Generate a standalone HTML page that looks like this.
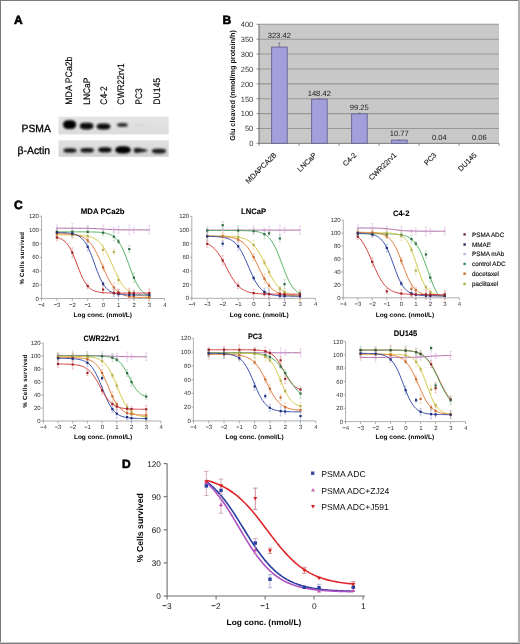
<!DOCTYPE html><html><head><meta charset="utf-8"><style>html,body{margin:0;padding:0;background:#fff;overflow:hidden}svg{display:block}text{font-family:"Liberation Sans",sans-serif;text-rendering:geometricPrecision}</style></head><body>
<svg width="520" height="644" viewBox="0 0 520 644" style="will-change:transform">
<rect width="520" height="644" fill="#fff"/>
<text x="14.00" y="23.90" font-size="12" stroke="#000" stroke-width="0.6" font-weight="bold">A</text>
<text transform="translate(72.10,104.70) rotate(-90)" font-size="9.5" stroke="#000" stroke-width="0.15" textLength="48.2" lengthAdjust="spacingAndGlyphs">MDA PCa2b</text>
<text transform="translate(90.00,104.70) rotate(-90)" font-size="9.5" stroke="#000" stroke-width="0.15" textLength="27.1" lengthAdjust="spacingAndGlyphs">LNCaP</text>
<text transform="translate(106.70,104.70) rotate(-90)" font-size="9.5" stroke="#000" stroke-width="0.15" textLength="18.3" lengthAdjust="spacingAndGlyphs">C4-2</text>
<text transform="translate(123.60,104.70) rotate(-90)" font-size="9.5" stroke="#000" stroke-width="0.15" textLength="41.5" lengthAdjust="spacingAndGlyphs">CWR22rv1</text>
<text transform="translate(142.30,104.70) rotate(-90)" font-size="9.5" stroke="#000" stroke-width="0.15" textLength="16.5" lengthAdjust="spacingAndGlyphs">PC3</text>
<text transform="translate(160.00,104.70) rotate(-90)" font-size="9.5" stroke="#000" stroke-width="0.15" textLength="26.6" lengthAdjust="spacingAndGlyphs">DU145</text>
<text x="21.50" y="132.30" font-size="10.5" stroke="#000" stroke-width="0.3" textLength="29.3" lengthAdjust="spacingAndGlyphs">PSMA</text>
<text x="17.60" y="153.80" font-size="10.5" stroke="#000" stroke-width="0.3" textLength="32.5" lengthAdjust="spacingAndGlyphs">β-Actin</text>
<defs><linearGradient id="gb1" x1="0" y1="0" x2="0" y2="1"><stop offset="0" stop-color="#e4e4e4"/><stop offset="1" stop-color="#dcdcdc"/></linearGradient><linearGradient id="gb2" x1="0" y1="0" x2="0" y2="1"><stop offset="0" stop-color="#e2e2e2"/><stop offset="1" stop-color="#d2d2d2"/></linearGradient><filter id="bl" x="-20%" y="-60%" width="140%" height="220%"><feGaussianBlur stdDeviation="0.85"/></filter></defs>
<rect x="58.50" y="116.60" width="110.20" height="17.80" fill="url(#gb1)"/>
<rect x="58.50" y="140.30" width="110.20" height="16.50" fill="url(#gb2)"/>
<g filter="url(#bl)">
<rect x="63.0" y="120.2" width="13.2" height="8.8" rx="4.8" ry="4.2" fill="#050505"/>
<rect x="79.8" y="122.8" width="13.6" height="6.6" rx="4.8" ry="3.3" fill="#080808"/>
<rect x="96.6" y="123.6" width="13.8" height="5.8" rx="5.0" ry="2.9" fill="#0a0a0a"/>
<rect x="117.0" y="123.0" width="10.8" height="3.8" rx="4.5" ry="1.9" fill="#2a2a2a"/>
<ellipse cx="140" cy="125" rx="5" ry="1.2" fill="#d8d8d8"/>
<rect x="63.5" y="148.3" width="13.0" height="4.4" rx="4.8" ry="2.2" fill="#1a1a1a"/>
<rect x="80.4" y="148.0" width="13.4" height="4.6" rx="4.8" ry="2.3" fill="#161616"/>
<rect x="98.2" y="147.2" width="13.4" height="5.2" rx="5.0" ry="2.6" fill="#101010"/>
<rect x="115.2" y="146.2" width="15.6" height="7.4" rx="6.0" ry="3.7" fill="#050505"/>
<rect x="151.8" y="148.8" width="14.2" height="4.6" rx="5.0" ry="2.3" fill="#1c1c1c"/>
<path d="M135.5,148.1 C139,147.8 141,148.5 143,149.1 C145.5,149.3 147.4,149.8 147.4,150.6 C147.4,151.6 145,151.9 143,152.1 C141,152.6 138,153.0 135.5,152.9 C133.3,152.6 133.3,148.3 135.5,148.1 Z" fill="#1e1e1e"/>
</g>
<text x="222.50" y="24.00" font-size="12" stroke="#000" stroke-width="0.6" font-weight="bold">B</text>
<text transform="translate(235.20,140.70) rotate(-90)" font-size="7.2" font-weight="bold" fill="#111" textLength="110.5" lengthAdjust="spacingAndGlyphs">Glu cleaved (nmol/mg protein/h)</text>
<rect x="259.00" y="24.30" width="240.00" height="119.05" fill="#c8c8c8"/>
<line x1="259.00" y1="128.47" x2="499.00" y2="128.47" stroke="#979797" stroke-width="1.1"/>
<line x1="259.00" y1="113.59" x2="499.00" y2="113.59" stroke="#979797" stroke-width="1.1"/>
<line x1="259.00" y1="98.71" x2="499.00" y2="98.71" stroke="#979797" stroke-width="1.1"/>
<line x1="259.00" y1="83.83" x2="499.00" y2="83.83" stroke="#979797" stroke-width="1.1"/>
<line x1="259.00" y1="68.94" x2="499.00" y2="68.94" stroke="#979797" stroke-width="1.1"/>
<line x1="259.00" y1="54.06" x2="499.00" y2="54.06" stroke="#979797" stroke-width="1.1"/>
<line x1="259.00" y1="39.18" x2="499.00" y2="39.18" stroke="#979797" stroke-width="1.1"/>
<line x1="259.00" y1="24.30" x2="499.00" y2="24.30" stroke="#979797" stroke-width="1.1"/>
<line x1="256.60" y1="143.35" x2="259.00" y2="143.35" stroke="#808080" stroke-width="0.9"/>
<text x="253.30" y="146.15" font-size="7.5" text-anchor="end" fill="#333">0</text>
<line x1="256.60" y1="128.47" x2="259.00" y2="128.47" stroke="#808080" stroke-width="0.9"/>
<text x="253.30" y="131.27" font-size="7.5" text-anchor="end" fill="#333">50</text>
<line x1="256.60" y1="113.59" x2="259.00" y2="113.59" stroke="#808080" stroke-width="0.9"/>
<text x="253.30" y="116.39" font-size="7.5" text-anchor="end" fill="#333">100</text>
<line x1="256.60" y1="98.71" x2="259.00" y2="98.71" stroke="#808080" stroke-width="0.9"/>
<text x="253.30" y="101.51" font-size="7.5" text-anchor="end" fill="#333">150</text>
<line x1="256.60" y1="83.83" x2="259.00" y2="83.83" stroke="#808080" stroke-width="0.9"/>
<text x="253.30" y="86.62" font-size="7.5" text-anchor="end" fill="#333">200</text>
<line x1="256.60" y1="68.94" x2="259.00" y2="68.94" stroke="#808080" stroke-width="0.9"/>
<text x="253.30" y="71.74" font-size="7.5" text-anchor="end" fill="#333">250</text>
<line x1="256.60" y1="54.06" x2="259.00" y2="54.06" stroke="#808080" stroke-width="0.9"/>
<text x="253.30" y="56.86" font-size="7.5" text-anchor="end" fill="#333">300</text>
<line x1="256.60" y1="39.18" x2="259.00" y2="39.18" stroke="#808080" stroke-width="0.9"/>
<text x="253.30" y="41.98" font-size="7.5" text-anchor="end" fill="#333">350</text>
<line x1="256.60" y1="24.30" x2="259.00" y2="24.30" stroke="#808080" stroke-width="0.9"/>
<text x="253.30" y="27.10" font-size="7.5" text-anchor="end" fill="#333">400</text>
<line x1="259.00" y1="24.30" x2="259.00" y2="143.85" stroke="#686868" stroke-width="1"/>
<line x1="259.00" y1="143.35" x2="499.00" y2="143.35" stroke="#7a7a7a" stroke-width="1"/>
<line x1="259.00" y1="143.35" x2="259.00" y2="145.95" stroke="#808080" stroke-width="0.9"/>
<line x1="299.00" y1="143.35" x2="299.00" y2="145.95" stroke="#808080" stroke-width="0.9"/>
<line x1="339.00" y1="143.35" x2="339.00" y2="145.95" stroke="#808080" stroke-width="0.9"/>
<line x1="379.00" y1="143.35" x2="379.00" y2="145.95" stroke="#808080" stroke-width="0.9"/>
<line x1="419.00" y1="143.35" x2="419.00" y2="145.95" stroke="#808080" stroke-width="0.9"/>
<line x1="459.00" y1="143.35" x2="459.00" y2="145.95" stroke="#808080" stroke-width="0.9"/>
<line x1="499.00" y1="143.35" x2="499.00" y2="145.95" stroke="#808080" stroke-width="0.9"/>
<rect x="271.60" y="47.09" width="15.6" height="96.26" fill="#a2a0da" stroke="#6a6a96" stroke-width="1.0"/>
<line x1="279.30" y1="47.09" x2="279.30" y2="42.93" stroke="#6a6a8a" stroke-width="0.7"/>
<line x1="278.10" y1="42.93" x2="280.50" y2="42.93" stroke="#6a6a8a" stroke-width="0.7"/>
<text x="279.30" y="37.90" font-size="7.6" text-anchor="middle" fill="#222">323.42</text>
<rect x="311.60" y="99.18" width="15.6" height="44.17" fill="#a2a0da" stroke="#6a6a96" stroke-width="1.0"/>
<line x1="319.30" y1="99.18" x2="319.30" y2="98.43" stroke="#6a6a8a" stroke-width="0.7"/>
<line x1="318.10" y1="98.43" x2="320.50" y2="98.43" stroke="#6a6a8a" stroke-width="0.7"/>
<text x="319.30" y="95.80" font-size="7.6" text-anchor="middle" fill="#222">148.42</text>
<rect x="351.60" y="113.81" width="15.6" height="29.54" fill="#a2a0da" stroke="#6a6a96" stroke-width="1.0"/>
<line x1="359.30" y1="113.81" x2="359.30" y2="113.07" stroke="#6a6a8a" stroke-width="0.7"/>
<line x1="358.10" y1="113.07" x2="360.50" y2="113.07" stroke="#6a6a8a" stroke-width="0.7"/>
<text x="359.30" y="109.80" font-size="7.6" text-anchor="middle" fill="#222">99.25</text>
<rect x="391.60" y="140.14" width="15.6" height="3.21" fill="#a2a0da" stroke="#6a6a96" stroke-width="1.0"/>
<line x1="399.30" y1="140.14" x2="399.30" y2="140.00" stroke="#6a6a8a" stroke-width="0.7"/>
<line x1="398.10" y1="140.00" x2="400.50" y2="140.00" stroke="#6a6a8a" stroke-width="0.7"/>
<text x="399.30" y="135.50" font-size="7.6" text-anchor="middle" fill="#222">10.77</text>
<text x="439.30" y="139.50" font-size="7.6" text-anchor="middle" fill="#222">0.04</text>
<text x="479.30" y="139.50" font-size="7.6" text-anchor="middle" fill="#222">0.06</text>
<text transform="translate(277.00,155.60) rotate(-45)" font-size="7.3" stroke="#222" stroke-width="0.15" text-anchor="end" fill="#222">MDAPCA2B</text>
<text transform="translate(317.00,155.60) rotate(-45)" font-size="7.3" stroke="#222" stroke-width="0.15" text-anchor="end" fill="#222">LNCaP</text>
<text transform="translate(357.00,155.60) rotate(-45)" font-size="7.3" stroke="#222" stroke-width="0.15" text-anchor="end" fill="#222">C4-2</text>
<text transform="translate(397.00,155.60) rotate(-45)" font-size="7.3" stroke="#222" stroke-width="0.15" text-anchor="end" fill="#222">CWR22rv1</text>
<text transform="translate(437.00,155.60) rotate(-45)" font-size="7.3" stroke="#222" stroke-width="0.15" text-anchor="end" fill="#222">PC3</text>
<text transform="translate(477.00,155.60) rotate(-45)" font-size="7.3" stroke="#222" stroke-width="0.15" text-anchor="end" fill="#222">DU145</text>
<line x1="41.50" y1="216.20" x2="41.50" y2="298.90" stroke="#9a9a9a" stroke-width="0.8"/>
<line x1="41.10" y1="298.50" x2="164.70" y2="298.50" stroke="#9a9a9a" stroke-width="0.8"/>
<line x1="39.60" y1="298.50" x2="41.50" y2="298.50" stroke="#9a9a9a" stroke-width="0.8"/>
<text x="38.90" y="300.60" font-size="6" text-anchor="end" fill="#333">0</text>
<line x1="39.60" y1="284.78" x2="41.50" y2="284.78" stroke="#9a9a9a" stroke-width="0.8"/>
<text x="38.90" y="286.88" font-size="6" text-anchor="end" fill="#333">20</text>
<line x1="39.60" y1="271.07" x2="41.50" y2="271.07" stroke="#9a9a9a" stroke-width="0.8"/>
<text x="38.90" y="273.17" font-size="6" text-anchor="end" fill="#333">40</text>
<line x1="39.60" y1="257.35" x2="41.50" y2="257.35" stroke="#9a9a9a" stroke-width="0.8"/>
<text x="38.90" y="259.45" font-size="6" text-anchor="end" fill="#333">60</text>
<line x1="39.60" y1="243.63" x2="41.50" y2="243.63" stroke="#9a9a9a" stroke-width="0.8"/>
<text x="38.90" y="245.73" font-size="6" text-anchor="end" fill="#333">80</text>
<line x1="39.60" y1="229.92" x2="41.50" y2="229.92" stroke="#9a9a9a" stroke-width="0.8"/>
<text x="38.90" y="232.02" font-size="6" text-anchor="end" fill="#333">100</text>
<line x1="39.60" y1="216.20" x2="41.50" y2="216.20" stroke="#9a9a9a" stroke-width="0.8"/>
<text x="38.90" y="218.30" font-size="6" text-anchor="end" fill="#333">120</text>
<line x1="41.50" y1="298.50" x2="41.50" y2="300.90" stroke="#9a9a9a" stroke-width="0.8"/>
<rect x="38.60" y="304.25" width="2.80" height="0.75" fill="#444"/>
<text x="41.60" y="306.60" font-size="6" fill="#333">4</text>
<line x1="56.90" y1="298.50" x2="56.90" y2="300.90" stroke="#9a9a9a" stroke-width="0.8"/>
<rect x="54.00" y="304.25" width="2.80" height="0.75" fill="#444"/>
<text x="57.00" y="306.60" font-size="6" fill="#333">3</text>
<line x1="72.30" y1="298.50" x2="72.30" y2="300.90" stroke="#9a9a9a" stroke-width="0.8"/>
<rect x="69.40" y="304.25" width="2.80" height="0.75" fill="#444"/>
<text x="72.40" y="306.60" font-size="6" fill="#333">2</text>
<line x1="87.70" y1="298.50" x2="87.70" y2="300.90" stroke="#9a9a9a" stroke-width="0.8"/>
<rect x="84.80" y="304.25" width="2.80" height="0.75" fill="#444"/>
<text x="87.80" y="306.60" font-size="6" fill="#333">1</text>
<line x1="103.10" y1="298.50" x2="103.10" y2="300.90" stroke="#9a9a9a" stroke-width="0.8"/>
<text x="103.30" y="306.60" font-size="6" text-anchor="middle" fill="#333">0</text>
<line x1="118.50" y1="298.50" x2="118.50" y2="300.90" stroke="#9a9a9a" stroke-width="0.8"/>
<text x="118.70" y="306.60" font-size="6" text-anchor="middle" fill="#333">1</text>
<line x1="133.90" y1="298.50" x2="133.90" y2="300.90" stroke="#9a9a9a" stroke-width="0.8"/>
<text x="134.10" y="306.60" font-size="6" text-anchor="middle" fill="#333">2</text>
<line x1="149.30" y1="298.50" x2="149.30" y2="300.90" stroke="#9a9a9a" stroke-width="0.8"/>
<text x="149.50" y="306.60" font-size="6" text-anchor="middle" fill="#333">3</text>
<line x1="164.70" y1="298.50" x2="164.70" y2="300.90" stroke="#9a9a9a" stroke-width="0.8"/>
<text x="164.90" y="306.60" font-size="6" text-anchor="middle" fill="#333">4</text>
<text x="80.80" y="214.00" font-size="7.9" stroke="#000" stroke-width="0.1" font-weight="bold" textLength="43.8" lengthAdjust="spacingAndGlyphs">MDA PCa2b</text>
<text x="73.50" y="317.30" font-size="6.4" font-weight="bold" textLength="58.5" lengthAdjust="spacingAndGlyphs">Log conc. (nmol/L)</text>
<text transform="translate(23.70,284.60) rotate(-90)" font-size="6.1" font-weight="bold" textLength="52.70000000000002" lengthAdjust="spacing">% Cells survived</text>
<path d="M56.90,224.77V231.63M55.80,224.77h2.2M55.80,231.63h2.2" stroke="#e0b8e4" stroke-width="0.6" fill="none"/>
<path d="M72.30,223.42V233.02M71.20,223.42h2.2M71.20,233.02h2.2" stroke="#e0b8e4" stroke-width="0.6" fill="none"/>
<path d="M87.70,225.61V231.10M86.60,225.61h2.2M86.60,231.10h2.2" stroke="#e0b8e4" stroke-width="0.6" fill="none"/>
<path d="M103.10,224.94V233.17M102.00,224.94h2.2M102.00,233.17h2.2" stroke="#e0b8e4" stroke-width="0.6" fill="none"/>
<path d="M113.88,227.57V231.69M112.78,227.57h2.2M112.78,231.69h2.2" stroke="#e0b8e4" stroke-width="0.6" fill="none"/>
<path d="M118.50,226.33V233.19M117.40,226.33h2.2M117.40,233.19h2.2" stroke="#e0b8e4" stroke-width="0.6" fill="none"/>
<path d="M129.28,225.08V234.68M128.18,225.08h2.2M128.18,234.68h2.2" stroke="#e0b8e4" stroke-width="0.6" fill="none"/>
<path d="M133.90,227.16V232.64M132.80,227.16h2.2M132.80,232.64h2.2" stroke="#e0b8e4" stroke-width="0.6" fill="none"/>
<path d="M149.30,225.80V234.03M148.20,225.80h2.2M148.20,234.03h2.2" stroke="#e0b8e4" stroke-width="0.6" fill="none"/>
<path d="M56.90,229.78V233.89M55.80,229.78h2.2M55.80,233.89h2.2" stroke="#a8d0b0" stroke-width="0.6" fill="none"/>
<path d="M72.30,228.41V235.27M71.20,228.41h2.2M71.20,235.27h2.2" stroke="#a8d0b0" stroke-width="0.6" fill="none"/>
<path d="M87.70,227.10V236.70M86.60,227.10h2.2M86.60,236.70h2.2" stroke="#a8d0b0" stroke-width="0.6" fill="none"/>
<path d="M103.10,229.95V235.44M102.00,229.95h2.2M102.00,235.44h2.2" stroke="#a8d0b0" stroke-width="0.6" fill="none"/>
<path d="M113.88,232.60V240.83M112.78,232.60h2.2M112.78,240.83h2.2" stroke="#a8d0b0" stroke-width="0.6" fill="none"/>
<path d="M118.50,239.52V243.63M117.40,239.52h2.2M117.40,243.63h2.2" stroke="#a8d0b0" stroke-width="0.6" fill="none"/>
<path d="M129.28,245.69V252.55M128.18,245.69h2.2M128.18,252.55h2.2" stroke="#a8d0b0" stroke-width="0.6" fill="none"/>
<path d="M133.90,272.91V282.51M132.80,272.91h2.2M132.80,282.51h2.2" stroke="#a8d0b0" stroke-width="0.6" fill="none"/>
<path d="M149.30,292.95V298.44M148.20,292.95h2.2M148.20,298.44h2.2" stroke="#a8d0b0" stroke-width="0.6" fill="none"/>
<path d="M56.90,230.69V238.92M55.80,230.69h2.2M55.80,238.92h2.2" stroke="#e4dca0" stroke-width="0.6" fill="none"/>
<path d="M72.30,232.88V236.99M71.20,232.88h2.2M71.20,236.99h2.2" stroke="#e4dca0" stroke-width="0.6" fill="none"/>
<path d="M87.70,232.80V239.66M86.60,232.80h2.2M86.60,239.66h2.2" stroke="#e4dca0" stroke-width="0.6" fill="none"/>
<path d="M103.10,245.00V254.61M102.00,245.00h2.2M102.00,254.61h2.2" stroke="#e4dca0" stroke-width="0.6" fill="none"/>
<path d="M113.88,249.12V254.61M112.78,249.12h2.2M112.78,254.61h2.2" stroke="#e4dca0" stroke-width="0.6" fill="none"/>
<path d="M118.50,275.87V284.10M117.40,275.87h2.2M117.40,284.10h2.2" stroke="#e4dca0" stroke-width="0.6" fill="none"/>
<path d="M129.28,289.65V293.77M128.18,289.65h2.2M128.18,293.77h2.2" stroke="#e4dca0" stroke-width="0.6" fill="none"/>
<path d="M133.90,290.55V297.40M132.80,290.55h2.2M132.80,297.40h2.2" stroke="#e4dca0" stroke-width="0.6" fill="none"/>
<path d="M149.30,291.39V300.99M148.20,291.39h2.2M148.20,300.99h2.2" stroke="#e4dca0" stroke-width="0.6" fill="none"/>
<path d="M56.90,230.83V236.32M55.80,230.83h2.2M55.80,236.32h2.2" stroke="#ecc0a0" stroke-width="0.6" fill="none"/>
<path d="M72.30,230.20V238.43M71.20,230.20h2.2M71.20,238.43h2.2" stroke="#ecc0a0" stroke-width="0.6" fill="none"/>
<path d="M87.70,238.38V242.50M86.60,238.38h2.2M86.60,242.50h2.2" stroke="#ecc0a0" stroke-width="0.6" fill="none"/>
<path d="M103.10,263.97V270.82M102.00,263.97h2.2M102.00,270.82h2.2" stroke="#ecc0a0" stroke-width="0.6" fill="none"/>
<path d="M113.88,282.72V292.32M112.78,282.72h2.2M112.78,292.32h2.2" stroke="#ecc0a0" stroke-width="0.6" fill="none"/>
<path d="M118.50,289.31V294.79M117.40,289.31h2.2M117.40,294.79h2.2" stroke="#ecc0a0" stroke-width="0.6" fill="none"/>
<path d="M129.28,292.34V300.57M128.18,292.34h2.2M128.18,300.57h2.2" stroke="#ecc0a0" stroke-width="0.6" fill="none"/>
<path d="M133.90,295.02V299.13M132.80,295.02h2.2M132.80,299.13h2.2" stroke="#ecc0a0" stroke-width="0.6" fill="none"/>
<path d="M149.30,294.24V301.10M148.20,294.24h2.2M148.20,301.10h2.2" stroke="#ecc0a0" stroke-width="0.6" fill="none"/>
<path d="M56.90,227.73V237.33M55.80,227.73h2.2M55.80,237.33h2.2" stroke="#a0a8d8" stroke-width="0.6" fill="none"/>
<path d="M72.30,230.89V236.37M71.20,230.89h2.2M71.20,236.37h2.2" stroke="#a0a8d8" stroke-width="0.6" fill="none"/>
<path d="M87.70,242.66V250.89M86.60,242.66h2.2M86.60,250.89h2.2" stroke="#a0a8d8" stroke-width="0.6" fill="none"/>
<path d="M103.10,281.78V285.89M102.00,281.78h2.2M102.00,285.89h2.2" stroke="#a0a8d8" stroke-width="0.6" fill="none"/>
<path d="M113.88,289.64V296.50M112.78,289.64h2.2M112.78,296.50h2.2" stroke="#a0a8d8" stroke-width="0.6" fill="none"/>
<path d="M118.50,289.34V298.94M117.40,289.34h2.2M117.40,298.94h2.2" stroke="#a0a8d8" stroke-width="0.6" fill="none"/>
<path d="M129.28,292.13V297.62M128.18,292.13h2.2M128.18,297.62h2.2" stroke="#a0a8d8" stroke-width="0.6" fill="none"/>
<path d="M133.90,290.83V299.06M132.80,290.83h2.2M132.80,299.06h2.2" stroke="#a0a8d8" stroke-width="0.6" fill="none"/>
<path d="M149.30,292.94V297.06M148.20,292.94h2.2M148.20,297.06h2.2" stroke="#a0a8d8" stroke-width="0.6" fill="none"/>
<path d="M56.90,234.08V240.94M55.80,234.08h2.2M55.80,240.94h2.2" stroke="#e4a0a0" stroke-width="0.6" fill="none"/>
<path d="M72.30,247.83V257.43M71.20,247.83h2.2M71.20,257.43h2.2" stroke="#e4a0a0" stroke-width="0.6" fill="none"/>
<path d="M87.70,283.33V288.82M86.60,283.33h2.2M86.60,288.82h2.2" stroke="#e4a0a0" stroke-width="0.6" fill="none"/>
<path d="M103.10,285.47V293.70M102.00,285.47h2.2M102.00,293.70h2.2" stroke="#e4a0a0" stroke-width="0.6" fill="none"/>
<path d="M113.88,290.96V295.08M112.78,290.96h2.2M112.78,295.08h2.2" stroke="#e4a0a0" stroke-width="0.6" fill="none"/>
<path d="M118.50,289.63V296.49M117.40,289.63h2.2M117.40,296.49h2.2" stroke="#e4a0a0" stroke-width="0.6" fill="none"/>
<path d="M129.28,288.28V297.88M128.18,288.28h2.2M128.18,297.88h2.2" stroke="#e4a0a0" stroke-width="0.6" fill="none"/>
<path d="M133.90,290.34V295.82M132.80,290.34h2.2M132.80,295.82h2.2" stroke="#e4a0a0" stroke-width="0.6" fill="none"/>
<path d="M149.30,288.97V297.20M148.20,288.97h2.2M148.20,297.20h2.2" stroke="#e4a0a0" stroke-width="0.6" fill="none"/>
<polyline points="56.90,228.20 58.05,228.20 59.21,228.20 60.36,228.20 61.52,228.21 62.67,228.21 63.83,228.21 64.98,228.21 66.14,228.21 67.29,228.21 68.45,228.21 69.61,228.21 70.76,228.22 71.91,228.22 73.07,228.22 74.22,228.22 75.38,228.23 76.53,228.23 77.69,228.24 78.84,228.25 80.00,228.25 81.16,228.26 82.31,228.28 83.47,228.29 84.62,228.30 85.78,228.32 86.93,228.34 88.08,228.37 89.24,228.39 90.39,228.43 91.55,228.46 92.70,228.50 93.86,228.55 95.01,228.60 96.17,228.65 97.32,228.71 98.48,228.77 99.63,228.84 100.79,228.91 101.94,228.99 103.10,229.06 104.25,229.13 105.41,229.21 106.56,229.28 107.72,229.34 108.88,229.41 110.03,229.47 111.19,229.52 112.34,229.57 113.49,229.62 114.65,229.66 115.80,229.69 116.96,229.72 118.11,229.75 119.27,229.78 120.42,229.80 121.58,229.81 122.73,229.83 123.89,229.84 125.04,229.85 126.20,229.86 127.35,229.87 128.51,229.88 129.66,229.88 130.82,229.89 131.97,229.89 133.13,229.90 134.28,229.90 135.44,229.90 136.59,229.91 137.75,229.91 138.90,229.91 140.06,229.91 141.21,229.91 142.37,229.91 143.52,229.91 144.68,229.91 145.83,229.91 146.99,229.91 148.14,229.91 149.30,229.91" fill="none" stroke="#a8609f" stroke-width="0.95"/>
<polyline points="56.90,231.84 58.05,231.84 59.21,231.84 60.36,231.84 61.52,231.84 62.67,231.84 63.83,231.84 64.98,231.84 66.14,231.84 67.29,231.84 68.45,231.84 69.61,231.84 70.76,231.84 71.91,231.84 73.07,231.84 74.22,231.84 75.38,231.85 76.53,231.85 77.69,231.85 78.84,231.85 80.00,231.86 81.16,231.86 82.31,231.86 83.47,231.87 84.62,231.88 85.78,231.88 86.93,231.89 88.08,231.91 89.24,231.92 90.39,231.94 91.55,231.96 92.70,231.99 93.86,232.02 95.01,232.06 96.17,232.11 97.32,232.16 98.48,232.23 99.63,232.32 100.79,232.42 101.94,232.54 103.10,232.69 104.25,232.87 105.41,233.09 106.56,233.35 107.72,233.66 108.88,234.04 110.03,234.49 111.19,235.03 112.34,235.67 113.49,236.43 114.65,237.33 115.80,238.39 116.96,239.62 118.11,241.05 119.27,242.69 120.42,244.56 121.58,246.67 122.73,249.01 123.89,251.58 125.04,254.35 126.20,257.30 127.35,260.39 128.51,263.55 129.66,266.74 130.82,269.89 131.97,272.95 133.13,275.87 134.28,278.60 135.44,281.13 136.59,283.42 137.75,285.48 138.90,287.30 140.06,288.90 141.21,290.29 142.37,291.49 143.52,292.51 144.68,293.38 145.83,294.12 146.99,294.74 148.14,295.26 149.30,295.69" fill="none" stroke="#4cac58" stroke-width="0.95"/>
<polyline points="56.90,234.80 58.05,234.80 59.21,234.81 60.36,234.81 61.52,234.82 62.67,234.82 63.83,234.83 64.98,234.84 66.14,234.84 67.29,234.86 68.45,234.87 69.61,234.88 70.76,234.90 71.91,234.93 73.07,234.95 74.22,234.98 75.38,235.02 76.53,235.06 77.69,235.12 78.84,235.18 80.00,235.25 81.16,235.34 82.31,235.44 83.47,235.56 84.62,235.71 85.78,235.88 86.93,236.08 88.08,236.31 89.24,236.59 90.39,236.92 91.55,237.31 92.70,237.76 93.86,238.29 95.01,238.91 96.17,239.62 97.32,240.45 98.48,241.40 99.63,242.49 100.79,243.74 101.94,245.14 103.10,246.71 104.25,248.46 105.41,250.39 106.56,252.49 107.72,254.74 108.88,257.14 110.03,259.66 111.19,262.26 112.34,264.90 113.49,267.56 114.65,270.19 115.80,272.76 116.96,275.22 118.11,277.56 119.27,279.74 120.42,281.76 121.58,283.60 122.73,285.27 123.89,286.76 125.04,288.09 126.20,289.26 127.35,290.29 128.51,291.18 129.66,291.95 130.82,292.62 131.97,293.20 133.13,293.69 134.28,294.11 135.44,294.47 136.59,294.77 137.75,295.03 138.90,295.25 140.06,295.44 141.21,295.59 142.37,295.73 143.52,295.84 144.68,295.93 145.83,296.01 146.99,296.08 148.14,296.14 149.30,296.19" fill="none" stroke="#d2c640" stroke-width="0.95"/>
<polyline points="56.90,233.57 58.05,233.59 59.21,233.61 60.36,233.63 61.52,233.66 62.67,233.69 63.83,233.73 64.98,233.78 66.14,233.83 67.29,233.89 68.45,233.97 69.61,234.05 70.76,234.15 71.91,234.27 73.07,234.42 74.22,234.58 75.38,234.78 76.53,235.01 77.69,235.27 78.84,235.59 80.00,235.96 81.16,236.38 82.31,236.88 83.47,237.46 84.62,238.13 85.78,238.90 86.93,239.78 88.08,240.79 89.24,241.94 90.39,243.24 91.55,244.70 92.70,246.33 93.86,248.12 95.01,250.09 96.17,252.22 97.32,254.50 98.48,256.92 99.63,259.45 100.79,262.06 101.94,264.72 103.10,267.40 104.25,270.04 105.41,272.63 106.56,275.13 107.72,277.50 108.88,279.74 110.03,281.81 111.19,283.72 112.34,285.46 113.49,287.03 114.65,288.44 115.80,289.69 116.96,290.79 118.11,291.76 119.27,292.60 120.42,293.34 121.58,293.97 122.73,294.52 123.89,295.00 125.04,295.40 126.20,295.75 127.35,296.05 128.51,296.30 129.66,296.52 130.82,296.70 131.97,296.86 133.13,297.00 134.28,297.11 135.44,297.21 136.59,297.29 137.75,297.36 138.90,297.42 140.06,297.47 141.21,297.51 142.37,297.55 143.52,297.58 144.68,297.60 145.83,297.62 146.99,297.64 148.14,297.66 149.30,297.67" fill="none" stroke="#de7632" stroke-width="0.95"/>
<polyline points="56.90,232.53 58.05,232.55 59.21,232.57 60.36,232.60 61.52,232.63 62.67,232.67 63.83,232.72 64.98,232.78 66.14,232.85 67.29,232.94 68.45,233.05 69.61,233.19 70.76,233.35 71.91,233.55 73.07,233.80 74.22,234.10 75.38,234.46 76.53,234.90 77.69,235.44 78.84,236.08 80.00,236.84 81.16,237.76 82.31,238.85 83.47,240.13 84.62,241.62 85.78,243.35 86.93,245.32 88.08,247.55 89.24,250.03 90.39,252.73 91.55,255.65 92.70,258.72 93.86,261.89 95.01,265.10 96.17,268.28 97.32,271.37 98.48,274.31 99.63,277.05 100.79,279.56 101.94,281.82 103.10,283.83 104.25,285.60 105.41,287.12 106.56,288.43 107.72,289.55 108.88,290.49 110.03,291.28 111.19,291.93 112.34,292.48 113.49,292.93 114.65,293.31 115.80,293.62 116.96,293.87 118.11,294.08 119.27,294.25 120.42,294.39 121.58,294.50 122.73,294.59 123.89,294.67 125.04,294.73 126.20,294.78 127.35,294.82 128.51,294.85 129.66,294.88 130.82,294.90 131.97,294.92 133.13,294.94 134.28,294.95 135.44,294.96 136.59,294.97 137.75,294.97 138.90,294.98 140.06,294.98 141.21,294.99 142.37,294.99 143.52,294.99 144.68,294.99 145.83,295.00 146.99,295.00 148.14,295.00 149.30,295.00" fill="none" stroke="#3048a6" stroke-width="0.95"/>
<polyline points="56.90,237.51 58.05,237.81 59.21,238.18 60.36,238.63 61.52,239.17 62.67,239.83 63.83,240.63 64.98,241.58 66.14,242.72 67.29,244.06 68.45,245.63 69.61,247.44 70.76,249.50 71.91,251.81 73.07,254.35 74.22,257.10 75.38,260.01 76.53,263.03 77.69,266.08 78.84,269.10 80.00,272.01 81.16,274.78 82.31,277.34 83.47,279.66 84.62,281.74 85.78,283.56 86.93,285.15 88.08,286.50 89.24,287.65 90.39,288.62 91.55,289.43 92.70,290.10 93.86,290.65 95.01,291.10 96.17,291.48 97.32,291.78 98.48,292.03 99.63,292.23 100.79,292.39 101.94,292.52 103.10,292.63 104.25,292.72 105.41,292.79 106.56,292.84 107.72,292.89 108.88,292.93 110.03,292.96 111.19,292.98 112.34,293.00 113.49,293.02 114.65,293.03 115.80,293.04 116.96,293.05 118.11,293.05 119.27,293.06 120.42,293.06 121.58,293.07 122.73,293.07 123.89,293.07 125.04,293.07 126.20,293.08 127.35,293.08 128.51,293.08 129.66,293.08 130.82,293.08 131.97,293.08 133.13,293.08 134.28,293.08 135.44,293.08 136.59,293.08 137.75,293.08 138.90,293.08 140.06,293.08 141.21,293.08 142.37,293.08 143.52,293.08 144.68,293.08 145.83,293.08 146.99,293.08 148.14,293.08 149.30,293.08" fill="none" stroke="#d23636" stroke-width="0.95"/>
<rect x="55.90" y="227.20" width="2.0" height="2.0" fill="#d4a8d8" fill-opacity="0.6"/>
<rect x="71.30" y="227.22" width="2.0" height="2.0" fill="#d4a8d8" fill-opacity="0.6"/>
<rect x="86.70" y="227.36" width="2.0" height="2.0" fill="#d4a8d8" fill-opacity="0.6"/>
<rect x="102.10" y="228.06" width="2.0" height="2.0" fill="#d4a8d8" fill-opacity="0.6"/>
<rect x="112.88" y="228.63" width="2.0" height="2.0" fill="#d4a8d8" fill-opacity="0.6"/>
<rect x="117.50" y="228.76" width="2.0" height="2.0" fill="#d4a8d8" fill-opacity="0.6"/>
<rect x="128.28" y="228.88" width="2.0" height="2.0" fill="#d4a8d8" fill-opacity="0.6"/>
<rect x="132.90" y="228.90" width="2.0" height="2.0" fill="#d4a8d8" fill-opacity="0.6"/>
<rect x="148.30" y="228.91" width="2.0" height="2.0" fill="#d4a8d8" fill-opacity="0.6"/>
<rect x="55.80" y="230.74" width="2.2" height="2.2" fill="#2e6a44"/>
<rect x="71.20" y="230.74" width="2.2" height="2.2" fill="#2e6a44"/>
<rect x="86.60" y="230.80" width="2.2" height="2.2" fill="#2e6a44"/>
<rect x="102.00" y="231.59" width="2.2" height="2.2" fill="#2e6a44"/>
<rect x="112.78" y="235.62" width="2.2" height="2.2" fill="#2e6a44"/>
<rect x="117.40" y="240.47" width="2.2" height="2.2" fill="#2e6a44"/>
<rect x="128.18" y="248.02" width="2.2" height="2.2" fill="#2e6a44"/>
<rect x="132.80" y="276.61" width="2.2" height="2.2" fill="#2e6a44"/>
<rect x="148.20" y="294.59" width="2.2" height="2.2" fill="#2e6a44"/>
<rect x="55.80" y="233.70" width="2.2" height="2.2" fill="#b8b050"/>
<rect x="71.20" y="233.83" width="2.2" height="2.2" fill="#b8b050"/>
<rect x="86.60" y="235.13" width="2.2" height="2.2" fill="#b8b050"/>
<rect x="102.00" y="248.71" width="2.2" height="2.2" fill="#b8b050"/>
<rect x="112.78" y="250.76" width="2.2" height="2.2" fill="#b8b050"/>
<rect x="117.40" y="278.88" width="2.2" height="2.2" fill="#b8b050"/>
<rect x="128.18" y="290.61" width="2.2" height="2.2" fill="#b8b050"/>
<rect x="132.80" y="292.88" width="2.2" height="2.2" fill="#b8b050"/>
<rect x="148.20" y="295.09" width="2.2" height="2.2" fill="#b8b050"/>
<rect x="55.80" y="232.47" width="2.2" height="2.2" fill="#c86a30"/>
<rect x="71.20" y="233.22" width="2.2" height="2.2" fill="#c86a30"/>
<rect x="86.60" y="239.34" width="2.2" height="2.2" fill="#c86a30"/>
<rect x="102.00" y="266.30" width="2.2" height="2.2" fill="#c86a30"/>
<rect x="112.78" y="286.42" width="2.2" height="2.2" fill="#c86a30"/>
<rect x="117.40" y="290.95" width="2.2" height="2.2" fill="#c86a30"/>
<rect x="128.18" y="295.35" width="2.2" height="2.2" fill="#c86a30"/>
<rect x="132.80" y="295.97" width="2.2" height="2.2" fill="#c86a30"/>
<rect x="148.20" y="296.57" width="2.2" height="2.2" fill="#c86a30"/>
<rect x="55.80" y="231.43" width="2.2" height="2.2" fill="#1e2c7a"/>
<rect x="71.20" y="232.53" width="2.2" height="2.2" fill="#1e2c7a"/>
<rect x="86.60" y="245.68" width="2.2" height="2.2" fill="#1e2c7a"/>
<rect x="102.00" y="282.73" width="2.2" height="2.2" fill="#1e2c7a"/>
<rect x="112.78" y="291.97" width="2.2" height="2.2" fill="#1e2c7a"/>
<rect x="117.40" y="293.04" width="2.2" height="2.2" fill="#1e2c7a"/>
<rect x="128.18" y="293.77" width="2.2" height="2.2" fill="#1e2c7a"/>
<rect x="132.80" y="293.85" width="2.2" height="2.2" fill="#1e2c7a"/>
<rect x="148.20" y="293.90" width="2.2" height="2.2" fill="#1e2c7a"/>
<rect x="55.80" y="236.41" width="2.2" height="2.2" fill="#9a2428"/>
<rect x="71.20" y="251.53" width="2.2" height="2.2" fill="#9a2428"/>
<rect x="86.60" y="284.98" width="2.2" height="2.2" fill="#9a2428"/>
<rect x="102.00" y="288.48" width="2.2" height="2.2" fill="#9a2428"/>
<rect x="112.78" y="291.92" width="2.2" height="2.2" fill="#9a2428"/>
<rect x="117.40" y="291.96" width="2.2" height="2.2" fill="#9a2428"/>
<rect x="128.18" y="291.98" width="2.2" height="2.2" fill="#9a2428"/>
<rect x="132.80" y="291.98" width="2.2" height="2.2" fill="#9a2428"/>
<rect x="148.20" y="291.98" width="2.2" height="2.2" fill="#9a2428"/>
<line x1="191.80" y1="216.30" x2="191.80" y2="298.70" stroke="#9a9a9a" stroke-width="0.8"/>
<line x1="191.40" y1="298.30" x2="315.40" y2="298.30" stroke="#9a9a9a" stroke-width="0.8"/>
<line x1="189.90" y1="298.30" x2="191.80" y2="298.30" stroke="#9a9a9a" stroke-width="0.8"/>
<text x="189.20" y="300.40" font-size="6" text-anchor="end" fill="#333">0</text>
<line x1="189.90" y1="284.63" x2="191.80" y2="284.63" stroke="#9a9a9a" stroke-width="0.8"/>
<text x="189.20" y="286.73" font-size="6" text-anchor="end" fill="#333">20</text>
<line x1="189.90" y1="270.97" x2="191.80" y2="270.97" stroke="#9a9a9a" stroke-width="0.8"/>
<text x="189.20" y="273.07" font-size="6" text-anchor="end" fill="#333">40</text>
<line x1="189.90" y1="257.30" x2="191.80" y2="257.30" stroke="#9a9a9a" stroke-width="0.8"/>
<text x="189.20" y="259.40" font-size="6" text-anchor="end" fill="#333">60</text>
<line x1="189.90" y1="243.63" x2="191.80" y2="243.63" stroke="#9a9a9a" stroke-width="0.8"/>
<text x="189.20" y="245.73" font-size="6" text-anchor="end" fill="#333">80</text>
<line x1="189.90" y1="229.97" x2="191.80" y2="229.97" stroke="#9a9a9a" stroke-width="0.8"/>
<text x="189.20" y="232.07" font-size="6" text-anchor="end" fill="#333">100</text>
<line x1="189.90" y1="216.30" x2="191.80" y2="216.30" stroke="#9a9a9a" stroke-width="0.8"/>
<text x="189.20" y="218.40" font-size="6" text-anchor="end" fill="#333">120</text>
<line x1="191.80" y1="298.30" x2="191.80" y2="300.70" stroke="#9a9a9a" stroke-width="0.8"/>
<rect x="188.90" y="304.05" width="2.80" height="0.75" fill="#444"/>
<text x="191.90" y="306.40" font-size="6" fill="#333">4</text>
<line x1="207.25" y1="298.30" x2="207.25" y2="300.70" stroke="#9a9a9a" stroke-width="0.8"/>
<rect x="204.35" y="304.05" width="2.80" height="0.75" fill="#444"/>
<text x="207.35" y="306.40" font-size="6" fill="#333">3</text>
<line x1="222.70" y1="298.30" x2="222.70" y2="300.70" stroke="#9a9a9a" stroke-width="0.8"/>
<rect x="219.80" y="304.05" width="2.80" height="0.75" fill="#444"/>
<text x="222.80" y="306.40" font-size="6" fill="#333">2</text>
<line x1="238.15" y1="298.30" x2="238.15" y2="300.70" stroke="#9a9a9a" stroke-width="0.8"/>
<rect x="235.25" y="304.05" width="2.80" height="0.75" fill="#444"/>
<text x="238.25" y="306.40" font-size="6" fill="#333">1</text>
<line x1="253.60" y1="298.30" x2="253.60" y2="300.70" stroke="#9a9a9a" stroke-width="0.8"/>
<text x="253.80" y="306.40" font-size="6" text-anchor="middle" fill="#333">0</text>
<line x1="269.05" y1="298.30" x2="269.05" y2="300.70" stroke="#9a9a9a" stroke-width="0.8"/>
<text x="269.25" y="306.40" font-size="6" text-anchor="middle" fill="#333">1</text>
<line x1="284.50" y1="298.30" x2="284.50" y2="300.70" stroke="#9a9a9a" stroke-width="0.8"/>
<text x="284.70" y="306.40" font-size="6" text-anchor="middle" fill="#333">2</text>
<line x1="299.95" y1="298.30" x2="299.95" y2="300.70" stroke="#9a9a9a" stroke-width="0.8"/>
<text x="300.15" y="306.40" font-size="6" text-anchor="middle" fill="#333">3</text>
<line x1="315.40" y1="298.30" x2="315.40" y2="300.70" stroke="#9a9a9a" stroke-width="0.8"/>
<text x="315.60" y="306.40" font-size="6" text-anchor="middle" fill="#333">4</text>
<text x="241.00" y="214.00" font-size="7.9" stroke="#000" stroke-width="0.1" font-weight="bold" textLength="25.0" lengthAdjust="spacingAndGlyphs">LNCaP</text>
<text x="229.80" y="317.20" font-size="6.4" font-weight="bold" textLength="59.0" lengthAdjust="spacingAndGlyphs">Log conc. (nmol/L)</text>
<path d="M207.25,226.69V233.52M206.15,226.69h2.2M206.15,233.52h2.2" stroke="#e0b8e4" stroke-width="0.6" fill="none"/>
<path d="M222.70,225.32V234.89M221.60,225.32h2.2M221.60,234.89h2.2" stroke="#e0b8e4" stroke-width="0.6" fill="none"/>
<path d="M238.15,227.37V232.84M237.05,227.37h2.2M237.05,232.84h2.2" stroke="#e0b8e4" stroke-width="0.6" fill="none"/>
<path d="M253.60,226.00V234.20M252.50,226.00h2.2M252.50,234.20h2.2" stroke="#e0b8e4" stroke-width="0.6" fill="none"/>
<path d="M264.41,228.05V232.15M263.31,228.05h2.2M263.31,232.15h2.2" stroke="#e0b8e4" stroke-width="0.6" fill="none"/>
<path d="M269.05,226.69V233.52M267.95,226.69h2.2M267.95,233.52h2.2" stroke="#e0b8e4" stroke-width="0.6" fill="none"/>
<path d="M279.87,225.32V234.89M278.76,225.32h2.2M278.76,234.89h2.2" stroke="#e0b8e4" stroke-width="0.6" fill="none"/>
<path d="M284.50,227.37V232.84M283.40,227.37h2.2M283.40,232.84h2.2" stroke="#e0b8e4" stroke-width="0.6" fill="none"/>
<path d="M299.95,226.00V234.20M298.85,226.00h2.2M298.85,234.20h2.2" stroke="#e0b8e4" stroke-width="0.6" fill="none"/>
<path d="M207.25,228.46V232.56M206.15,228.46h2.2M206.15,232.56h2.2" stroke="#a8d0b0" stroke-width="0.6" fill="none"/>
<path d="M222.70,221.77V228.60M221.60,221.77h2.2M221.60,228.60h2.2" stroke="#a8d0b0" stroke-width="0.6" fill="none"/>
<path d="M238.15,225.78V235.35M237.05,225.78h2.2M237.05,235.35h2.2" stroke="#a8d0b0" stroke-width="0.6" fill="none"/>
<path d="M253.60,228.45V233.91M252.50,228.45h2.2M252.50,233.91h2.2" stroke="#a8d0b0" stroke-width="0.6" fill="none"/>
<path d="M264.41,230.09V238.29M263.31,230.09h2.2M263.31,238.29h2.2" stroke="#a8d0b0" stroke-width="0.6" fill="none"/>
<path d="M269.05,231.33V235.43M267.95,231.33h2.2M267.95,235.43h2.2" stroke="#a8d0b0" stroke-width="0.6" fill="none"/>
<path d="M279.87,235.02V241.86M278.76,235.02h2.2M278.76,241.86h2.2" stroke="#a8d0b0" stroke-width="0.6" fill="none"/>
<path d="M284.50,279.37V288.94M283.40,279.37h2.2M283.40,288.94h2.2" stroke="#a8d0b0" stroke-width="0.6" fill="none"/>
<path d="M299.95,290.85V296.32M298.85,290.85h2.2M298.85,296.32h2.2" stroke="#a8d0b0" stroke-width="0.6" fill="none"/>
<path d="M207.25,231.83V240.03M206.15,231.83h2.2M206.15,240.03h2.2" stroke="#e4dca0" stroke-width="0.6" fill="none"/>
<path d="M222.70,234.01V238.11M221.60,234.01h2.2M221.60,238.11h2.2" stroke="#e4dca0" stroke-width="0.6" fill="none"/>
<path d="M238.15,233.72V240.55M237.05,233.72h2.2M237.05,240.55h2.2" stroke="#e4dca0" stroke-width="0.6" fill="none"/>
<path d="M253.60,240.18V249.75M252.50,240.18h2.2M252.50,249.75h2.2" stroke="#e4dca0" stroke-width="0.6" fill="none"/>
<path d="M264.41,259.81V265.28M263.31,259.81h2.2M263.31,265.28h2.2" stroke="#e4dca0" stroke-width="0.6" fill="none"/>
<path d="M269.05,268.03V276.23M267.95,268.03h2.2M267.95,276.23h2.2" stroke="#e4dca0" stroke-width="0.6" fill="none"/>
<path d="M279.87,286.39V290.49M278.76,286.39h2.2M278.76,290.49h2.2" stroke="#e4dca0" stroke-width="0.6" fill="none"/>
<path d="M284.50,288.46V295.29M283.40,288.46h2.2M283.40,295.29h2.2" stroke="#e4dca0" stroke-width="0.6" fill="none"/>
<path d="M299.95,290.92V300.48M298.85,290.92h2.2M298.85,300.48h2.2" stroke="#e4dca0" stroke-width="0.6" fill="none"/>
<path d="M207.25,233.43V238.90M206.15,233.43h2.2M206.15,238.90h2.2" stroke="#ecc0a0" stroke-width="0.6" fill="none"/>
<path d="M222.70,232.44V240.64M221.60,232.44h2.2M221.60,240.64h2.2" stroke="#ecc0a0" stroke-width="0.6" fill="none"/>
<path d="M238.15,237.54V241.64M237.05,237.54h2.2M237.05,241.64h2.2" stroke="#ecc0a0" stroke-width="0.6" fill="none"/>
<path d="M253.60,253.63V260.46M252.50,253.63h2.2M252.50,260.46h2.2" stroke="#ecc0a0" stroke-width="0.6" fill="none"/>
<path d="M264.41,273.93V283.50M263.31,273.93h2.2M263.31,283.50h2.2" stroke="#ecc0a0" stroke-width="0.6" fill="none"/>
<path d="M269.05,282.87V288.34M267.95,282.87h2.2M267.95,288.34h2.2" stroke="#ecc0a0" stroke-width="0.6" fill="none"/>
<path d="M279.87,289.44V297.64M278.76,289.44h2.2M278.76,297.64h2.2" stroke="#ecc0a0" stroke-width="0.6" fill="none"/>
<path d="M284.50,292.75V296.85M283.40,292.75h2.2M283.40,296.85h2.2" stroke="#ecc0a0" stroke-width="0.6" fill="none"/>
<path d="M299.95,292.66V299.50M298.85,292.66h2.2M298.85,299.50h2.2" stroke="#ecc0a0" stroke-width="0.6" fill="none"/>
<path d="M207.25,231.56V241.13M206.15,231.56h2.2M206.15,241.13h2.2" stroke="#a0a8d8" stroke-width="0.6" fill="none"/>
<path d="M222.70,240.90V246.37M221.60,240.90h2.2M221.60,246.37h2.2" stroke="#a0a8d8" stroke-width="0.6" fill="none"/>
<path d="M238.15,242.20V250.40M237.05,242.20h2.2M237.05,250.40h2.2" stroke="#a0a8d8" stroke-width="0.6" fill="none"/>
<path d="M253.60,275.93V280.03M252.50,275.93h2.2M252.50,280.03h2.2" stroke="#a0a8d8" stroke-width="0.6" fill="none"/>
<path d="M264.41,288.39V295.23M263.31,288.39h2.2M263.31,295.23h2.2" stroke="#a0a8d8" stroke-width="0.6" fill="none"/>
<path d="M269.05,289.24V298.80M267.95,289.24h2.2M267.95,298.80h2.2" stroke="#a0a8d8" stroke-width="0.6" fill="none"/>
<path d="M279.87,293.10V298.56M278.76,293.10h2.2M278.76,298.56h2.2" stroke="#a0a8d8" stroke-width="0.6" fill="none"/>
<path d="M284.50,291.95V300.15M283.40,291.95h2.2M283.40,300.15h2.2" stroke="#a0a8d8" stroke-width="0.6" fill="none"/>
<path d="M299.95,294.18V298.28M298.85,294.18h2.2M298.85,298.28h2.2" stroke="#a0a8d8" stroke-width="0.6" fill="none"/>
<path d="M207.25,240.39V247.23M206.15,240.39h2.2M206.15,247.23h2.2" stroke="#e4a0a0" stroke-width="0.6" fill="none"/>
<path d="M222.70,255.64V265.21M221.60,255.64h2.2M221.60,265.21h2.2" stroke="#e4a0a0" stroke-width="0.6" fill="none"/>
<path d="M238.15,283.04V288.51M237.05,283.04h2.2M237.05,288.51h2.2" stroke="#e4a0a0" stroke-width="0.6" fill="none"/>
<path d="M253.60,289.03V297.23M252.50,289.03h2.2M252.50,297.23h2.2" stroke="#e4a0a0" stroke-width="0.6" fill="none"/>
<path d="M264.41,291.92V296.02M263.31,291.92h2.2M263.31,296.02h2.2" stroke="#e4a0a0" stroke-width="0.6" fill="none"/>
<path d="M269.05,290.66V297.50M267.95,290.66h2.2M267.95,297.50h2.2" stroke="#e4a0a0" stroke-width="0.6" fill="none"/>
<path d="M279.87,289.39V298.96M278.76,289.39h2.2M278.76,298.96h2.2" stroke="#e4a0a0" stroke-width="0.6" fill="none"/>
<path d="M284.50,291.45V296.92M283.40,291.45h2.2M283.40,296.92h2.2" stroke="#e4a0a0" stroke-width="0.6" fill="none"/>
<path d="M299.95,290.10V298.30M298.85,290.10h2.2M298.85,298.30h2.2" stroke="#e4a0a0" stroke-width="0.6" fill="none"/>
<polyline points="207.25,230.10 208.41,230.10 209.57,230.10 210.73,230.10 211.88,230.10 213.04,230.10 214.20,230.10 215.36,230.10 216.52,230.10 217.68,230.10 218.84,230.10 220.00,230.10 221.16,230.10 222.31,230.10 223.47,230.10 224.63,230.10 225.79,230.10 226.95,230.10 228.11,230.10 229.27,230.10 230.43,230.10 231.58,230.10 232.74,230.10 233.90,230.10 235.06,230.10 236.22,230.10 237.38,230.10 238.54,230.10 239.69,230.10 240.85,230.10 242.01,230.10 243.17,230.10 244.33,230.10 245.49,230.10 246.65,230.10 247.81,230.10 248.97,230.10 250.12,230.10 251.28,230.10 252.44,230.10 253.60,230.10 254.76,230.10 255.92,230.10 257.08,230.10 258.24,230.10 259.39,230.10 260.55,230.10 261.71,230.10 262.87,230.10 264.03,230.10 265.19,230.10 266.35,230.10 267.50,230.10 268.66,230.10 269.82,230.10 270.98,230.10 272.14,230.10 273.30,230.10 274.46,230.10 275.62,230.10 276.77,230.10 277.93,230.10 279.09,230.10 280.25,230.10 281.41,230.10 282.57,230.10 283.73,230.10 284.89,230.10 286.04,230.10 287.20,230.10 288.36,230.10 289.52,230.10 290.68,230.10 291.84,230.10 293.00,230.10 294.16,230.10 295.31,230.10 296.47,230.10 297.63,230.10 298.79,230.10 299.95,230.10" fill="none" stroke="#a8609f" stroke-width="0.95"/>
<polyline points="207.25,230.51 208.41,230.51 209.57,230.51 210.73,230.51 211.88,230.51 213.04,230.51 214.20,230.51 215.36,230.51 216.52,230.51 217.68,230.52 218.84,230.52 220.00,230.52 221.16,230.52 222.31,230.52 223.47,230.52 224.63,230.52 225.79,230.52 226.95,230.52 228.11,230.52 229.27,230.53 230.43,230.53 231.58,230.53 232.74,230.54 233.90,230.54 235.06,230.55 236.22,230.55 237.38,230.56 238.54,230.57 239.69,230.58 240.85,230.60 242.01,230.62 243.17,230.64 244.33,230.66 245.49,230.69 246.65,230.73 247.81,230.77 248.97,230.83 250.12,230.89 251.28,230.97 252.44,231.07 253.60,231.18 254.76,231.32 255.92,231.48 257.08,231.68 258.24,231.91 259.39,232.19 260.55,232.53 261.71,232.93 262.87,233.41 264.03,233.98 265.19,234.65 266.35,235.45 267.50,236.38 268.66,237.47 269.82,238.73 270.98,240.19 272.14,241.85 273.30,243.73 274.46,245.83 275.62,248.16 276.77,250.71 277.93,253.44 279.09,256.35 280.25,259.37 281.41,262.47 282.57,265.60 283.73,268.69 284.89,271.69 286.04,274.56 287.20,277.27 288.36,279.77 289.52,282.05 290.68,284.11 291.84,285.95 293.00,287.57 294.16,288.98 295.31,290.21 296.47,291.26 297.63,292.17 298.79,292.94 299.95,293.59" fill="none" stroke="#4cac58" stroke-width="0.95"/>
<polyline points="207.25,235.93 208.41,235.93 209.57,235.94 210.73,235.94 211.88,235.94 213.04,235.95 214.20,235.96 215.36,235.96 216.52,235.97 217.68,235.98 218.84,236.00 220.00,236.01 221.16,236.03 222.31,236.05 223.47,236.07 224.63,236.10 225.79,236.14 226.95,236.18 228.11,236.22 229.27,236.27 230.43,236.34 231.58,236.41 232.74,236.50 233.90,236.60 235.06,236.72 236.22,236.85 237.38,237.02 238.54,237.20 239.69,237.42 240.85,237.68 242.01,237.98 243.17,238.32 244.33,238.72 245.49,239.18 246.65,239.72 247.81,240.33 248.97,241.04 250.12,241.84 251.28,242.76 252.44,243.80 253.60,244.96 254.76,246.27 255.92,247.72 257.08,249.32 258.24,251.07 259.39,252.96 260.55,255.00 261.71,257.15 262.87,259.41 264.03,261.75 265.19,264.15 266.35,266.57 267.50,268.98 268.66,271.36 269.82,273.67 270.98,275.89 272.14,277.99 273.30,279.97 274.46,281.81 275.62,283.50 276.77,285.04 277.93,286.43 279.09,287.68 280.25,288.80 281.41,289.78 282.57,290.65 283.73,291.42 284.89,292.09 286.04,292.67 287.20,293.17 288.36,293.61 289.52,293.99 290.68,294.31 291.84,294.59 293.00,294.83 294.16,295.04 295.31,295.21 296.47,295.37 297.63,295.50 298.79,295.61 299.95,295.70" fill="none" stroke="#d2c640" stroke-width="0.95"/>
<polyline points="207.25,236.17 208.41,236.17 209.57,236.18 210.73,236.20 211.88,236.21 213.04,236.23 214.20,236.25 215.36,236.27 216.52,236.29 217.68,236.33 218.84,236.36 220.00,236.41 221.16,236.46 222.31,236.51 223.47,236.58 224.63,236.67 225.79,236.76 226.95,236.87 228.11,237.01 229.27,237.16 230.43,237.34 231.58,237.55 232.74,237.80 233.90,238.08 235.06,238.42 236.22,238.80 237.38,239.25 238.54,239.77 239.69,240.37 240.85,241.06 242.01,241.85 243.17,242.74 244.33,243.76 245.49,244.91 246.65,246.20 247.81,247.64 248.97,249.23 250.12,250.97 251.28,252.86 252.44,254.89 253.60,257.05 254.76,259.31 255.92,261.66 257.08,264.07 258.24,266.51 259.39,268.94 260.55,271.34 261.71,273.67 262.87,275.91 264.03,278.03 265.19,280.03 266.35,281.88 267.50,283.58 268.66,285.12 269.82,286.52 270.98,287.77 272.14,288.89 273.30,289.87 274.46,290.74 275.62,291.50 276.77,292.17 277.93,292.74 279.09,293.24 280.25,293.67 281.41,294.04 282.57,294.36 283.73,294.64 284.89,294.88 286.04,295.08 287.20,295.25 288.36,295.40 289.52,295.52 290.68,295.63 291.84,295.72 293.00,295.80 294.16,295.87 295.31,295.93 296.47,295.97 297.63,296.02 298.79,296.05 299.95,296.08" fill="none" stroke="#de7632" stroke-width="0.95"/>
<polyline points="207.25,236.35 208.41,236.37 209.57,236.39 210.73,236.41 211.88,236.45 213.04,236.49 214.20,236.53 215.36,236.59 216.52,236.65 217.68,236.73 218.84,236.83 220.00,236.94 221.16,237.08 222.31,237.24 223.47,237.43 224.63,237.66 225.79,237.93 226.95,238.26 228.11,238.64 229.27,239.10 230.43,239.64 231.58,240.27 232.74,241.00 233.90,241.86 235.06,242.86 236.22,244.01 237.38,245.33 238.54,246.82 239.69,248.50 240.85,250.38 242.01,252.44 243.17,254.68 244.33,257.08 245.49,259.62 246.65,262.27 247.81,264.98 248.97,267.71 250.12,270.41 251.28,273.05 252.44,275.59 253.60,277.98 254.76,280.21 255.92,282.26 257.08,284.12 258.24,285.79 259.39,287.27 260.55,288.57 261.71,289.71 262.87,290.70 264.03,291.55 265.19,292.28 266.35,292.91 267.50,293.44 268.66,293.89 269.82,294.27 270.98,294.59 272.14,294.86 273.30,295.09 274.46,295.28 275.62,295.44 276.77,295.57 277.93,295.68 279.09,295.78 280.25,295.85 281.41,295.92 282.57,295.98 283.73,296.02 284.89,296.06 286.04,296.09 287.20,296.12 288.36,296.14 289.52,296.16 290.68,296.17 291.84,296.19 293.00,296.20 294.16,296.21 295.31,296.21 296.47,296.22 297.63,296.22 298.79,296.23 299.95,296.23" fill="none" stroke="#3048a6" stroke-width="0.95"/>
<polyline points="207.25,243.81 208.41,244.35 209.57,244.98 210.73,245.70 211.88,246.53 213.04,247.46 214.20,248.53 215.36,249.72 216.52,251.04 217.68,252.51 218.84,254.13 220.00,255.87 221.16,257.75 222.31,259.74 223.47,261.83 224.63,263.99 225.79,266.19 226.95,268.42 228.11,270.62 229.27,272.79 230.43,274.88 231.58,276.88 232.74,278.76 233.90,280.52 235.06,282.14 236.22,283.62 237.38,284.96 238.54,286.16 239.69,287.23 240.85,288.17 242.01,289.00 243.17,289.73 244.33,290.37 245.49,290.92 246.65,291.39 247.81,291.80 248.97,292.15 250.12,292.46 251.28,292.72 252.44,292.94 253.60,293.13 254.76,293.29 255.92,293.42 257.08,293.54 258.24,293.64 259.39,293.73 260.55,293.80 261.71,293.86 262.87,293.91 264.03,293.95 265.19,293.99 266.35,294.02 267.50,294.05 268.66,294.07 269.82,294.09 270.98,294.11 272.14,294.12 273.30,294.13 274.46,294.14 275.62,294.15 276.77,294.16 277.93,294.17 279.09,294.17 280.25,294.18 281.41,294.18 282.57,294.18 283.73,294.19 284.89,294.19 286.04,294.19 287.20,294.19 288.36,294.19 289.52,294.19 290.68,294.19 291.84,294.20 293.00,294.20 294.16,294.20 295.31,294.20 296.47,294.20 297.63,294.20 298.79,294.20 299.95,294.20" fill="none" stroke="#d23636" stroke-width="0.95"/>
<rect x="206.25" y="229.10" width="2.0" height="2.0" fill="#d4a8d8" fill-opacity="0.6"/>
<rect x="221.70" y="229.10" width="2.0" height="2.0" fill="#d4a8d8" fill-opacity="0.6"/>
<rect x="237.15" y="229.10" width="2.0" height="2.0" fill="#d4a8d8" fill-opacity="0.6"/>
<rect x="252.60" y="229.10" width="2.0" height="2.0" fill="#d4a8d8" fill-opacity="0.6"/>
<rect x="263.41" y="229.10" width="2.0" height="2.0" fill="#d4a8d8" fill-opacity="0.6"/>
<rect x="268.05" y="229.10" width="2.0" height="2.0" fill="#d4a8d8" fill-opacity="0.6"/>
<rect x="278.87" y="229.10" width="2.0" height="2.0" fill="#d4a8d8" fill-opacity="0.6"/>
<rect x="283.50" y="229.10" width="2.0" height="2.0" fill="#d4a8d8" fill-opacity="0.6"/>
<rect x="298.95" y="229.10" width="2.0" height="2.0" fill="#d4a8d8" fill-opacity="0.6"/>
<rect x="206.15" y="229.41" width="2.2" height="2.2" fill="#2e6a44"/>
<rect x="221.60" y="224.08" width="2.2" height="2.2" fill="#2e6a44"/>
<rect x="237.05" y="229.47" width="2.2" height="2.2" fill="#2e6a44"/>
<rect x="252.50" y="230.08" width="2.2" height="2.2" fill="#2e6a44"/>
<rect x="263.31" y="233.09" width="2.2" height="2.2" fill="#2e6a44"/>
<rect x="267.95" y="232.28" width="2.2" height="2.2" fill="#2e6a44"/>
<rect x="278.76" y="237.34" width="2.2" height="2.2" fill="#2e6a44"/>
<rect x="283.40" y="283.06" width="2.2" height="2.2" fill="#2e6a44"/>
<rect x="298.85" y="292.49" width="2.2" height="2.2" fill="#2e6a44"/>
<rect x="206.15" y="234.83" width="2.2" height="2.2" fill="#b8b050"/>
<rect x="221.60" y="234.96" width="2.2" height="2.2" fill="#b8b050"/>
<rect x="237.05" y="236.04" width="2.2" height="2.2" fill="#b8b050"/>
<rect x="252.50" y="243.86" width="2.2" height="2.2" fill="#b8b050"/>
<rect x="263.31" y="261.44" width="2.2" height="2.2" fill="#b8b050"/>
<rect x="267.95" y="271.03" width="2.2" height="2.2" fill="#b8b050"/>
<rect x="278.76" y="287.34" width="2.2" height="2.2" fill="#b8b050"/>
<rect x="283.40" y="290.77" width="2.2" height="2.2" fill="#b8b050"/>
<rect x="298.85" y="294.60" width="2.2" height="2.2" fill="#b8b050"/>
<rect x="206.15" y="235.07" width="2.2" height="2.2" fill="#c86a30"/>
<rect x="221.60" y="235.44" width="2.2" height="2.2" fill="#c86a30"/>
<rect x="237.05" y="238.49" width="2.2" height="2.2" fill="#c86a30"/>
<rect x="252.50" y="255.95" width="2.2" height="2.2" fill="#c86a30"/>
<rect x="263.31" y="277.61" width="2.2" height="2.2" fill="#c86a30"/>
<rect x="267.95" y="284.51" width="2.2" height="2.2" fill="#c86a30"/>
<rect x="278.76" y="292.44" width="2.2" height="2.2" fill="#c86a30"/>
<rect x="283.40" y="293.70" width="2.2" height="2.2" fill="#c86a30"/>
<rect x="298.85" y="294.98" width="2.2" height="2.2" fill="#c86a30"/>
<rect x="206.15" y="235.25" width="2.2" height="2.2" fill="#1e2c7a"/>
<rect x="221.60" y="242.53" width="2.2" height="2.2" fill="#1e2c7a"/>
<rect x="237.05" y="245.20" width="2.2" height="2.2" fill="#1e2c7a"/>
<rect x="252.50" y="276.88" width="2.2" height="2.2" fill="#1e2c7a"/>
<rect x="263.31" y="290.71" width="2.2" height="2.2" fill="#1e2c7a"/>
<rect x="267.95" y="292.92" width="2.2" height="2.2" fill="#1e2c7a"/>
<rect x="278.76" y="294.73" width="2.2" height="2.2" fill="#1e2c7a"/>
<rect x="283.40" y="294.95" width="2.2" height="2.2" fill="#1e2c7a"/>
<rect x="298.85" y="295.13" width="2.2" height="2.2" fill="#1e2c7a"/>
<rect x="206.15" y="242.71" width="2.2" height="2.2" fill="#9a2428"/>
<rect x="221.60" y="259.33" width="2.2" height="2.2" fill="#9a2428"/>
<rect x="237.05" y="284.67" width="2.2" height="2.2" fill="#9a2428"/>
<rect x="252.50" y="292.03" width="2.2" height="2.2" fill="#9a2428"/>
<rect x="263.31" y="292.87" width="2.2" height="2.2" fill="#9a2428"/>
<rect x="267.95" y="292.98" width="2.2" height="2.2" fill="#9a2428"/>
<rect x="278.76" y="293.07" width="2.2" height="2.2" fill="#9a2428"/>
<rect x="283.40" y="293.09" width="2.2" height="2.2" fill="#9a2428"/>
<rect x="298.85" y="293.10" width="2.2" height="2.2" fill="#9a2428"/>
<line x1="343.30" y1="220.20" x2="343.30" y2="298.20" stroke="#9a9a9a" stroke-width="0.8"/>
<line x1="342.90" y1="297.80" x2="459.30" y2="297.80" stroke="#9a9a9a" stroke-width="0.8"/>
<line x1="341.40" y1="297.80" x2="343.30" y2="297.80" stroke="#9a9a9a" stroke-width="0.8"/>
<text x="340.70" y="299.90" font-size="6" text-anchor="end" fill="#333">0</text>
<line x1="341.40" y1="284.87" x2="343.30" y2="284.87" stroke="#9a9a9a" stroke-width="0.8"/>
<text x="340.70" y="286.97" font-size="6" text-anchor="end" fill="#333">20</text>
<line x1="341.40" y1="271.93" x2="343.30" y2="271.93" stroke="#9a9a9a" stroke-width="0.8"/>
<text x="340.70" y="274.03" font-size="6" text-anchor="end" fill="#333">40</text>
<line x1="341.40" y1="259.00" x2="343.30" y2="259.00" stroke="#9a9a9a" stroke-width="0.8"/>
<text x="340.70" y="261.10" font-size="6" text-anchor="end" fill="#333">60</text>
<line x1="341.40" y1="246.07" x2="343.30" y2="246.07" stroke="#9a9a9a" stroke-width="0.8"/>
<text x="340.70" y="248.17" font-size="6" text-anchor="end" fill="#333">80</text>
<line x1="341.40" y1="233.13" x2="343.30" y2="233.13" stroke="#9a9a9a" stroke-width="0.8"/>
<text x="340.70" y="235.23" font-size="6" text-anchor="end" fill="#333">100</text>
<line x1="341.40" y1="220.20" x2="343.30" y2="220.20" stroke="#9a9a9a" stroke-width="0.8"/>
<text x="340.70" y="222.30" font-size="6" text-anchor="end" fill="#333">120</text>
<line x1="343.30" y1="297.80" x2="343.30" y2="300.20" stroke="#9a9a9a" stroke-width="0.8"/>
<rect x="340.40" y="303.55" width="2.80" height="0.75" fill="#444"/>
<text x="343.40" y="305.90" font-size="6" fill="#333">4</text>
<line x1="357.80" y1="297.80" x2="357.80" y2="300.20" stroke="#9a9a9a" stroke-width="0.8"/>
<rect x="354.90" y="303.55" width="2.80" height="0.75" fill="#444"/>
<text x="357.90" y="305.90" font-size="6" fill="#333">3</text>
<line x1="372.30" y1="297.80" x2="372.30" y2="300.20" stroke="#9a9a9a" stroke-width="0.8"/>
<rect x="369.40" y="303.55" width="2.80" height="0.75" fill="#444"/>
<text x="372.40" y="305.90" font-size="6" fill="#333">2</text>
<line x1="386.80" y1="297.80" x2="386.80" y2="300.20" stroke="#9a9a9a" stroke-width="0.8"/>
<rect x="383.90" y="303.55" width="2.80" height="0.75" fill="#444"/>
<text x="386.90" y="305.90" font-size="6" fill="#333">1</text>
<line x1="401.30" y1="297.80" x2="401.30" y2="300.20" stroke="#9a9a9a" stroke-width="0.8"/>
<text x="401.50" y="305.90" font-size="6" text-anchor="middle" fill="#333">0</text>
<line x1="415.80" y1="297.80" x2="415.80" y2="300.20" stroke="#9a9a9a" stroke-width="0.8"/>
<text x="416.00" y="305.90" font-size="6" text-anchor="middle" fill="#333">1</text>
<line x1="430.30" y1="297.80" x2="430.30" y2="300.20" stroke="#9a9a9a" stroke-width="0.8"/>
<text x="430.50" y="305.90" font-size="6" text-anchor="middle" fill="#333">2</text>
<line x1="444.80" y1="297.80" x2="444.80" y2="300.20" stroke="#9a9a9a" stroke-width="0.8"/>
<text x="445.00" y="305.90" font-size="6" text-anchor="middle" fill="#333">3</text>
<line x1="459.30" y1="297.80" x2="459.30" y2="300.20" stroke="#9a9a9a" stroke-width="0.8"/>
<text x="459.50" y="305.90" font-size="6" text-anchor="middle" fill="#333">4</text>
<text x="392.90" y="216.10" font-size="7.9" stroke="#000" stroke-width="0.1" font-weight="bold" textLength="16.5" lengthAdjust="spacingAndGlyphs">C4-2</text>
<text x="375.80" y="317.40" font-size="6.4" font-weight="bold" textLength="58.5" lengthAdjust="spacingAndGlyphs">Log conc. (nmol/L)</text>
<path d="M357.80,224.74V231.20M356.70,224.74h2.2M356.70,231.20h2.2" stroke="#e0b8e4" stroke-width="0.6" fill="none"/>
<path d="M372.30,223.53V232.59M371.20,223.53h2.2M371.20,232.59h2.2" stroke="#e0b8e4" stroke-width="0.6" fill="none"/>
<path d="M386.80,226.15V231.32M385.70,226.15h2.2M385.70,231.32h2.2" stroke="#e0b8e4" stroke-width="0.6" fill="none"/>
<path d="M401.30,226.54V234.30M400.20,226.54h2.2M400.20,234.30h2.2" stroke="#e0b8e4" stroke-width="0.6" fill="none"/>
<path d="M411.45,229.06V232.94M410.35,229.06h2.2M410.35,232.94h2.2" stroke="#e0b8e4" stroke-width="0.6" fill="none"/>
<path d="M415.80,227.86V234.33M414.70,227.86h2.2M414.70,234.33h2.2" stroke="#e0b8e4" stroke-width="0.6" fill="none"/>
<path d="M425.95,226.65V235.70M424.85,226.65h2.2M424.85,235.70h2.2" stroke="#e0b8e4" stroke-width="0.6" fill="none"/>
<path d="M430.30,228.60V233.77M429.20,228.60h2.2M429.20,233.77h2.2" stroke="#e0b8e4" stroke-width="0.6" fill="none"/>
<path d="M444.80,227.31V235.07M443.70,227.31h2.2M443.70,235.07h2.2" stroke="#e0b8e4" stroke-width="0.6" fill="none"/>
<path d="M357.80,231.78V235.66M356.70,231.78h2.2M356.70,235.66h2.2" stroke="#a8d0b0" stroke-width="0.6" fill="none"/>
<path d="M372.30,230.50V236.96M371.20,230.50h2.2M371.20,236.96h2.2" stroke="#a8d0b0" stroke-width="0.6" fill="none"/>
<path d="M386.80,229.31V238.37M385.70,229.31h2.2M385.70,238.37h2.2" stroke="#a8d0b0" stroke-width="0.6" fill="none"/>
<path d="M401.30,232.31V237.49M400.20,232.31h2.2M400.20,237.49h2.2" stroke="#a8d0b0" stroke-width="0.6" fill="none"/>
<path d="M411.45,235.24V243.00M410.35,235.24h2.2M410.35,243.00h2.2" stroke="#a8d0b0" stroke-width="0.6" fill="none"/>
<path d="M415.80,241.71V245.59M414.70,241.71h2.2M414.70,245.59h2.2" stroke="#a8d0b0" stroke-width="0.6" fill="none"/>
<path d="M425.95,251.24V257.71M424.85,251.24h2.2M424.85,257.71h2.2" stroke="#a8d0b0" stroke-width="0.6" fill="none"/>
<path d="M430.30,273.08V282.14M429.20,273.08h2.2M429.20,282.14h2.2" stroke="#a8d0b0" stroke-width="0.6" fill="none"/>
<path d="M444.80,293.27V298.45M443.70,293.27h2.2M443.70,298.45h2.2" stroke="#a8d0b0" stroke-width="0.6" fill="none"/>
<path d="M357.80,228.93V236.69M356.70,228.93h2.2M356.70,236.69h2.2" stroke="#e4dca0" stroke-width="0.6" fill="none"/>
<path d="M372.30,230.88V234.76M371.20,230.88h2.2M371.20,234.76h2.2" stroke="#e4dca0" stroke-width="0.6" fill="none"/>
<path d="M386.80,229.76V236.23M385.70,229.76h2.2M385.70,236.23h2.2" stroke="#e4dca0" stroke-width="0.6" fill="none"/>
<path d="M401.30,231.29V240.34M400.20,231.29h2.2M400.20,240.34h2.2" stroke="#e4dca0" stroke-width="0.6" fill="none"/>
<path d="M411.45,247.11V252.28M410.35,247.11h2.2M410.35,252.28h2.2" stroke="#e4dca0" stroke-width="0.6" fill="none"/>
<path d="M415.80,266.76V274.52M414.70,266.76h2.2M414.70,274.52h2.2" stroke="#e4dca0" stroke-width="0.6" fill="none"/>
<path d="M425.95,285.25V289.13M424.85,285.25h2.2M424.85,289.13h2.2" stroke="#e4dca0" stroke-width="0.6" fill="none"/>
<path d="M430.30,288.61V295.08M429.20,288.61h2.2M429.20,295.08h2.2" stroke="#e4dca0" stroke-width="0.6" fill="none"/>
<path d="M444.80,291.08V300.14M443.70,291.08h2.2M443.70,300.14h2.2" stroke="#e4dca0" stroke-width="0.6" fill="none"/>
<path d="M357.80,229.74V234.91M356.70,229.74h2.2M356.70,234.91h2.2" stroke="#ecc0a0" stroke-width="0.6" fill="none"/>
<path d="M372.30,228.78V236.54M371.20,228.78h2.2M371.20,236.54h2.2" stroke="#ecc0a0" stroke-width="0.6" fill="none"/>
<path d="M386.80,234.42V238.30M385.70,234.42h2.2M385.70,238.30h2.2" stroke="#ecc0a0" stroke-width="0.6" fill="none"/>
<path d="M401.30,257.51V263.98M400.20,257.51h2.2M400.20,263.98h2.2" stroke="#ecc0a0" stroke-width="0.6" fill="none"/>
<path d="M411.45,284.22V293.27M410.35,284.22h2.2M410.35,293.27h2.2" stroke="#ecc0a0" stroke-width="0.6" fill="none"/>
<path d="M415.80,287.28V292.46M414.70,287.28h2.2M414.70,292.46h2.2" stroke="#ecc0a0" stroke-width="0.6" fill="none"/>
<path d="M425.95,290.83V298.59M424.85,290.83h2.2M424.85,298.59h2.2" stroke="#ecc0a0" stroke-width="0.6" fill="none"/>
<path d="M430.30,293.37V297.25M429.20,293.37h2.2M429.20,297.25h2.2" stroke="#ecc0a0" stroke-width="0.6" fill="none"/>
<path d="M444.80,292.58V299.05M443.70,292.58h2.2M443.70,299.05h2.2" stroke="#ecc0a0" stroke-width="0.6" fill="none"/>
<path d="M357.80,228.72V237.77M356.70,228.72h2.2M356.70,237.77h2.2" stroke="#a0a8d8" stroke-width="0.6" fill="none"/>
<path d="M372.30,231.96V237.14M371.20,231.96h2.2M371.20,237.14h2.2" stroke="#a0a8d8" stroke-width="0.6" fill="none"/>
<path d="M386.80,244.00V251.76M385.70,244.00h2.2M385.70,251.76h2.2" stroke="#a0a8d8" stroke-width="0.6" fill="none"/>
<path d="M401.30,281.59V285.47M400.20,281.59h2.2M400.20,285.47h2.2" stroke="#a0a8d8" stroke-width="0.6" fill="none"/>
<path d="M411.45,290.22V296.68M410.35,290.22h2.2M410.35,296.68h2.2" stroke="#a0a8d8" stroke-width="0.6" fill="none"/>
<path d="M415.80,290.20V299.25M414.70,290.20h2.2M414.70,299.25h2.2" stroke="#a0a8d8" stroke-width="0.6" fill="none"/>
<path d="M425.95,293.09V298.26M424.85,293.09h2.2M424.85,298.26h2.2" stroke="#a0a8d8" stroke-width="0.6" fill="none"/>
<path d="M430.30,291.89V299.65M429.20,291.89h2.2M429.20,299.65h2.2" stroke="#a0a8d8" stroke-width="0.6" fill="none"/>
<path d="M444.80,293.91V297.79M443.70,293.91h2.2M443.70,297.79h2.2" stroke="#a0a8d8" stroke-width="0.6" fill="none"/>
<path d="M357.80,233.32V239.79M356.70,233.32h2.2M356.70,239.79h2.2" stroke="#e4a0a0" stroke-width="0.6" fill="none"/>
<path d="M372.30,257.38V266.44M371.20,257.38h2.2M371.20,266.44h2.2" stroke="#e4a0a0" stroke-width="0.6" fill="none"/>
<path d="M386.80,288.75V293.92M385.70,288.75h2.2M385.70,293.92h2.2" stroke="#e4a0a0" stroke-width="0.6" fill="none"/>
<path d="M401.30,289.67V297.43M400.20,289.67h2.2M400.20,297.43h2.2" stroke="#e4a0a0" stroke-width="0.6" fill="none"/>
<path d="M411.45,292.38V296.26M410.35,292.38h2.2M410.35,296.26h2.2" stroke="#e4a0a0" stroke-width="0.6" fill="none"/>
<path d="M415.80,291.20V297.67M414.70,291.20h2.2M414.70,297.67h2.2" stroke="#e4a0a0" stroke-width="0.6" fill="none"/>
<path d="M425.95,290.01V299.06M424.85,290.01h2.2M424.85,299.06h2.2" stroke="#e4a0a0" stroke-width="0.6" fill="none"/>
<path d="M430.30,291.96V297.14M429.20,291.96h2.2M429.20,297.14h2.2" stroke="#e4a0a0" stroke-width="0.6" fill="none"/>
<path d="M444.80,290.68V298.44M443.70,290.68h2.2M443.70,298.44h2.2" stroke="#e4a0a0" stroke-width="0.6" fill="none"/>
<polyline points="357.80,227.97 358.89,227.97 359.98,227.97 361.06,227.98 362.15,227.98 363.24,227.98 364.32,227.99 365.41,227.99 366.50,228.00 367.59,228.01 368.68,228.02 369.76,228.03 370.85,228.04 371.94,228.05 373.03,228.07 374.11,228.09 375.20,228.11 376.29,228.14 377.38,228.17 378.46,228.21 379.55,228.25 380.64,228.30 381.73,228.36 382.81,228.42 383.90,228.50 384.99,228.58 386.08,228.67 387.16,228.77 388.25,228.88 389.34,229.00 390.43,229.12 391.51,229.26 392.60,229.39 393.69,229.53 394.77,229.67 395.86,229.81 396.95,229.94 398.04,230.07 399.12,230.19 400.21,230.31 401.30,230.42 402.39,230.51 403.48,230.60 404.56,230.68 405.65,230.75 406.74,230.81 407.83,230.87 408.91,230.91 410.00,230.96 411.09,230.99 412.18,231.02 413.26,231.05 414.35,231.07 415.44,231.09 416.52,231.10 417.61,231.12 418.70,231.13 419.79,231.14 420.88,231.15 421.96,231.16 423.05,231.16 424.14,231.17 425.23,231.17 426.31,231.17 427.40,231.18 428.49,231.18 429.58,231.18 430.66,231.18 431.75,231.19 432.84,231.19 433.93,231.19 435.01,231.19 436.10,231.19 437.19,231.19 438.27,231.19 439.36,231.19 440.45,231.19 441.54,231.19 442.62,231.19 443.71,231.19 444.80,231.19" fill="none" stroke="#a8609f" stroke-width="0.95"/>
<polyline points="357.80,233.72 358.89,233.72 359.98,233.72 361.06,233.72 362.15,233.72 363.24,233.72 364.32,233.72 365.41,233.72 366.50,233.72 367.59,233.72 368.68,233.72 369.76,233.72 370.85,233.73 371.94,233.73 373.03,233.73 374.11,233.73 375.20,233.74 376.29,233.74 377.38,233.74 378.46,233.75 379.55,233.76 380.64,233.76 381.73,233.77 382.81,233.78 383.90,233.80 384.99,233.81 386.08,233.83 387.16,233.85 388.25,233.87 389.34,233.90 390.43,233.94 391.51,233.98 392.60,234.02 393.69,234.08 394.77,234.15 395.86,234.23 396.95,234.32 398.04,234.43 399.12,234.56 400.21,234.72 401.30,234.90 402.39,235.11 403.48,235.37 404.56,235.66 405.65,236.01 406.74,236.42 407.83,236.89 408.91,237.45 410.00,238.10 411.09,238.85 412.18,239.72 413.26,240.72 414.35,241.87 415.44,243.18 416.52,244.66 417.61,246.33 418.70,248.19 419.79,250.26 420.88,252.53 421.96,254.99 423.05,257.63 424.14,260.43 425.23,263.35 426.31,266.38 427.40,269.46 428.49,272.55 429.58,275.61 430.66,278.59 431.75,281.47 432.84,284.20 433.93,286.75 435.01,289.12 436.10,291.30 437.19,293.27 438.27,295.04 439.36,295.86 440.45,295.86 441.54,295.86 442.62,295.86 443.71,295.86 444.80,295.86" fill="none" stroke="#4cac58" stroke-width="0.95"/>
<polyline points="357.80,232.81 358.89,232.81 359.98,232.81 361.06,232.81 362.15,232.81 363.24,232.81 364.32,232.81 365.41,232.81 366.50,232.81 367.59,232.81 368.68,232.82 369.76,232.82 370.85,232.82 371.94,232.82 373.03,232.82 374.11,232.83 375.20,232.83 376.29,232.83 377.38,232.84 378.46,232.85 379.55,232.85 380.64,232.86 381.73,232.88 382.81,232.89 383.90,232.91 384.99,232.94 386.08,232.97 387.16,233.01 388.25,233.05 389.34,233.11 390.43,233.18 391.51,233.27 392.60,233.38 393.69,233.51 394.77,233.68 395.86,233.88 396.95,234.13 398.04,234.43 399.12,234.81 400.21,235.26 401.30,235.81 402.39,236.49 403.48,237.30 404.56,238.27 405.65,239.43 406.74,240.81 407.83,242.42 408.91,244.28 410.00,246.42 411.09,248.83 412.18,251.51 413.26,254.43 414.35,257.55 415.44,260.81 416.52,264.16 417.61,267.50 418.70,270.78 419.79,273.92 420.88,276.86 421.96,279.57 423.05,282.01 424.14,284.17 425.23,286.07 426.31,287.70 427.40,289.10 428.49,290.28 429.58,291.28 430.66,292.10 431.75,292.79 432.84,293.36 433.93,293.82 435.01,294.20 436.10,294.51 437.19,294.77 438.27,294.97 439.36,295.14 440.45,295.28 441.54,295.39 442.62,295.48 443.71,295.55 444.80,295.61" fill="none" stroke="#d2c640" stroke-width="0.95"/>
<polyline points="357.80,232.32 358.89,232.33 359.98,232.34 361.06,232.35 362.15,232.36 363.24,232.37 364.32,232.39 365.41,232.41 366.50,232.43 367.59,232.46 368.68,232.49 369.76,232.53 370.85,232.58 371.94,232.64 373.03,232.70 374.11,232.79 375.20,232.89 376.29,233.01 377.38,233.15 378.46,233.32 379.55,233.53 380.64,233.78 381.73,234.07 382.81,234.42 383.90,234.84 384.99,235.33 386.08,235.91 387.16,236.60 388.25,237.41 389.34,238.35 390.43,239.45 391.51,240.71 392.60,242.16 393.69,243.81 394.77,245.66 395.86,247.72 396.95,249.99 398.04,252.46 399.12,255.09 400.21,257.87 401.30,260.75 402.39,263.68 403.48,266.63 404.56,269.52 405.65,272.33 406.74,275.01 407.83,277.52 408.91,279.84 410.00,281.96 411.09,283.87 412.18,285.57 413.26,287.07 414.35,288.39 415.44,289.52 416.52,290.51 417.61,291.35 418.70,292.07 419.79,292.68 420.88,293.19 421.96,293.63 423.05,294.00 424.14,294.30 425.23,294.56 426.31,294.78 427.40,294.96 428.49,295.11 429.58,295.23 430.66,295.34 431.75,295.43 432.84,295.50 433.93,295.56 435.01,295.61 436.10,295.65 437.19,295.69 438.27,295.72 439.36,295.74 440.45,295.76 441.54,295.78 442.62,295.79 443.71,295.80 444.80,295.81" fill="none" stroke="#de7632" stroke-width="0.95"/>
<polyline points="357.80,233.24 358.89,233.27 359.98,233.29 361.06,233.33 362.15,233.37 363.24,233.42 364.32,233.48 365.41,233.55 366.50,233.64 367.59,233.75 368.68,233.88 369.76,234.04 370.85,234.23 371.94,234.46 373.03,234.74 374.11,235.07 375.20,235.47 376.29,235.95 377.38,236.52 378.46,237.20 379.55,238.01 380.64,238.95 381.73,240.06 382.81,241.35 383.90,242.84 384.99,244.54 386.08,246.47 387.16,248.62 388.25,250.99 389.34,253.57 390.43,256.33 391.51,259.23 392.60,262.23 393.69,265.27 394.77,268.29 395.86,271.25 396.95,274.08 398.04,276.76 399.12,279.23 400.21,281.49 401.30,283.53 402.39,285.34 403.48,286.93 404.56,288.32 405.65,289.51 406.74,290.54 407.83,291.41 408.91,292.15 410.00,292.77 411.09,293.29 412.18,293.73 413.26,294.10 414.35,294.40 415.44,294.65 416.52,294.86 417.61,295.04 418.70,295.18 419.79,295.30 420.88,295.40 421.96,295.48 423.05,295.55 424.14,295.60 425.23,295.65 426.31,295.68 427.40,295.71 428.49,295.74 429.58,295.76 430.66,295.78 431.75,295.79 432.84,295.80 433.93,295.81 435.01,295.82 436.10,295.83 437.19,295.83 438.27,295.84 439.36,295.84 440.45,295.85 441.54,295.85 442.62,295.85 443.71,295.85 444.80,295.85" fill="none" stroke="#3048a6" stroke-width="0.95"/>
<polyline points="357.80,236.56 358.89,237.63 359.98,238.83 361.06,240.17 362.15,241.66 363.24,243.29 364.32,245.08 365.41,247.02 366.50,249.10 367.59,251.31 368.68,253.63 369.76,256.05 370.85,258.54 371.94,261.06 373.03,263.60 374.11,266.12 375.20,268.58 376.29,270.97 377.38,273.26 378.46,275.43 379.55,277.46 380.64,279.35 381.73,281.09 382.81,282.68 383.90,284.11 384.99,285.41 386.08,286.56 387.16,287.59 388.25,288.50 389.34,289.31 390.43,290.01 391.51,290.63 392.60,291.16 393.69,291.63 394.77,292.04 395.86,292.39 396.95,292.69 398.04,292.96 399.12,293.18 400.21,293.38 401.30,293.55 402.39,293.69 403.48,293.82 404.56,293.92 405.65,294.02 406.74,294.09 407.83,294.16 408.91,294.22 410.00,294.27 411.09,294.31 412.18,294.35 413.26,294.38 414.35,294.41 415.44,294.43 416.52,294.45 417.61,294.47 418.70,294.48 419.79,294.49 420.88,294.50 421.96,294.51 423.05,294.52 424.14,294.53 425.23,294.53 426.31,294.54 427.40,294.54 428.49,294.55 429.58,294.55 430.66,294.55 431.75,294.55 432.84,294.56 433.93,294.56 435.01,294.56 436.10,294.56 437.19,294.56 438.27,294.56 439.36,294.56 440.45,294.56 441.54,294.56 442.62,294.56 443.71,294.56 444.80,294.56" fill="none" stroke="#d23636" stroke-width="0.95"/>
<rect x="356.80" y="226.97" width="2.0" height="2.0" fill="#d4a8d8" fill-opacity="0.6"/>
<rect x="371.30" y="227.06" width="2.0" height="2.0" fill="#d4a8d8" fill-opacity="0.6"/>
<rect x="385.80" y="227.74" width="2.0" height="2.0" fill="#d4a8d8" fill-opacity="0.6"/>
<rect x="400.30" y="229.42" width="2.0" height="2.0" fill="#d4a8d8" fill-opacity="0.6"/>
<rect x="410.45" y="230.00" width="2.0" height="2.0" fill="#d4a8d8" fill-opacity="0.6"/>
<rect x="414.80" y="230.09" width="2.0" height="2.0" fill="#d4a8d8" fill-opacity="0.6"/>
<rect x="424.95" y="230.17" width="2.0" height="2.0" fill="#d4a8d8" fill-opacity="0.6"/>
<rect x="429.30" y="230.18" width="2.0" height="2.0" fill="#d4a8d8" fill-opacity="0.6"/>
<rect x="443.80" y="230.19" width="2.0" height="2.0" fill="#d4a8d8" fill-opacity="0.6"/>
<rect x="356.70" y="232.62" width="2.2" height="2.2" fill="#2e6a44"/>
<rect x="371.20" y="232.63" width="2.2" height="2.2" fill="#2e6a44"/>
<rect x="385.70" y="232.74" width="2.2" height="2.2" fill="#2e6a44"/>
<rect x="400.20" y="233.80" width="2.2" height="2.2" fill="#2e6a44"/>
<rect x="410.35" y="238.02" width="2.2" height="2.2" fill="#2e6a44"/>
<rect x="414.70" y="242.55" width="2.2" height="2.2" fill="#2e6a44"/>
<rect x="424.85" y="253.37" width="2.2" height="2.2" fill="#2e6a44"/>
<rect x="429.20" y="276.51" width="2.2" height="2.2" fill="#2e6a44"/>
<rect x="443.70" y="294.76" width="2.2" height="2.2" fill="#2e6a44"/>
<rect x="356.70" y="231.71" width="2.2" height="2.2" fill="#b8b050"/>
<rect x="371.20" y="231.72" width="2.2" height="2.2" fill="#b8b050"/>
<rect x="385.70" y="231.89" width="2.2" height="2.2" fill="#b8b050"/>
<rect x="400.20" y="234.71" width="2.2" height="2.2" fill="#b8b050"/>
<rect x="410.35" y="248.59" width="2.2" height="2.2" fill="#b8b050"/>
<rect x="414.70" y="269.54" width="2.2" height="2.2" fill="#b8b050"/>
<rect x="424.85" y="286.09" width="2.2" height="2.2" fill="#b8b050"/>
<rect x="429.20" y="290.74" width="2.2" height="2.2" fill="#b8b050"/>
<rect x="443.70" y="294.51" width="2.2" height="2.2" fill="#b8b050"/>
<rect x="356.70" y="231.22" width="2.2" height="2.2" fill="#c86a30"/>
<rect x="371.20" y="231.56" width="2.2" height="2.2" fill="#c86a30"/>
<rect x="385.70" y="235.26" width="2.2" height="2.2" fill="#c86a30"/>
<rect x="400.20" y="259.65" width="2.2" height="2.2" fill="#c86a30"/>
<rect x="410.35" y="287.65" width="2.2" height="2.2" fill="#c86a30"/>
<rect x="414.70" y="288.77" width="2.2" height="2.2" fill="#c86a30"/>
<rect x="424.85" y="293.61" width="2.2" height="2.2" fill="#c86a30"/>
<rect x="429.20" y="294.21" width="2.2" height="2.2" fill="#c86a30"/>
<rect x="443.70" y="294.71" width="2.2" height="2.2" fill="#c86a30"/>
<rect x="356.70" y="232.14" width="2.2" height="2.2" fill="#1e2c7a"/>
<rect x="371.20" y="233.45" width="2.2" height="2.2" fill="#1e2c7a"/>
<rect x="385.70" y="246.78" width="2.2" height="2.2" fill="#1e2c7a"/>
<rect x="400.20" y="282.43" width="2.2" height="2.2" fill="#1e2c7a"/>
<rect x="410.35" y="292.35" width="2.2" height="2.2" fill="#1e2c7a"/>
<rect x="414.70" y="293.63" width="2.2" height="2.2" fill="#1e2c7a"/>
<rect x="424.85" y="294.57" width="2.2" height="2.2" fill="#1e2c7a"/>
<rect x="429.20" y="294.67" width="2.2" height="2.2" fill="#1e2c7a"/>
<rect x="443.70" y="294.75" width="2.2" height="2.2" fill="#1e2c7a"/>
<rect x="356.70" y="235.46" width="2.2" height="2.2" fill="#9a2428"/>
<rect x="371.20" y="260.81" width="2.2" height="2.2" fill="#9a2428"/>
<rect x="385.70" y="290.23" width="2.2" height="2.2" fill="#9a2428"/>
<rect x="400.20" y="292.45" width="2.2" height="2.2" fill="#9a2428"/>
<rect x="410.35" y="293.22" width="2.2" height="2.2" fill="#9a2428"/>
<rect x="414.70" y="293.34" width="2.2" height="2.2" fill="#9a2428"/>
<rect x="424.85" y="293.44" width="2.2" height="2.2" fill="#9a2428"/>
<rect x="429.20" y="293.45" width="2.2" height="2.2" fill="#9a2428"/>
<rect x="443.70" y="293.46" width="2.2" height="2.2" fill="#9a2428"/>
<line x1="43.30" y1="343.10" x2="43.30" y2="421.40" stroke="#9a9a9a" stroke-width="0.8"/>
<line x1="42.90" y1="421.00" x2="160.90" y2="421.00" stroke="#9a9a9a" stroke-width="0.8"/>
<line x1="41.40" y1="421.00" x2="43.30" y2="421.00" stroke="#9a9a9a" stroke-width="0.8"/>
<text x="40.70" y="423.10" font-size="6" text-anchor="end" fill="#333">0</text>
<line x1="41.40" y1="408.02" x2="43.30" y2="408.02" stroke="#9a9a9a" stroke-width="0.8"/>
<text x="40.70" y="410.12" font-size="6" text-anchor="end" fill="#333">20</text>
<line x1="41.40" y1="395.03" x2="43.30" y2="395.03" stroke="#9a9a9a" stroke-width="0.8"/>
<text x="40.70" y="397.13" font-size="6" text-anchor="end" fill="#333">40</text>
<line x1="41.40" y1="382.05" x2="43.30" y2="382.05" stroke="#9a9a9a" stroke-width="0.8"/>
<text x="40.70" y="384.15" font-size="6" text-anchor="end" fill="#333">60</text>
<line x1="41.40" y1="369.07" x2="43.30" y2="369.07" stroke="#9a9a9a" stroke-width="0.8"/>
<text x="40.70" y="371.17" font-size="6" text-anchor="end" fill="#333">80</text>
<line x1="41.40" y1="356.08" x2="43.30" y2="356.08" stroke="#9a9a9a" stroke-width="0.8"/>
<text x="40.70" y="358.18" font-size="6" text-anchor="end" fill="#333">100</text>
<line x1="41.40" y1="343.10" x2="43.30" y2="343.10" stroke="#9a9a9a" stroke-width="0.8"/>
<text x="40.70" y="345.20" font-size="6" text-anchor="end" fill="#333">120</text>
<line x1="43.30" y1="421.00" x2="43.30" y2="423.40" stroke="#9a9a9a" stroke-width="0.8"/>
<rect x="40.40" y="426.75" width="2.80" height="0.75" fill="#444"/>
<text x="43.40" y="429.10" font-size="6" fill="#333">4</text>
<line x1="58.00" y1="421.00" x2="58.00" y2="423.40" stroke="#9a9a9a" stroke-width="0.8"/>
<rect x="55.10" y="426.75" width="2.80" height="0.75" fill="#444"/>
<text x="58.10" y="429.10" font-size="6" fill="#333">3</text>
<line x1="72.70" y1="421.00" x2="72.70" y2="423.40" stroke="#9a9a9a" stroke-width="0.8"/>
<rect x="69.80" y="426.75" width="2.80" height="0.75" fill="#444"/>
<text x="72.80" y="429.10" font-size="6" fill="#333">2</text>
<line x1="87.40" y1="421.00" x2="87.40" y2="423.40" stroke="#9a9a9a" stroke-width="0.8"/>
<rect x="84.50" y="426.75" width="2.80" height="0.75" fill="#444"/>
<text x="87.50" y="429.10" font-size="6" fill="#333">1</text>
<line x1="102.10" y1="421.00" x2="102.10" y2="423.40" stroke="#9a9a9a" stroke-width="0.8"/>
<text x="102.30" y="429.10" font-size="6" text-anchor="middle" fill="#333">0</text>
<line x1="116.80" y1="421.00" x2="116.80" y2="423.40" stroke="#9a9a9a" stroke-width="0.8"/>
<text x="117.00" y="429.10" font-size="6" text-anchor="middle" fill="#333">1</text>
<line x1="131.50" y1="421.00" x2="131.50" y2="423.40" stroke="#9a9a9a" stroke-width="0.8"/>
<text x="131.70" y="429.10" font-size="6" text-anchor="middle" fill="#333">2</text>
<line x1="146.20" y1="421.00" x2="146.20" y2="423.40" stroke="#9a9a9a" stroke-width="0.8"/>
<text x="146.40" y="429.10" font-size="6" text-anchor="middle" fill="#333">3</text>
<line x1="160.90" y1="421.00" x2="160.90" y2="423.40" stroke="#9a9a9a" stroke-width="0.8"/>
<text x="161.10" y="429.10" font-size="6" text-anchor="middle" fill="#333">4</text>
<text x="83.50" y="340.60" font-size="7.9" stroke="#000" stroke-width="0.1" font-weight="bold" textLength="36.099999999999994" lengthAdjust="spacingAndGlyphs">CWR22rv1</text>
<text x="73.90" y="439.10" font-size="6.4" font-weight="bold" textLength="58.400000000000006" lengthAdjust="spacingAndGlyphs">Log conc. (nmol/L)</text>
<text transform="translate(26.60,407.70) rotate(-90)" font-size="6.1" font-weight="bold" textLength="53.30000000000001" lengthAdjust="spacing">% Cells survived</text>
<path d="M58.00,352.19V358.68M56.90,352.19h2.2M56.90,358.68h2.2" stroke="#e0b8e4" stroke-width="0.6" fill="none"/>
<path d="M72.70,350.89V359.98M71.60,350.89h2.2M71.60,359.98h2.2" stroke="#e0b8e4" stroke-width="0.6" fill="none"/>
<path d="M87.40,352.88V358.07M86.30,352.88h2.2M86.30,358.07h2.2" stroke="#e0b8e4" stroke-width="0.6" fill="none"/>
<path d="M102.10,351.85V359.64M101.00,351.85h2.2M101.00,359.64h2.2" stroke="#e0b8e4" stroke-width="0.6" fill="none"/>
<path d="M112.39,354.28V358.18M111.29,354.28h2.2M111.29,358.18h2.2" stroke="#e0b8e4" stroke-width="0.6" fill="none"/>
<path d="M116.80,353.17V359.67M115.70,353.17h2.2M115.70,359.67h2.2" stroke="#e0b8e4" stroke-width="0.6" fill="none"/>
<path d="M127.09,352.11V361.20M125.99,352.11h2.2M125.99,361.20h2.2" stroke="#e0b8e4" stroke-width="0.6" fill="none"/>
<path d="M131.50,354.10V359.29M130.40,354.10h2.2M130.40,359.29h2.2" stroke="#e0b8e4" stroke-width="0.6" fill="none"/>
<path d="M146.20,352.83V360.62M145.10,352.83h2.2M145.10,360.62h2.2" stroke="#e0b8e4" stroke-width="0.6" fill="none"/>
<path d="M58.00,354.07V357.97M56.90,354.07h2.2M56.90,357.97h2.2" stroke="#a8d0b0" stroke-width="0.6" fill="none"/>
<path d="M72.70,352.77V359.27M71.60,352.77h2.2M71.60,359.27h2.2" stroke="#a8d0b0" stroke-width="0.6" fill="none"/>
<path d="M87.40,351.49V360.58M86.30,351.49h2.2M86.30,360.58h2.2" stroke="#a8d0b0" stroke-width="0.6" fill="none"/>
<path d="M102.10,353.68V358.87M101.00,353.68h2.2M101.00,358.87h2.2" stroke="#a8d0b0" stroke-width="0.6" fill="none"/>
<path d="M112.39,353.86V361.65M111.29,353.86h2.2M111.29,361.65h2.2" stroke="#a8d0b0" stroke-width="0.6" fill="none"/>
<path d="M116.80,357.84V361.74M115.70,357.84h2.2M115.70,361.74h2.2" stroke="#a8d0b0" stroke-width="0.6" fill="none"/>
<path d="M127.09,369.84V376.33M125.99,369.84h2.2M125.99,376.33h2.2" stroke="#a8d0b0" stroke-width="0.6" fill="none"/>
<path d="M131.50,377.51V386.59M130.40,377.51h2.2M130.40,386.59h2.2" stroke="#a8d0b0" stroke-width="0.6" fill="none"/>
<path d="M146.20,393.97V399.17M145.10,393.97h2.2M145.10,399.17h2.2" stroke="#a8d0b0" stroke-width="0.6" fill="none"/>
<path d="M58.00,352.52V360.31M56.90,352.52h2.2M56.90,360.31h2.2" stroke="#e4dca0" stroke-width="0.6" fill="none"/>
<path d="M72.70,354.50V358.40M71.60,354.50h2.2M71.60,358.40h2.2" stroke="#e4dca0" stroke-width="0.6" fill="none"/>
<path d="M87.40,353.63V360.12M86.30,353.63h2.2M86.30,360.12h2.2" stroke="#e4dca0" stroke-width="0.6" fill="none"/>
<path d="M102.10,356.63V365.72M101.00,356.63h2.2M101.00,365.72h2.2" stroke="#e4dca0" stroke-width="0.6" fill="none"/>
<path d="M112.39,372.84V378.03M111.29,372.84h2.2M111.29,378.03h2.2" stroke="#e4dca0" stroke-width="0.6" fill="none"/>
<path d="M116.80,381.90V389.69M115.70,381.90h2.2M115.70,389.69h2.2" stroke="#e4dca0" stroke-width="0.6" fill="none"/>
<path d="M127.09,405.22V409.11M125.99,405.22h2.2M125.99,409.11h2.2" stroke="#e4dca0" stroke-width="0.6" fill="none"/>
<path d="M131.50,408.68V415.17M130.40,408.68h2.2M130.40,415.17h2.2" stroke="#e4dca0" stroke-width="0.6" fill="none"/>
<path d="M146.20,412.28V421.37M145.10,412.28h2.2M145.10,421.37h2.2" stroke="#e4dca0" stroke-width="0.6" fill="none"/>
<path d="M58.00,354.93V360.12M56.90,354.93h2.2M56.90,360.12h2.2" stroke="#ecc0a0" stroke-width="0.6" fill="none"/>
<path d="M72.70,353.77V361.56M71.60,353.77h2.2M71.60,361.56h2.2" stroke="#ecc0a0" stroke-width="0.6" fill="none"/>
<path d="M87.40,357.30V361.19M86.30,357.30h2.2M86.30,361.19h2.2" stroke="#ecc0a0" stroke-width="0.6" fill="none"/>
<path d="M102.10,369.67V376.16M101.00,369.67h2.2M101.00,376.16h2.2" stroke="#ecc0a0" stroke-width="0.6" fill="none"/>
<path d="M112.39,391.71V400.80M111.29,391.71h2.2M111.29,400.80h2.2" stroke="#ecc0a0" stroke-width="0.6" fill="none"/>
<path d="M116.80,401.69V406.89M115.70,401.69h2.2M115.70,406.89h2.2" stroke="#ecc0a0" stroke-width="0.6" fill="none"/>
<path d="M127.09,409.02V416.81M125.99,409.02h2.2M125.99,416.81h2.2" stroke="#ecc0a0" stroke-width="0.6" fill="none"/>
<path d="M131.50,412.15V416.04M130.40,412.15h2.2M130.40,416.04h2.2" stroke="#ecc0a0" stroke-width="0.6" fill="none"/>
<path d="M146.20,411.88V418.37M145.10,411.88h2.2M145.10,418.37h2.2" stroke="#ecc0a0" stroke-width="0.6" fill="none"/>
<path d="M58.00,353.78V362.87M56.90,353.78h2.2M56.90,362.87h2.2" stroke="#a0a8d8" stroke-width="0.6" fill="none"/>
<path d="M72.70,356.11V361.30M71.60,356.11h2.2M71.60,361.30h2.2" stroke="#a0a8d8" stroke-width="0.6" fill="none"/>
<path d="M87.40,358.92V366.71M86.30,358.92h2.2M86.30,366.71h2.2" stroke="#a0a8d8" stroke-width="0.6" fill="none"/>
<path d="M102.10,376.21V380.10M101.00,376.21h2.2M101.00,380.10h2.2" stroke="#a0a8d8" stroke-width="0.6" fill="none"/>
<path d="M112.39,405.84V412.33M111.29,405.84h2.2M111.29,412.33h2.2" stroke="#a0a8d8" stroke-width="0.6" fill="none"/>
<path d="M116.80,409.10V418.19M115.70,409.10h2.2M115.70,418.19h2.2" stroke="#a0a8d8" stroke-width="0.6" fill="none"/>
<path d="M127.09,414.51V419.70M125.99,414.51h2.2M125.99,419.70h2.2" stroke="#a0a8d8" stroke-width="0.6" fill="none"/>
<path d="M131.50,414.25V422.04M130.40,414.25h2.2M130.40,422.04h2.2" stroke="#a0a8d8" stroke-width="0.6" fill="none"/>
<path d="M146.20,416.61V420.51M145.10,416.61h2.2M145.10,420.51h2.2" stroke="#a0a8d8" stroke-width="0.6" fill="none"/>
<path d="M58.00,360.74V367.23M56.90,360.74h2.2M56.90,367.23h2.2" stroke="#e4a0a0" stroke-width="0.6" fill="none"/>
<path d="M72.70,359.92V369.00M71.60,359.92h2.2M71.60,369.00h2.2" stroke="#e4a0a0" stroke-width="0.6" fill="none"/>
<path d="M87.40,370.37V375.56M86.30,370.37h2.2M86.30,375.56h2.2" stroke="#e4a0a0" stroke-width="0.6" fill="none"/>
<path d="M102.10,386.50V394.29M101.00,386.50h2.2M101.00,394.29h2.2" stroke="#e4a0a0" stroke-width="0.6" fill="none"/>
<path d="M112.39,402.01V405.91M111.29,402.01h2.2M111.29,405.91h2.2" stroke="#e4a0a0" stroke-width="0.6" fill="none"/>
<path d="M116.80,403.29V409.78M115.70,403.29h2.2M115.70,409.78h2.2" stroke="#e4a0a0" stroke-width="0.6" fill="none"/>
<path d="M127.09,404.22V413.31M125.99,404.22h2.2M125.99,413.31h2.2" stroke="#e4a0a0" stroke-width="0.6" fill="none"/>
<path d="M131.50,406.45V411.64M130.40,406.45h2.2M130.40,411.64h2.2" stroke="#e4a0a0" stroke-width="0.6" fill="none"/>
<path d="M146.20,405.40V413.19M145.10,405.40h2.2M145.10,413.19h2.2" stroke="#e4a0a0" stroke-width="0.6" fill="none"/>
<polyline points="58.00,355.43 59.10,355.43 60.20,355.43 61.31,355.43 62.41,355.43 63.51,355.44 64.62,355.44 65.72,355.44 66.82,355.44 67.92,355.44 69.03,355.44 70.13,355.44 71.23,355.44 72.33,355.44 73.44,355.44 74.54,355.44 75.64,355.44 76.74,355.44 77.84,355.44 78.95,355.44 80.05,355.45 81.15,355.45 82.25,355.45 83.36,355.46 84.46,355.46 85.56,355.46 86.67,355.47 87.77,355.48 88.87,355.48 89.97,355.49 91.08,355.50 92.18,355.52 93.28,355.53 94.38,355.55 95.48,355.57 96.59,355.59 97.69,355.61 98.79,355.64 99.90,355.67 101.00,355.71 102.10,355.75 103.20,355.79 104.31,355.84 105.41,355.88 106.51,355.94 107.61,355.99 108.72,356.05 109.82,356.10 110.92,356.16 112.02,356.21 113.12,356.27 114.23,356.32 115.33,356.36 116.43,356.41 117.53,356.45 118.64,356.48 119.74,356.52 120.84,356.55 121.94,356.57 123.05,356.59 124.15,356.61 125.25,356.63 126.36,356.65 127.46,356.66 128.56,356.67 129.66,356.68 130.76,356.69 131.87,356.69 132.97,356.70 134.07,356.71 135.18,356.71 136.28,356.71 137.38,356.72 138.48,356.72 139.59,356.72 140.69,356.72 141.79,356.72 142.89,356.73 144.00,356.73 145.10,356.73 146.20,356.73" fill="none" stroke="#a8609f" stroke-width="0.95"/>
<polyline points="58.00,356.02 59.10,356.02 60.20,356.02 61.31,356.02 62.41,356.02 63.51,356.02 64.62,356.02 65.72,356.02 66.82,356.02 67.92,356.02 69.03,356.02 70.13,356.02 71.23,356.02 72.33,356.02 73.44,356.02 74.54,356.02 75.64,356.02 76.74,356.02 77.84,356.02 78.95,356.02 80.05,356.02 81.15,356.02 82.25,356.02 83.36,356.03 84.46,356.03 85.56,356.03 86.67,356.03 87.77,356.04 88.87,356.04 89.97,356.05 91.08,356.05 92.18,356.06 93.28,356.07 94.38,356.08 95.48,356.09 96.59,356.11 97.69,356.13 98.79,356.16 99.90,356.19 101.00,356.23 102.10,356.28 103.20,356.34 104.31,356.41 105.41,356.50 106.51,356.61 107.61,356.74 108.72,356.91 109.82,357.10 110.92,357.35 112.02,357.64 113.12,358.00 114.23,358.43 115.33,358.94 116.43,359.56 117.53,360.29 118.64,361.16 119.74,362.17 120.84,363.34 121.94,364.68 123.05,366.19 124.15,367.88 125.25,369.72 126.36,371.70 127.46,373.79 128.56,375.95 129.66,378.14 130.76,380.30 131.87,382.39 132.97,384.38 134.07,386.24 135.18,387.93 136.28,389.46 137.38,390.81 138.48,391.99 139.59,393.01 140.69,393.89 141.79,394.63 142.89,395.25 144.00,395.77 145.10,396.21 146.20,396.57" fill="none" stroke="#4cac58" stroke-width="0.95"/>
<polyline points="58.00,356.41 59.10,356.41 60.20,356.41 61.31,356.41 62.41,356.42 63.51,356.42 64.62,356.42 65.72,356.42 66.82,356.42 67.92,356.43 69.03,356.43 70.13,356.44 71.23,356.44 72.33,356.45 73.44,356.46 74.54,356.47 75.64,356.48 76.74,356.49 77.84,356.51 78.95,356.53 80.05,356.55 81.15,356.58 82.25,356.61 83.36,356.65 84.46,356.70 85.56,356.76 86.67,356.82 87.77,356.90 88.87,357.00 89.97,357.12 91.08,357.25 92.18,357.42 93.28,357.61 94.38,357.84 95.48,358.12 96.59,358.45 97.69,358.83 98.79,359.28 99.90,359.82 101.00,360.44 102.10,361.18 103.20,362.03 104.31,363.01 105.41,364.15 106.51,365.45 107.61,366.92 108.72,368.57 109.82,370.42 110.92,372.45 112.02,374.66 113.12,377.03 114.23,379.55 115.33,382.18 116.43,384.88 117.53,387.62 118.64,390.34 119.74,393.01 120.84,395.58 121.94,398.02 123.05,400.31 124.15,402.43 125.25,404.36 126.36,406.10 127.46,407.66 128.56,409.04 129.66,410.25 130.76,411.30 131.87,412.21 132.97,413.00 134.07,413.67 135.18,414.25 136.28,414.74 137.38,415.16 138.48,415.51 139.59,415.81 140.69,416.06 141.79,416.27 142.89,416.45 144.00,416.59 145.10,416.72 146.20,416.82" fill="none" stroke="#d2c640" stroke-width="0.95"/>
<polyline points="58.00,357.52 59.10,357.53 60.20,357.53 61.31,357.53 62.41,357.54 63.51,357.54 64.62,357.55 65.72,357.56 66.82,357.57 67.92,357.58 69.03,357.59 70.13,357.61 71.23,357.63 72.33,357.65 73.44,357.68 74.54,357.72 75.64,357.76 76.74,357.81 77.84,357.87 78.95,357.94 80.05,358.03 81.15,358.13 82.25,358.26 83.36,358.41 84.46,358.58 85.56,358.80 86.67,359.05 87.77,359.35 88.87,359.71 89.97,360.14 91.08,360.64 92.18,361.24 93.28,361.94 94.38,362.75 95.48,363.70 96.59,364.80 97.69,366.06 98.79,367.50 99.90,369.11 101.00,370.92 102.10,372.92 103.20,375.09 104.31,377.43 105.41,379.90 106.51,382.48 107.61,385.12 108.72,387.79 109.82,390.43 110.92,393.00 112.02,395.47 113.12,397.79 114.23,399.96 115.33,401.94 116.43,403.73 117.53,405.34 118.64,406.76 119.74,408.01 120.84,409.10 121.94,410.04 123.05,410.85 124.15,411.54 125.25,412.13 126.36,412.63 127.46,413.05 128.56,413.40 129.66,413.70 130.76,413.95 131.87,414.16 132.97,414.34 134.07,414.49 135.18,414.61 136.28,414.71 137.38,414.80 138.48,414.87 139.59,414.93 140.69,414.98 141.79,415.02 142.89,415.05 144.00,415.08 145.10,415.11 146.20,415.12" fill="none" stroke="#de7632" stroke-width="0.95"/>
<polyline points="58.00,358.33 59.10,358.33 60.20,358.34 61.31,358.35 62.41,358.36 63.51,358.38 64.62,358.40 65.72,358.42 66.82,358.45 67.92,358.48 69.03,358.51 70.13,358.56 71.23,358.61 72.33,358.68 73.44,358.76 74.54,358.85 75.64,358.96 76.74,359.10 77.84,359.26 78.95,359.45 80.05,359.68 81.15,359.96 82.25,360.29 83.36,360.67 84.46,361.13 85.56,361.68 86.67,362.32 87.77,363.07 88.87,363.95 89.97,364.98 91.08,366.16 92.18,367.51 93.28,369.05 94.38,370.78 95.48,372.71 96.59,374.83 97.69,377.14 98.79,379.61 99.90,382.22 101.00,384.93 102.10,387.70 103.20,390.48 104.31,393.23 105.41,395.90 106.51,398.45 107.61,400.85 108.72,403.07 109.82,405.11 110.92,406.94 112.02,408.58 113.12,410.03 114.23,411.30 115.33,412.41 116.43,413.36 117.53,414.18 118.64,414.88 119.74,415.47 120.84,415.98 121.94,416.40 123.05,416.76 124.15,417.06 125.25,417.32 126.36,417.53 127.46,417.71 128.56,417.86 129.66,417.98 130.76,418.08 131.87,418.17 132.97,418.24 134.07,418.30 135.18,418.35 136.28,418.39 137.38,418.43 138.48,418.46 139.59,418.48 140.69,418.50 141.79,418.52 142.89,418.53 144.00,418.54 145.10,418.55 146.20,418.56" fill="none" stroke="#3048a6" stroke-width="0.95"/>
<polyline points="58.00,363.99 59.10,364.00 60.20,364.01 61.31,364.02 62.41,364.04 63.51,364.06 64.62,364.08 65.72,364.11 66.82,364.14 67.92,364.18 69.03,364.23 70.13,364.28 71.23,364.35 72.33,364.43 73.44,364.53 74.54,364.64 75.64,364.77 76.74,364.94 77.84,365.13 78.95,365.35 80.05,365.62 81.15,365.94 82.25,366.31 83.36,366.75 84.46,367.26 85.56,367.86 86.67,368.55 87.77,369.35 88.87,370.27 89.97,371.31 91.08,372.49 92.18,373.80 93.28,375.26 94.38,376.85 95.48,378.57 96.59,380.41 97.69,382.33 98.79,384.33 99.90,386.35 101.00,388.39 102.10,390.39 103.20,392.34 104.31,394.20 105.41,395.96 106.51,397.58 107.61,399.08 108.72,400.43 109.82,401.64 110.92,402.72 112.02,403.67 113.12,404.50 114.23,405.22 115.33,405.84 116.43,406.38 117.53,406.83 118.64,407.22 119.74,407.55 120.84,407.83 121.94,408.07 123.05,408.27 124.15,408.44 125.25,408.58 126.36,408.70 127.46,408.80 128.56,408.88 129.66,408.95 130.76,409.01 131.87,409.06 132.97,409.10 134.07,409.14 135.18,409.17 136.28,409.19 137.38,409.21 138.48,409.23 139.59,409.24 140.69,409.25 141.79,409.26 142.89,409.27 144.00,409.28 145.10,409.29 146.20,409.29" fill="none" stroke="#d23636" stroke-width="0.95"/>
<rect x="57.00" y="354.43" width="2.0" height="2.0" fill="#d4a8d8" fill-opacity="0.6"/>
<rect x="71.70" y="354.44" width="2.0" height="2.0" fill="#d4a8d8" fill-opacity="0.6"/>
<rect x="86.40" y="354.47" width="2.0" height="2.0" fill="#d4a8d8" fill-opacity="0.6"/>
<rect x="101.10" y="354.75" width="2.0" height="2.0" fill="#d4a8d8" fill-opacity="0.6"/>
<rect x="111.39" y="355.23" width="2.0" height="2.0" fill="#d4a8d8" fill-opacity="0.6"/>
<rect x="115.80" y="355.42" width="2.0" height="2.0" fill="#d4a8d8" fill-opacity="0.6"/>
<rect x="126.09" y="355.66" width="2.0" height="2.0" fill="#d4a8d8" fill-opacity="0.6"/>
<rect x="130.50" y="355.69" width="2.0" height="2.0" fill="#d4a8d8" fill-opacity="0.6"/>
<rect x="145.20" y="355.73" width="2.0" height="2.0" fill="#d4a8d8" fill-opacity="0.6"/>
<rect x="56.90" y="354.92" width="2.2" height="2.2" fill="#2e6a44"/>
<rect x="71.60" y="354.92" width="2.2" height="2.2" fill="#2e6a44"/>
<rect x="86.30" y="354.93" width="2.2" height="2.2" fill="#2e6a44"/>
<rect x="101.00" y="355.18" width="2.2" height="2.2" fill="#2e6a44"/>
<rect x="111.29" y="356.65" width="2.2" height="2.2" fill="#2e6a44"/>
<rect x="115.70" y="358.69" width="2.2" height="2.2" fill="#2e6a44"/>
<rect x="125.99" y="371.99" width="2.2" height="2.2" fill="#2e6a44"/>
<rect x="130.40" y="380.95" width="2.2" height="2.2" fill="#2e6a44"/>
<rect x="145.10" y="395.47" width="2.2" height="2.2" fill="#2e6a44"/>
<rect x="56.90" y="355.31" width="2.2" height="2.2" fill="#b8b050"/>
<rect x="71.60" y="355.35" width="2.2" height="2.2" fill="#b8b050"/>
<rect x="86.30" y="355.78" width="2.2" height="2.2" fill="#b8b050"/>
<rect x="101.00" y="360.08" width="2.2" height="2.2" fill="#b8b050"/>
<rect x="111.29" y="374.33" width="2.2" height="2.2" fill="#b8b050"/>
<rect x="115.70" y="384.69" width="2.2" height="2.2" fill="#b8b050"/>
<rect x="125.99" y="406.06" width="2.2" height="2.2" fill="#b8b050"/>
<rect x="130.40" y="410.82" width="2.2" height="2.2" fill="#b8b050"/>
<rect x="145.10" y="415.72" width="2.2" height="2.2" fill="#b8b050"/>
<rect x="56.90" y="356.42" width="2.2" height="2.2" fill="#c86a30"/>
<rect x="71.60" y="356.56" width="2.2" height="2.2" fill="#c86a30"/>
<rect x="86.30" y="358.15" width="2.2" height="2.2" fill="#c86a30"/>
<rect x="101.00" y="371.82" width="2.2" height="2.2" fill="#c86a30"/>
<rect x="111.29" y="395.16" width="2.2" height="2.2" fill="#c86a30"/>
<rect x="115.70" y="403.19" width="2.2" height="2.2" fill="#c86a30"/>
<rect x="125.99" y="411.81" width="2.2" height="2.2" fill="#c86a30"/>
<rect x="130.40" y="413.00" width="2.2" height="2.2" fill="#c86a30"/>
<rect x="145.10" y="414.02" width="2.2" height="2.2" fill="#c86a30"/>
<rect x="56.90" y="357.23" width="2.2" height="2.2" fill="#1e2c7a"/>
<rect x="71.60" y="357.60" width="2.2" height="2.2" fill="#1e2c7a"/>
<rect x="86.30" y="361.71" width="2.2" height="2.2" fill="#1e2c7a"/>
<rect x="101.00" y="377.06" width="2.2" height="2.2" fill="#1e2c7a"/>
<rect x="111.29" y="407.99" width="2.2" height="2.2" fill="#1e2c7a"/>
<rect x="115.70" y="412.55" width="2.2" height="2.2" fill="#1e2c7a"/>
<rect x="125.99" y="416.00" width="2.2" height="2.2" fill="#1e2c7a"/>
<rect x="130.40" y="417.04" width="2.2" height="2.2" fill="#1e2c7a"/>
<rect x="145.10" y="417.46" width="2.2" height="2.2" fill="#1e2c7a"/>
<rect x="56.90" y="362.89" width="2.2" height="2.2" fill="#9a2428"/>
<rect x="71.60" y="363.36" width="2.2" height="2.2" fill="#9a2428"/>
<rect x="86.30" y="371.86" width="2.2" height="2.2" fill="#9a2428"/>
<rect x="101.00" y="389.29" width="2.2" height="2.2" fill="#9a2428"/>
<rect x="111.29" y="402.86" width="2.2" height="2.2" fill="#9a2428"/>
<rect x="115.70" y="405.44" width="2.2" height="2.2" fill="#9a2428"/>
<rect x="125.99" y="407.67" width="2.2" height="2.2" fill="#9a2428"/>
<rect x="130.40" y="407.95" width="2.2" height="2.2" fill="#9a2428"/>
<rect x="145.10" y="408.19" width="2.2" height="2.2" fill="#9a2428"/>
<line x1="193.40" y1="338.30" x2="193.40" y2="421.30" stroke="#9a9a9a" stroke-width="0.8"/>
<line x1="193.00" y1="420.90" x2="315.80" y2="420.90" stroke="#9a9a9a" stroke-width="0.8"/>
<line x1="191.50" y1="420.90" x2="193.40" y2="420.90" stroke="#9a9a9a" stroke-width="0.8"/>
<text x="190.80" y="423.00" font-size="6" text-anchor="end" fill="#333">0</text>
<line x1="191.50" y1="407.13" x2="193.40" y2="407.13" stroke="#9a9a9a" stroke-width="0.8"/>
<text x="190.80" y="409.23" font-size="6" text-anchor="end" fill="#333">20</text>
<line x1="191.50" y1="393.37" x2="193.40" y2="393.37" stroke="#9a9a9a" stroke-width="0.8"/>
<text x="190.80" y="395.47" font-size="6" text-anchor="end" fill="#333">40</text>
<line x1="191.50" y1="379.60" x2="193.40" y2="379.60" stroke="#9a9a9a" stroke-width="0.8"/>
<text x="190.80" y="381.70" font-size="6" text-anchor="end" fill="#333">60</text>
<line x1="191.50" y1="365.83" x2="193.40" y2="365.83" stroke="#9a9a9a" stroke-width="0.8"/>
<text x="190.80" y="367.93" font-size="6" text-anchor="end" fill="#333">80</text>
<line x1="191.50" y1="352.07" x2="193.40" y2="352.07" stroke="#9a9a9a" stroke-width="0.8"/>
<text x="190.80" y="354.17" font-size="6" text-anchor="end" fill="#333">100</text>
<line x1="191.50" y1="338.30" x2="193.40" y2="338.30" stroke="#9a9a9a" stroke-width="0.8"/>
<text x="190.80" y="340.40" font-size="6" text-anchor="end" fill="#333">120</text>
<line x1="193.40" y1="420.90" x2="193.40" y2="423.30" stroke="#9a9a9a" stroke-width="0.8"/>
<rect x="190.50" y="426.65" width="2.80" height="0.75" fill="#444"/>
<text x="193.50" y="429.00" font-size="6" fill="#333">4</text>
<line x1="208.70" y1="420.90" x2="208.70" y2="423.30" stroke="#9a9a9a" stroke-width="0.8"/>
<rect x="205.80" y="426.65" width="2.80" height="0.75" fill="#444"/>
<text x="208.80" y="429.00" font-size="6" fill="#333">3</text>
<line x1="224.00" y1="420.90" x2="224.00" y2="423.30" stroke="#9a9a9a" stroke-width="0.8"/>
<rect x="221.10" y="426.65" width="2.80" height="0.75" fill="#444"/>
<text x="224.10" y="429.00" font-size="6" fill="#333">2</text>
<line x1="239.30" y1="420.90" x2="239.30" y2="423.30" stroke="#9a9a9a" stroke-width="0.8"/>
<rect x="236.40" y="426.65" width="2.80" height="0.75" fill="#444"/>
<text x="239.40" y="429.00" font-size="6" fill="#333">1</text>
<line x1="254.60" y1="420.90" x2="254.60" y2="423.30" stroke="#9a9a9a" stroke-width="0.8"/>
<text x="254.80" y="429.00" font-size="6" text-anchor="middle" fill="#333">0</text>
<line x1="269.90" y1="420.90" x2="269.90" y2="423.30" stroke="#9a9a9a" stroke-width="0.8"/>
<text x="270.10" y="429.00" font-size="6" text-anchor="middle" fill="#333">1</text>
<line x1="285.20" y1="420.90" x2="285.20" y2="423.30" stroke="#9a9a9a" stroke-width="0.8"/>
<text x="285.40" y="429.00" font-size="6" text-anchor="middle" fill="#333">2</text>
<line x1="300.50" y1="420.90" x2="300.50" y2="423.30" stroke="#9a9a9a" stroke-width="0.8"/>
<text x="300.70" y="429.00" font-size="6" text-anchor="middle" fill="#333">3</text>
<line x1="315.80" y1="420.90" x2="315.80" y2="423.30" stroke="#9a9a9a" stroke-width="0.8"/>
<text x="316.00" y="429.00" font-size="6" text-anchor="middle" fill="#333">4</text>
<text x="247.90" y="338.50" font-size="7.9" stroke="#000" stroke-width="0.1" font-weight="bold" textLength="14.200000000000017" lengthAdjust="spacingAndGlyphs">PC3</text>
<text x="225.40" y="439.00" font-size="6.4" font-weight="bold" textLength="58.400000000000006" lengthAdjust="spacingAndGlyphs">Log conc. (nmol/L)</text>
<path d="M208.70,349.31V356.20M207.60,349.31h2.2M207.60,356.20h2.2" stroke="#e0b8e4" stroke-width="0.6" fill="none"/>
<path d="M224.00,347.94V357.57M222.90,347.94h2.2M222.90,357.57h2.2" stroke="#e0b8e4" stroke-width="0.6" fill="none"/>
<path d="M239.30,350.00V355.51M238.20,350.00h2.2M238.20,355.51h2.2" stroke="#e0b8e4" stroke-width="0.6" fill="none"/>
<path d="M254.60,348.62V356.88M253.50,348.62h2.2M253.50,356.88h2.2" stroke="#e0b8e4" stroke-width="0.6" fill="none"/>
<path d="M265.31,350.69V354.82M264.21,350.69h2.2M264.21,354.82h2.2" stroke="#e0b8e4" stroke-width="0.6" fill="none"/>
<path d="M269.90,349.31V356.20M268.80,349.31h2.2M268.80,356.20h2.2" stroke="#e0b8e4" stroke-width="0.6" fill="none"/>
<path d="M280.61,347.94V357.57M279.51,347.94h2.2M279.51,357.57h2.2" stroke="#e0b8e4" stroke-width="0.6" fill="none"/>
<path d="M285.20,350.00V355.51M284.10,350.00h2.2M284.10,355.51h2.2" stroke="#e0b8e4" stroke-width="0.6" fill="none"/>
<path d="M300.50,348.62V356.88M299.40,348.62h2.2M299.40,356.88h2.2" stroke="#e0b8e4" stroke-width="0.6" fill="none"/>
<path d="M208.70,347.66V351.79M207.60,347.66h2.2M207.60,351.79h2.2" stroke="#e4a0a0" stroke-width="0.6" fill="none"/>
<path d="M224.00,346.29V353.17M222.90,346.29h2.2M222.90,353.17h2.2" stroke="#e4a0a0" stroke-width="0.6" fill="none"/>
<path d="M239.30,344.92V354.56M238.20,344.92h2.2M238.20,354.56h2.2" stroke="#e4a0a0" stroke-width="0.6" fill="none"/>
<path d="M254.60,347.20V352.71M253.50,347.20h2.2M253.50,352.71h2.2" stroke="#e4a0a0" stroke-width="0.6" fill="none"/>
<path d="M265.31,347.10V355.36M264.21,347.10h2.2M264.21,355.36h2.2" stroke="#e4a0a0" stroke-width="0.6" fill="none"/>
<path d="M269.90,350.93V355.06M268.80,350.93h2.2M268.80,355.06h2.2" stroke="#e4a0a0" stroke-width="0.6" fill="none"/>
<path d="M280.61,356.88V363.77M279.51,356.88h2.2M279.51,363.77h2.2" stroke="#e4a0a0" stroke-width="0.6" fill="none"/>
<path d="M285.20,374.09V383.73M284.10,374.09h2.2M284.10,383.73h2.2" stroke="#e4a0a0" stroke-width="0.6" fill="none"/>
<path d="M300.50,386.80V392.31M299.40,386.80h2.2M299.40,392.31h2.2" stroke="#e4a0a0" stroke-width="0.6" fill="none"/>
<path d="M208.70,348.63V356.89M207.60,348.63h2.2M207.60,356.89h2.2" stroke="#a8d0b0" stroke-width="0.6" fill="none"/>
<path d="M224.00,350.70V354.83M222.90,350.70h2.2M222.90,354.83h2.2" stroke="#a8d0b0" stroke-width="0.6" fill="none"/>
<path d="M239.30,349.40V356.29M238.20,349.40h2.2M238.20,356.29h2.2" stroke="#a8d0b0" stroke-width="0.6" fill="none"/>
<path d="M254.60,348.59V358.23M253.50,348.59h2.2M253.50,358.23h2.2" stroke="#a8d0b0" stroke-width="0.6" fill="none"/>
<path d="M265.31,352.52V358.02M264.21,352.52h2.2M264.21,358.02h2.2" stroke="#a8d0b0" stroke-width="0.6" fill="none"/>
<path d="M269.90,353.00V361.26M268.80,353.00h2.2M268.80,361.26h2.2" stroke="#a8d0b0" stroke-width="0.6" fill="none"/>
<path d="M280.61,364.47V368.60M279.51,364.47h2.2M279.51,368.60h2.2" stroke="#a8d0b0" stroke-width="0.6" fill="none"/>
<path d="M285.20,369.62V376.50M284.10,369.62h2.2M284.10,376.50h2.2" stroke="#a8d0b0" stroke-width="0.6" fill="none"/>
<path d="M300.50,388.78V398.41M299.40,388.78h2.2M299.40,398.41h2.2" stroke="#a8d0b0" stroke-width="0.6" fill="none"/>
<path d="M208.70,350.48V355.99M207.60,350.48h2.2M207.60,355.99h2.2" stroke="#e4dca0" stroke-width="0.6" fill="none"/>
<path d="M224.00,349.11V357.37M222.90,349.11h2.2M222.90,357.37h2.2" stroke="#e4dca0" stroke-width="0.6" fill="none"/>
<path d="M239.30,351.21V355.34M238.20,351.21h2.2M238.20,355.34h2.2" stroke="#e4dca0" stroke-width="0.6" fill="none"/>
<path d="M254.60,350.33V357.21M253.50,350.33h2.2M253.50,357.21h2.2" stroke="#e4dca0" stroke-width="0.6" fill="none"/>
<path d="M265.31,351.79V361.43M264.21,351.79h2.2M264.21,361.43h2.2" stroke="#e4dca0" stroke-width="0.6" fill="none"/>
<path d="M269.90,357.56V363.06M268.80,357.56h2.2M268.80,363.06h2.2" stroke="#e4dca0" stroke-width="0.6" fill="none"/>
<path d="M280.61,376.33V384.59M279.51,376.33h2.2M279.51,384.59h2.2" stroke="#e4dca0" stroke-width="0.6" fill="none"/>
<path d="M285.20,388.91V393.04M284.10,388.91h2.2M284.10,393.04h2.2" stroke="#e4dca0" stroke-width="0.6" fill="none"/>
<path d="M300.50,402.70V409.58M299.40,402.70h2.2M299.40,409.58h2.2" stroke="#e4dca0" stroke-width="0.6" fill="none"/>
<path d="M208.70,349.53V359.17M207.60,349.53h2.2M207.60,359.17h2.2" stroke="#ecc0a0" stroke-width="0.6" fill="none"/>
<path d="M224.00,351.69V357.19M222.90,351.69h2.2M222.90,357.19h2.2" stroke="#ecc0a0" stroke-width="0.6" fill="none"/>
<path d="M239.30,351.18V359.44M238.20,351.18h2.2M238.20,359.44h2.2" stroke="#ecc0a0" stroke-width="0.6" fill="none"/>
<path d="M254.60,360.36V364.49M253.50,360.36h2.2M253.50,364.49h2.2" stroke="#ecc0a0" stroke-width="0.6" fill="none"/>
<path d="M265.31,376.14V383.02M264.21,376.14h2.2M264.21,383.02h2.2" stroke="#ecc0a0" stroke-width="0.6" fill="none"/>
<path d="M269.90,384.14V393.77M268.80,384.14h2.2M268.80,393.77h2.2" stroke="#ecc0a0" stroke-width="0.6" fill="none"/>
<path d="M280.61,394.74V400.25M279.51,394.74h2.2M279.51,400.25h2.2" stroke="#ecc0a0" stroke-width="0.6" fill="none"/>
<path d="M285.20,402.94V411.20M284.10,402.94h2.2M284.10,411.20h2.2" stroke="#ecc0a0" stroke-width="0.6" fill="none"/>
<path d="M300.50,408.06V412.19M299.40,408.06h2.2M299.40,412.19h2.2" stroke="#ecc0a0" stroke-width="0.6" fill="none"/>
<path d="M208.70,349.83V356.72M207.60,349.83h2.2M207.60,356.72h2.2" stroke="#a0a8d8" stroke-width="0.6" fill="none"/>
<path d="M224.00,348.87V358.50M222.90,348.87h2.2M222.90,358.50h2.2" stroke="#a0a8d8" stroke-width="0.6" fill="none"/>
<path d="M239.30,355.46V360.97M238.20,355.46h2.2M238.20,360.97h2.2" stroke="#a0a8d8" stroke-width="0.6" fill="none"/>
<path d="M254.60,382.35V390.61M253.50,382.35h2.2M253.50,390.61h2.2" stroke="#a0a8d8" stroke-width="0.6" fill="none"/>
<path d="M265.31,394.06V398.19M264.21,394.06h2.2M264.21,398.19h2.2" stroke="#a0a8d8" stroke-width="0.6" fill="none"/>
<path d="M269.90,404.37V411.26M268.80,404.37h2.2M268.80,411.26h2.2" stroke="#a0a8d8" stroke-width="0.6" fill="none"/>
<path d="M280.61,406.31V415.94M279.51,406.31h2.2M279.51,415.94h2.2" stroke="#a0a8d8" stroke-width="0.6" fill="none"/>
<path d="M285.20,408.77V414.27M284.10,408.77h2.2M284.10,414.27h2.2" stroke="#a0a8d8" stroke-width="0.6" fill="none"/>
<path d="M300.50,411.95V420.21M299.40,411.95h2.2M299.40,420.21h2.2" stroke="#a0a8d8" stroke-width="0.6" fill="none"/>
<polyline points="208.70,352.75 209.85,352.75 211.00,352.75 212.14,352.75 213.29,352.75 214.44,352.75 215.59,352.75 216.73,352.75 217.88,352.75 219.03,352.75 220.18,352.75 221.32,352.75 222.47,352.75 223.62,352.75 224.77,352.75 225.91,352.75 227.06,352.75 228.21,352.75 229.36,352.75 230.50,352.75 231.65,352.75 232.80,352.75 233.94,352.75 235.09,352.75 236.24,352.75 237.39,352.75 238.54,352.75 239.68,352.75 240.83,352.75 241.98,352.75 243.12,352.75 244.27,352.75 245.42,352.75 246.57,352.75 247.72,352.75 248.86,352.75 250.01,352.75 251.16,352.75 252.31,352.75 253.45,352.75 254.60,352.75 255.75,352.75 256.90,352.75 258.04,352.75 259.19,352.75 260.34,352.75 261.49,352.75 262.63,352.75 263.78,352.75 264.93,352.75 266.07,352.75 267.22,352.75 268.37,352.75 269.52,352.75 270.67,352.75 271.81,352.75 272.96,352.75 274.11,352.75 275.25,352.75 276.40,352.75 277.55,352.75 278.70,352.75 279.85,352.75 280.99,352.75 282.14,352.75 283.29,352.75 284.44,352.75 285.58,352.75 286.73,352.75 287.88,352.75 289.02,352.75 290.17,352.75 291.32,352.75 292.47,352.75 293.62,352.75 294.76,352.75 295.91,352.75 297.06,352.75 298.20,352.75 299.35,352.75 300.50,352.75" fill="none" stroke="#a8609f" stroke-width="0.95"/>
<polyline points="208.70,349.73 209.85,349.73 211.00,349.73 212.14,349.73 213.29,349.73 214.44,349.73 215.59,349.73 216.73,349.73 217.88,349.73 219.03,349.73 220.18,349.73 221.32,349.73 222.47,349.73 223.62,349.73 224.77,349.73 225.91,349.73 227.06,349.73 228.21,349.73 229.36,349.73 230.50,349.73 231.65,349.73 232.80,349.73 233.94,349.73 235.09,349.73 236.24,349.73 237.39,349.74 238.54,349.74 239.68,349.74 240.83,349.75 241.98,349.75 243.12,349.76 244.27,349.76 245.42,349.77 246.57,349.78 247.72,349.79 248.86,349.81 250.01,349.83 251.16,349.85 252.31,349.88 253.45,349.91 254.60,349.95 255.75,350.01 256.90,350.07 258.04,350.15 259.19,350.24 260.34,350.36 261.49,350.50 262.63,350.67 263.78,350.88 264.93,351.13 266.07,351.44 267.22,351.81 268.37,352.26 269.52,352.80 270.67,353.43 271.81,354.19 272.96,355.08 274.11,356.11 275.25,357.30 276.40,358.66 277.55,360.19 278.70,361.88 279.85,363.73 280.99,365.70 282.14,367.77 283.29,369.90 284.44,372.05 285.58,374.16 286.73,376.20 287.88,378.14 289.02,379.93 290.17,381.57 291.32,383.04 292.47,384.35 293.62,385.48 294.76,386.47 295.91,387.31 297.06,388.03 298.20,388.63 299.35,389.13 300.50,389.55" fill="none" stroke="#d23636" stroke-width="0.95"/>
<polyline points="208.70,352.76 209.85,352.76 211.00,352.76 212.14,352.76 213.29,352.76 214.44,352.76 215.59,352.76 216.73,352.76 217.88,352.76 219.03,352.76 220.18,352.76 221.32,352.76 222.47,352.77 223.62,352.77 224.77,352.77 225.91,352.77 227.06,352.77 228.21,352.78 229.36,352.78 230.50,352.78 231.65,352.79 232.80,352.79 233.94,352.80 235.09,352.81 236.24,352.82 237.39,352.83 238.54,352.84 239.68,352.85 240.83,352.87 241.98,352.88 243.12,352.90 244.27,352.93 245.42,352.96 246.57,352.99 247.72,353.03 248.86,353.07 250.01,353.12 251.16,353.18 252.31,353.24 253.45,353.32 254.60,353.41 255.75,353.51 256.90,353.63 258.04,353.77 259.19,353.93 260.34,354.11 261.49,354.32 262.63,354.56 263.78,354.84 264.93,355.15 266.07,355.52 267.22,355.93 268.37,356.40 269.52,356.94 270.67,357.54 271.81,358.22 272.96,358.98 274.11,359.83 275.25,360.78 276.40,361.83 277.55,362.97 278.70,364.23 279.85,365.58 280.99,367.03 282.14,368.57 283.29,370.20 284.44,371.90 285.58,373.65 286.73,375.44 287.88,377.24 289.02,379.05 290.17,380.83 291.32,382.58 292.47,384.26 293.62,385.88 294.76,387.41 295.91,388.85 297.06,390.19 298.20,391.43 299.35,392.56 300.50,393.60" fill="none" stroke="#4cac58" stroke-width="0.95"/>
<polyline points="208.70,353.24 209.85,353.24 211.00,353.24 212.14,353.24 213.29,353.24 214.44,353.24 215.59,353.24 216.73,353.24 217.88,353.24 219.03,353.24 220.18,353.24 221.32,353.24 222.47,353.24 223.62,353.24 224.77,353.24 225.91,353.24 227.06,353.24 228.21,353.24 229.36,353.24 230.50,353.24 231.65,353.25 232.80,353.25 233.94,353.25 235.09,353.25 236.24,353.26 237.39,353.26 238.54,353.27 239.68,353.27 240.83,353.28 241.98,353.29 243.12,353.31 244.27,353.32 245.42,353.34 246.57,353.37 247.72,353.39 248.86,353.43 250.01,353.47 251.16,353.53 252.31,353.59 253.45,353.67 254.60,353.77 255.75,353.89 256.90,354.03 258.04,354.21 259.19,354.42 260.34,354.68 261.49,355.00 262.63,355.38 263.78,355.85 264.93,356.40 266.07,357.07 267.22,357.86 268.37,358.80 269.52,359.90 270.67,361.19 271.81,362.67 272.96,364.37 274.11,366.28 275.25,368.41 276.40,370.74 277.55,373.24 278.70,375.88 279.85,378.61 280.99,381.38 282.14,384.14 283.29,386.81 284.44,389.37 285.58,391.76 286.73,393.95 287.88,395.94 289.02,397.71 290.17,399.26 291.32,400.61 292.47,401.77 293.62,402.77 294.76,403.60 295.91,404.31 297.06,404.90 298.20,405.39 299.35,405.80 300.50,406.14" fill="none" stroke="#d2c640" stroke-width="0.95"/>
<polyline points="208.70,354.35 209.85,354.35 211.00,354.35 212.14,354.36 213.29,354.36 214.44,354.36 215.59,354.37 216.73,354.37 217.88,354.38 219.03,354.39 220.18,354.40 221.32,354.41 222.47,354.42 223.62,354.44 224.77,354.45 225.91,354.48 227.06,354.50 228.21,354.53 229.36,354.57 230.50,354.61 231.65,354.66 232.80,354.71 233.94,354.78 235.09,354.87 236.24,354.96 237.39,355.07 238.54,355.21 239.68,355.37 240.83,355.55 241.98,355.77 243.12,356.02 244.27,356.32 245.42,356.68 246.57,357.09 247.72,357.56 248.86,358.12 250.01,358.76 251.16,359.50 252.31,360.35 253.45,361.32 254.60,362.42 255.75,363.67 256.90,365.06 258.04,366.61 259.19,368.31 260.34,370.16 261.49,372.15 262.63,374.27 263.78,376.49 264.93,378.80 266.07,381.16 267.22,383.53 268.37,385.89 269.52,388.20 270.67,390.43 271.81,392.56 272.96,394.56 274.11,396.42 275.25,398.13 276.40,399.69 277.55,401.09 278.70,402.34 279.85,403.45 280.99,404.43 282.14,405.29 283.29,406.04 284.44,406.69 285.58,407.25 286.73,407.73 287.88,408.14 289.02,408.50 290.17,408.80 291.32,409.06 292.47,409.28 293.62,409.47 294.76,409.63 295.91,409.76 297.06,409.88 298.20,409.97 299.35,410.06 300.50,410.13" fill="none" stroke="#de7632" stroke-width="0.95"/>
<polyline points="208.70,353.27 209.85,353.28 211.00,353.29 212.14,353.30 213.29,353.32 214.44,353.33 215.59,353.35 216.73,353.38 217.88,353.40 219.03,353.44 220.18,353.48 221.32,353.53 222.47,353.59 223.62,353.66 224.77,353.74 225.91,353.85 227.06,353.97 228.21,354.12 229.36,354.30 230.50,354.51 231.65,354.77 232.80,355.07 233.94,355.43 235.09,355.86 236.24,356.37 237.39,356.97 238.54,357.68 239.68,358.51 240.83,359.47 241.98,360.59 243.12,361.88 244.27,363.34 245.42,365.00 246.57,366.85 247.72,368.90 248.86,371.13 250.01,373.53 251.16,376.07 252.31,378.72 253.45,381.43 254.60,384.16 255.75,386.87 256.90,389.50 258.04,392.02 259.19,394.39 260.34,396.59 261.49,398.60 262.63,400.42 263.78,402.04 264.93,403.48 266.07,404.73 267.22,405.82 268.37,406.77 269.52,407.57 270.67,408.26 271.81,408.84 272.96,409.34 274.11,409.76 275.25,410.11 276.40,410.40 277.55,410.65 278.70,410.85 279.85,411.03 280.99,411.17 282.14,411.29 283.29,411.39 284.44,411.47 285.58,411.54 286.73,411.60 287.88,411.65 289.02,411.69 290.17,411.72 291.32,411.75 292.47,411.77 293.62,411.79 294.76,411.81 295.91,411.82 297.06,411.83 298.20,411.84 299.35,411.85 300.50,411.85" fill="none" stroke="#3048a6" stroke-width="0.95"/>
<rect x="207.70" y="351.75" width="2.0" height="2.0" fill="#d4a8d8" fill-opacity="0.6"/>
<rect x="223.00" y="351.75" width="2.0" height="2.0" fill="#d4a8d8" fill-opacity="0.6"/>
<rect x="238.30" y="351.75" width="2.0" height="2.0" fill="#d4a8d8" fill-opacity="0.6"/>
<rect x="253.60" y="351.75" width="2.0" height="2.0" fill="#d4a8d8" fill-opacity="0.6"/>
<rect x="264.31" y="351.75" width="2.0" height="2.0" fill="#d4a8d8" fill-opacity="0.6"/>
<rect x="268.90" y="351.75" width="2.0" height="2.0" fill="#d4a8d8" fill-opacity="0.6"/>
<rect x="279.61" y="351.75" width="2.0" height="2.0" fill="#d4a8d8" fill-opacity="0.6"/>
<rect x="284.20" y="351.75" width="2.0" height="2.0" fill="#d4a8d8" fill-opacity="0.6"/>
<rect x="299.50" y="351.75" width="2.0" height="2.0" fill="#d4a8d8" fill-opacity="0.6"/>
<rect x="207.60" y="348.63" width="2.2" height="2.2" fill="#9a2428"/>
<rect x="222.90" y="348.63" width="2.2" height="2.2" fill="#9a2428"/>
<rect x="238.20" y="348.64" width="2.2" height="2.2" fill="#9a2428"/>
<rect x="253.50" y="348.85" width="2.2" height="2.2" fill="#9a2428"/>
<rect x="264.21" y="350.13" width="2.2" height="2.2" fill="#9a2428"/>
<rect x="268.80" y="351.90" width="2.2" height="2.2" fill="#9a2428"/>
<rect x="279.51" y="359.23" width="2.2" height="2.2" fill="#9a2428"/>
<rect x="284.10" y="377.81" width="2.2" height="2.2" fill="#9a2428"/>
<rect x="299.40" y="388.45" width="2.2" height="2.2" fill="#9a2428"/>
<rect x="207.60" y="351.66" width="2.2" height="2.2" fill="#2e6a44"/>
<rect x="222.90" y="351.67" width="2.2" height="2.2" fill="#2e6a44"/>
<rect x="238.20" y="351.75" width="2.2" height="2.2" fill="#2e6a44"/>
<rect x="253.50" y="352.31" width="2.2" height="2.2" fill="#2e6a44"/>
<rect x="264.21" y="354.17" width="2.2" height="2.2" fill="#2e6a44"/>
<rect x="268.80" y="356.03" width="2.2" height="2.2" fill="#2e6a44"/>
<rect x="279.51" y="365.44" width="2.2" height="2.2" fill="#2e6a44"/>
<rect x="284.10" y="371.96" width="2.2" height="2.2" fill="#2e6a44"/>
<rect x="299.40" y="392.50" width="2.2" height="2.2" fill="#2e6a44"/>
<rect x="207.60" y="352.14" width="2.2" height="2.2" fill="#b8b050"/>
<rect x="222.90" y="352.14" width="2.2" height="2.2" fill="#b8b050"/>
<rect x="238.20" y="352.17" width="2.2" height="2.2" fill="#b8b050"/>
<rect x="253.50" y="352.67" width="2.2" height="2.2" fill="#b8b050"/>
<rect x="264.21" y="355.51" width="2.2" height="2.2" fill="#b8b050"/>
<rect x="268.80" y="359.21" width="2.2" height="2.2" fill="#b8b050"/>
<rect x="279.51" y="379.36" width="2.2" height="2.2" fill="#b8b050"/>
<rect x="284.10" y="389.88" width="2.2" height="2.2" fill="#b8b050"/>
<rect x="299.40" y="405.04" width="2.2" height="2.2" fill="#b8b050"/>
<rect x="207.60" y="353.25" width="2.2" height="2.2" fill="#c86a30"/>
<rect x="222.90" y="353.34" width="2.2" height="2.2" fill="#c86a30"/>
<rect x="238.20" y="354.21" width="2.2" height="2.2" fill="#c86a30"/>
<rect x="253.50" y="361.32" width="2.2" height="2.2" fill="#c86a30"/>
<rect x="264.21" y="378.48" width="2.2" height="2.2" fill="#c86a30"/>
<rect x="268.80" y="387.85" width="2.2" height="2.2" fill="#c86a30"/>
<rect x="279.51" y="396.40" width="2.2" height="2.2" fill="#c86a30"/>
<rect x="284.10" y="405.97" width="2.2" height="2.2" fill="#c86a30"/>
<rect x="299.40" y="409.03" width="2.2" height="2.2" fill="#c86a30"/>
<rect x="207.60" y="352.17" width="2.2" height="2.2" fill="#1e2c7a"/>
<rect x="222.90" y="352.59" width="2.2" height="2.2" fill="#1e2c7a"/>
<rect x="238.20" y="357.12" width="2.2" height="2.2" fill="#1e2c7a"/>
<rect x="253.50" y="385.38" width="2.2" height="2.2" fill="#1e2c7a"/>
<rect x="264.21" y="395.02" width="2.2" height="2.2" fill="#1e2c7a"/>
<rect x="268.80" y="406.71" width="2.2" height="2.2" fill="#1e2c7a"/>
<rect x="279.51" y="410.03" width="2.2" height="2.2" fill="#1e2c7a"/>
<rect x="284.10" y="410.42" width="2.2" height="2.2" fill="#1e2c7a"/>
<rect x="299.40" y="414.98" width="2.2" height="2.2" fill="#1e2c7a"/>
<line x1="345.60" y1="341.40" x2="345.60" y2="422.00" stroke="#9a9a9a" stroke-width="0.8"/>
<line x1="345.20" y1="421.60" x2="465.60" y2="421.60" stroke="#9a9a9a" stroke-width="0.8"/>
<line x1="343.70" y1="421.60" x2="345.60" y2="421.60" stroke="#9a9a9a" stroke-width="0.8"/>
<text x="343.00" y="423.70" font-size="6" text-anchor="end" fill="#333">0</text>
<line x1="343.70" y1="408.23" x2="345.60" y2="408.23" stroke="#9a9a9a" stroke-width="0.8"/>
<text x="343.00" y="410.33" font-size="6" text-anchor="end" fill="#333">20</text>
<line x1="343.70" y1="394.87" x2="345.60" y2="394.87" stroke="#9a9a9a" stroke-width="0.8"/>
<text x="343.00" y="396.97" font-size="6" text-anchor="end" fill="#333">40</text>
<line x1="343.70" y1="381.50" x2="345.60" y2="381.50" stroke="#9a9a9a" stroke-width="0.8"/>
<text x="343.00" y="383.60" font-size="6" text-anchor="end" fill="#333">60</text>
<line x1="343.70" y1="368.13" x2="345.60" y2="368.13" stroke="#9a9a9a" stroke-width="0.8"/>
<text x="343.00" y="370.23" font-size="6" text-anchor="end" fill="#333">80</text>
<line x1="343.70" y1="354.77" x2="345.60" y2="354.77" stroke="#9a9a9a" stroke-width="0.8"/>
<text x="343.00" y="356.87" font-size="6" text-anchor="end" fill="#333">100</text>
<line x1="343.70" y1="341.40" x2="345.60" y2="341.40" stroke="#9a9a9a" stroke-width="0.8"/>
<text x="343.00" y="343.50" font-size="6" text-anchor="end" fill="#333">120</text>
<line x1="345.60" y1="421.60" x2="345.60" y2="424.00" stroke="#9a9a9a" stroke-width="0.8"/>
<rect x="342.70" y="427.35" width="2.80" height="0.75" fill="#444"/>
<text x="345.70" y="429.70" font-size="6" fill="#333">4</text>
<line x1="360.60" y1="421.60" x2="360.60" y2="424.00" stroke="#9a9a9a" stroke-width="0.8"/>
<rect x="357.70" y="427.35" width="2.80" height="0.75" fill="#444"/>
<text x="360.70" y="429.70" font-size="6" fill="#333">3</text>
<line x1="375.60" y1="421.60" x2="375.60" y2="424.00" stroke="#9a9a9a" stroke-width="0.8"/>
<rect x="372.70" y="427.35" width="2.80" height="0.75" fill="#444"/>
<text x="375.70" y="429.70" font-size="6" fill="#333">2</text>
<line x1="390.60" y1="421.60" x2="390.60" y2="424.00" stroke="#9a9a9a" stroke-width="0.8"/>
<rect x="387.70" y="427.35" width="2.80" height="0.75" fill="#444"/>
<text x="390.70" y="429.70" font-size="6" fill="#333">1</text>
<line x1="405.60" y1="421.60" x2="405.60" y2="424.00" stroke="#9a9a9a" stroke-width="0.8"/>
<text x="405.80" y="429.70" font-size="6" text-anchor="middle" fill="#333">0</text>
<line x1="420.60" y1="421.60" x2="420.60" y2="424.00" stroke="#9a9a9a" stroke-width="0.8"/>
<text x="420.80" y="429.70" font-size="6" text-anchor="middle" fill="#333">1</text>
<line x1="435.60" y1="421.60" x2="435.60" y2="424.00" stroke="#9a9a9a" stroke-width="0.8"/>
<text x="435.80" y="429.70" font-size="6" text-anchor="middle" fill="#333">2</text>
<line x1="450.60" y1="421.60" x2="450.60" y2="424.00" stroke="#9a9a9a" stroke-width="0.8"/>
<text x="450.80" y="429.70" font-size="6" text-anchor="middle" fill="#333">3</text>
<line x1="465.60" y1="421.60" x2="465.60" y2="424.00" stroke="#9a9a9a" stroke-width="0.8"/>
<text x="465.80" y="429.70" font-size="6" text-anchor="middle" fill="#333">4</text>
<text x="393.70" y="335.50" font-size="7.9" stroke="#000" stroke-width="0.1" font-weight="bold" textLength="23.600000000000023" lengthAdjust="spacingAndGlyphs">DU145</text>
<text x="375.40" y="439.00" font-size="6.4" font-weight="bold" textLength="58.700000000000045" lengthAdjust="spacingAndGlyphs">Log conc. (nmol/L)</text>
<path d="M360.60,354.10V360.78M359.50,354.10h2.2M359.50,360.78h2.2" stroke="#e0b8e4" stroke-width="0.6" fill="none"/>
<path d="M375.60,352.76V362.12M374.50,352.76h2.2M374.50,362.12h2.2" stroke="#e0b8e4" stroke-width="0.6" fill="none"/>
<path d="M390.60,354.76V360.11M389.50,354.76h2.2M389.50,360.11h2.2" stroke="#e0b8e4" stroke-width="0.6" fill="none"/>
<path d="M405.60,353.37V361.39M404.50,353.37h2.2M404.50,361.39h2.2" stroke="#e0b8e4" stroke-width="0.6" fill="none"/>
<path d="M416.10,355.16V359.17M415.00,355.16h2.2M415.00,359.17h2.2" stroke="#e0b8e4" stroke-width="0.6" fill="none"/>
<path d="M420.60,353.62V360.30M419.50,353.62h2.2M419.50,360.30h2.2" stroke="#e0b8e4" stroke-width="0.6" fill="none"/>
<path d="M431.10,351.53V360.89M430.00,351.53h2.2M430.00,360.89h2.2" stroke="#e0b8e4" stroke-width="0.6" fill="none"/>
<path d="M435.60,353.24V358.59M434.50,353.24h2.2M434.50,358.59h2.2" stroke="#e0b8e4" stroke-width="0.6" fill="none"/>
<path d="M450.60,351.49V359.51M449.50,351.49h2.2M449.50,359.51h2.2" stroke="#e0b8e4" stroke-width="0.6" fill="none"/>
<path d="M360.60,348.08V352.09M359.50,348.08h2.2M359.50,352.09h2.2" stroke="#e4a0a0" stroke-width="0.6" fill="none"/>
<path d="M375.60,346.75V353.44M374.50,346.75h2.2M374.50,353.44h2.2" stroke="#e4a0a0" stroke-width="0.6" fill="none"/>
<path d="M390.60,345.46V354.82M389.50,345.46h2.2M389.50,354.82h2.2" stroke="#e4a0a0" stroke-width="0.6" fill="none"/>
<path d="M405.60,347.86V353.21M404.50,347.86h2.2M404.50,353.21h2.2" stroke="#e4a0a0" stroke-width="0.6" fill="none"/>
<path d="M416.10,348.10V356.12M415.00,348.10h2.2M415.00,356.12h2.2" stroke="#e4a0a0" stroke-width="0.6" fill="none"/>
<path d="M420.60,351.85V355.86M419.50,351.85h2.2M419.50,355.86h2.2" stroke="#e4a0a0" stroke-width="0.6" fill="none"/>
<path d="M431.10,360.86V367.55M430.00,360.86h2.2M430.00,367.55h2.2" stroke="#e4a0a0" stroke-width="0.6" fill="none"/>
<path d="M435.60,383.50V392.86M434.50,383.50h2.2M434.50,392.86h2.2" stroke="#e4a0a0" stroke-width="0.6" fill="none"/>
<path d="M450.60,396.63V401.97M449.50,396.63h2.2M449.50,401.97h2.2" stroke="#e4a0a0" stroke-width="0.6" fill="none"/>
<path d="M360.60,346.08V354.10M359.50,346.08h2.2M359.50,354.10h2.2" stroke="#a8d0b0" stroke-width="0.6" fill="none"/>
<path d="M375.60,348.09V352.10M374.50,348.09h2.2M374.50,352.10h2.2" stroke="#a8d0b0" stroke-width="0.6" fill="none"/>
<path d="M390.60,346.80V353.48M389.50,346.80h2.2M389.50,353.48h2.2" stroke="#a8d0b0" stroke-width="0.6" fill="none"/>
<path d="M405.60,345.88V355.24M404.50,345.88h2.2M404.50,355.24h2.2" stroke="#a8d0b0" stroke-width="0.6" fill="none"/>
<path d="M416.10,349.55V354.89M415.00,349.55h2.2M415.00,354.89h2.2" stroke="#a8d0b0" stroke-width="0.6" fill="none"/>
<path d="M420.60,350.05V358.07M419.50,350.05h2.2M419.50,358.07h2.2" stroke="#a8d0b0" stroke-width="0.6" fill="none"/>
<path d="M431.10,346.08V350.09M430.00,346.08h2.2M430.00,350.09h2.2" stroke="#a8d0b0" stroke-width="0.6" fill="none"/>
<path d="M435.60,382.17V388.85M434.50,382.17h2.2M434.50,388.85h2.2" stroke="#a8d0b0" stroke-width="0.6" fill="none"/>
<path d="M450.60,395.52V404.87M449.50,395.52h2.2M449.50,404.87h2.2" stroke="#a8d0b0" stroke-width="0.6" fill="none"/>
<path d="M360.60,351.43V356.77M359.50,351.43h2.2M359.50,356.77h2.2" stroke="#e4dca0" stroke-width="0.6" fill="none"/>
<path d="M375.60,350.09V358.11M374.50,350.09h2.2M374.50,358.11h2.2" stroke="#e4dca0" stroke-width="0.6" fill="none"/>
<path d="M390.60,352.17V356.18M389.50,352.17h2.2M389.50,356.18h2.2" stroke="#e4dca0" stroke-width="0.6" fill="none"/>
<path d="M405.60,352.00V358.68M404.50,352.00h2.2M404.50,358.68h2.2" stroke="#e4dca0" stroke-width="0.6" fill="none"/>
<path d="M416.10,357.10V366.46M415.00,357.10h2.2M415.00,366.46h2.2" stroke="#e4dca0" stroke-width="0.6" fill="none"/>
<path d="M420.60,366.55V371.90M419.50,366.55h2.2M419.50,371.90h2.2" stroke="#e4dca0" stroke-width="0.6" fill="none"/>
<path d="M431.10,385.51V393.53M430.00,385.51h2.2M430.00,393.53h2.2" stroke="#e4dca0" stroke-width="0.6" fill="none"/>
<path d="M435.60,403.18V407.19M434.50,403.18h2.2M434.50,407.19h2.2" stroke="#e4dca0" stroke-width="0.6" fill="none"/>
<path d="M450.60,410.85V417.54M449.50,410.85h2.2M449.50,417.54h2.2" stroke="#e4dca0" stroke-width="0.6" fill="none"/>
<path d="M360.60,349.43V358.79M359.50,349.43h2.2M359.50,358.79h2.2" stroke="#ecc0a0" stroke-width="0.6" fill="none"/>
<path d="M375.60,351.51V356.86M374.50,351.51h2.2M374.50,356.86h2.2" stroke="#ecc0a0" stroke-width="0.6" fill="none"/>
<path d="M390.60,350.94V358.96M389.50,350.94h2.2M389.50,358.96h2.2" stroke="#ecc0a0" stroke-width="0.6" fill="none"/>
<path d="M405.60,359.62V363.63M404.50,359.62h2.2M404.50,363.63h2.2" stroke="#ecc0a0" stroke-width="0.6" fill="none"/>
<path d="M416.10,375.97V382.65M415.00,375.97h2.2M415.00,382.65h2.2" stroke="#ecc0a0" stroke-width="0.6" fill="none"/>
<path d="M420.60,394.20V403.56M419.50,394.20h2.2M419.50,403.56h2.2" stroke="#ecc0a0" stroke-width="0.6" fill="none"/>
<path d="M431.10,404.72V410.06M430.00,404.72h2.2M430.00,410.06h2.2" stroke="#ecc0a0" stroke-width="0.6" fill="none"/>
<path d="M435.60,406.89V414.91M434.50,406.89h2.2M434.50,414.91h2.2" stroke="#ecc0a0" stroke-width="0.6" fill="none"/>
<path d="M450.60,412.48V416.49M449.50,412.48h2.2M449.50,416.49h2.2" stroke="#ecc0a0" stroke-width="0.6" fill="none"/>
<path d="M360.60,349.99V356.68M359.50,349.99h2.2M359.50,356.68h2.2" stroke="#a0a8d8" stroke-width="0.6" fill="none"/>
<path d="M375.60,349.13V358.48M374.50,349.13h2.2M374.50,358.48h2.2" stroke="#a0a8d8" stroke-width="0.6" fill="none"/>
<path d="M390.60,356.80V362.15M389.50,356.80h2.2M389.50,362.15h2.2" stroke="#a0a8d8" stroke-width="0.6" fill="none"/>
<path d="M405.60,386.13V394.15M404.50,386.13h2.2M404.50,394.15h2.2" stroke="#a0a8d8" stroke-width="0.6" fill="none"/>
<path d="M416.10,398.21V402.22M415.00,398.21h2.2M415.00,402.22h2.2" stroke="#a0a8d8" stroke-width="0.6" fill="none"/>
<path d="M420.60,408.41V415.10M419.50,408.41h2.2M419.50,415.10h2.2" stroke="#a0a8d8" stroke-width="0.6" fill="none"/>
<path d="M431.10,409.48V418.84M430.00,409.48h2.2M430.00,418.84h2.2" stroke="#a0a8d8" stroke-width="0.6" fill="none"/>
<path d="M435.60,411.75V417.10M434.50,411.75h2.2M434.50,417.10h2.2" stroke="#a0a8d8" stroke-width="0.6" fill="none"/>
<path d="M450.60,410.62V418.64M449.50,410.62h2.2M449.50,418.64h2.2" stroke="#a0a8d8" stroke-width="0.6" fill="none"/>
<polyline points="360.60,357.44 361.73,357.44 362.85,357.44 363.98,357.44 365.10,357.44 366.23,357.44 367.35,357.44 368.48,357.44 369.60,357.44 370.73,357.44 371.85,357.44 372.98,357.44 374.10,357.44 375.23,357.44 376.35,357.44 377.48,357.44 378.60,357.44 379.73,357.44 380.85,357.44 381.98,357.44 383.10,357.44 384.23,357.44 385.35,357.44 386.48,357.44 387.60,357.44 388.73,357.44 389.85,357.43 390.98,357.43 392.10,357.43 393.23,357.43 394.35,357.43 395.48,357.43 396.60,357.42 397.73,357.42 398.85,357.42 399.98,357.41 401.10,357.41 402.23,357.40 403.35,357.40 404.48,357.39 405.60,357.38 406.73,357.37 407.85,357.35 408.98,357.34 410.10,357.32 411.23,357.30 412.35,357.28 413.48,357.25 414.60,357.22 415.73,357.18 416.85,357.14 417.98,357.09 419.10,357.04 420.23,356.98 421.35,356.91 422.48,356.85 423.60,356.77 424.73,356.69 425.85,356.61 426.98,356.52 428.10,356.44 429.23,356.35 430.35,356.27 431.48,356.18 432.60,356.10 433.73,356.03 434.85,355.96 435.98,355.90 437.10,355.84 438.23,355.78 439.35,355.74 440.48,355.70 441.60,355.66 442.73,355.63 443.85,355.60 444.98,355.57 446.10,355.55 447.23,355.54 448.35,355.52 449.48,355.51 450.60,355.50" fill="none" stroke="#a8609f" stroke-width="0.95"/>
<polyline points="360.60,350.09 361.73,350.09 362.85,350.09 363.98,350.09 365.10,350.09 366.23,350.09 367.35,350.09 368.48,350.09 369.60,350.09 370.73,350.09 371.85,350.09 372.98,350.09 374.10,350.09 375.23,350.09 376.35,350.09 377.48,350.10 378.60,350.10 379.73,350.10 380.85,350.10 381.98,350.10 383.10,350.11 384.23,350.11 385.35,350.11 386.48,350.12 387.60,350.12 388.73,350.13 389.85,350.13 390.98,350.14 392.10,350.15 393.23,350.16 394.35,350.18 395.48,350.19 396.60,350.21 397.73,350.23 398.85,350.26 399.98,350.29 401.10,350.32 402.23,350.36 403.35,350.41 404.48,350.47 405.60,350.54 406.73,350.62 407.85,350.71 408.98,350.82 410.10,350.95 411.23,351.10 412.35,351.27 413.48,351.48 414.60,351.72 415.73,352.00 416.85,352.33 417.98,352.71 419.10,353.16 420.23,353.67 421.35,354.26 422.48,354.95 423.60,355.73 424.73,356.62 425.85,357.63 426.98,358.78 428.10,360.06 429.23,361.49 430.35,363.07 431.48,364.80 432.60,366.67 433.73,368.68 434.85,370.82 435.98,373.05 437.10,375.37 438.23,377.73 439.35,380.11 440.48,382.48 441.60,384.81 442.73,387.07 443.85,389.22 444.98,391.26 446.10,393.16 447.23,394.92 448.35,396.53 449.48,397.99 450.60,399.30" fill="none" stroke="#d23636" stroke-width="0.95"/>
<polyline points="360.60,350.09 361.73,350.09 362.85,350.09 363.98,350.09 365.10,350.09 366.23,350.09 367.35,350.09 368.48,350.09 369.60,350.09 370.73,350.09 371.85,350.09 372.98,350.09 374.10,350.09 375.23,350.09 376.35,350.10 377.48,350.10 378.60,350.10 379.73,350.10 380.85,350.10 381.98,350.10 383.10,350.11 384.23,350.11 385.35,350.11 386.48,350.12 387.60,350.12 388.73,350.13 389.85,350.14 390.98,350.14 392.10,350.16 393.23,350.17 394.35,350.18 395.48,350.20 396.60,350.22 397.73,350.24 398.85,350.27 399.98,350.30 401.10,350.34 402.23,350.38 403.35,350.43 404.48,350.49 405.60,350.56 406.73,350.65 407.85,350.74 408.98,350.86 410.10,351.00 411.23,351.15 412.35,351.34 413.48,351.56 414.60,351.81 415.73,352.11 416.85,352.46 417.98,352.86 419.10,353.32 420.23,353.86 421.35,354.49 422.48,355.20 423.60,356.02 424.73,356.96 425.85,358.02 426.98,359.21 428.10,360.55 429.23,362.03 430.35,363.67 431.48,365.46 432.60,367.39 433.73,369.46 434.85,371.65 435.98,373.93 437.10,376.29 438.23,378.69 439.35,381.10 440.48,383.49 441.60,385.83 442.73,388.08 443.85,390.23 444.98,392.26 446.10,394.14 447.23,395.88 448.35,397.47 449.48,398.91 450.60,400.19" fill="none" stroke="#4cac58" stroke-width="0.95"/>
<polyline points="360.60,354.10 361.73,354.10 362.85,354.10 363.98,354.10 365.10,354.10 366.23,354.10 367.35,354.10 368.48,354.10 369.60,354.10 370.73,354.10 371.85,354.10 372.98,354.10 374.10,354.10 375.23,354.10 376.35,354.10 377.48,354.11 378.60,354.11 379.73,354.11 380.85,354.11 381.98,354.11 383.10,354.12 384.23,354.12 385.35,354.13 386.48,354.14 387.60,354.14 388.73,354.16 389.85,354.17 390.98,354.18 392.10,354.20 393.23,354.23 394.35,354.26 395.48,354.29 396.60,354.34 397.73,354.39 398.85,354.46 399.98,354.55 401.10,354.65 402.23,354.77 403.35,354.93 404.48,355.11 405.60,355.34 406.73,355.62 407.85,355.96 408.98,356.38 410.10,356.88 411.23,357.48 412.35,358.21 413.48,359.08 414.60,360.11 415.73,361.33 416.85,362.76 417.98,364.41 419.10,366.31 420.23,368.46 421.35,370.85 422.48,373.48 423.60,376.31 424.73,379.31 425.85,382.41 426.98,385.56 428.10,388.68 429.23,391.72 430.35,394.61 431.48,397.31 432.60,399.79 433.73,402.02 434.85,404.00 435.98,405.73 437.10,407.24 438.23,408.52 439.35,409.61 440.48,410.54 441.60,411.31 442.73,411.95 443.85,412.48 444.98,412.92 446.10,413.29 447.23,413.58 448.35,413.83 449.48,414.03 450.60,414.19" fill="none" stroke="#d2c640" stroke-width="0.95"/>
<polyline points="360.60,354.11 361.73,354.11 362.85,354.11 363.98,354.11 365.10,354.12 366.23,354.12 367.35,354.12 368.48,354.13 369.60,354.13 370.73,354.14 371.85,354.15 372.98,354.16 374.10,354.17 375.23,354.18 376.35,354.19 377.48,354.21 378.60,354.23 379.73,354.26 380.85,354.29 381.98,354.33 383.10,354.37 384.23,354.42 385.35,354.48 386.48,354.55 387.60,354.64 388.73,354.74 389.85,354.85 390.98,354.99 392.10,355.16 393.23,355.36 394.35,355.59 395.48,355.86 396.60,356.18 397.73,356.56 398.85,357.00 399.98,357.52 401.10,358.12 402.23,358.82 403.35,359.63 404.48,360.56 405.60,361.63 406.73,362.84 407.85,364.21 408.98,365.76 410.10,367.47 411.23,369.36 412.35,371.42 413.48,373.63 414.60,375.99 415.73,378.46 416.85,381.02 417.98,383.63 419.10,386.26 420.23,388.85 421.35,391.39 422.48,393.83 423.60,396.14 424.73,398.30 425.85,400.30 426.98,402.14 428.10,403.79 429.23,405.28 430.35,406.60 431.48,407.76 432.60,408.78 433.73,409.67 434.85,410.44 435.98,411.11 437.10,411.68 438.23,412.17 439.35,412.59 440.48,412.95 441.60,413.25 442.73,413.51 443.85,413.73 444.98,413.91 446.10,414.07 447.23,414.20 448.35,414.31 449.48,414.41 450.60,414.49" fill="none" stroke="#de7632" stroke-width="0.95"/>
<polyline points="360.60,353.33 361.73,353.34 362.85,353.35 363.98,353.36 365.10,353.38 366.23,353.40 367.35,353.42 368.48,353.44 369.60,353.48 370.73,353.52 371.85,353.56 372.98,353.62 374.10,353.69 375.23,353.77 376.35,353.87 377.48,354.00 378.60,354.14 379.73,354.32 380.85,354.54 381.98,354.80 383.10,355.12 384.23,355.49 385.35,355.94 386.48,356.48 387.60,357.13 388.73,357.89 389.85,358.79 390.98,359.84 392.10,361.07 393.23,362.50 394.35,364.13 395.48,365.97 396.60,368.04 397.73,370.34 398.85,372.83 399.98,375.51 401.10,378.34 402.23,381.27 403.35,384.25 404.48,387.23 405.60,390.14 406.73,392.95 407.85,395.59 408.98,398.05 410.10,400.30 411.23,402.33 412.35,404.14 413.48,405.73 414.60,407.12 415.73,408.31 416.85,409.34 417.98,410.21 419.10,410.95 420.23,411.57 421.35,412.09 422.48,412.53 423.60,412.89 424.73,413.20 425.85,413.45 426.98,413.66 428.10,413.83 429.23,413.97 430.35,414.09 431.48,414.19 432.60,414.27 433.73,414.34 434.85,414.39 435.98,414.44 437.10,414.48 438.23,414.51 439.35,414.53 440.48,414.55 441.60,414.57 442.73,414.58 443.85,414.60 444.98,414.60 446.10,414.61 447.23,414.62 448.35,414.62 449.48,414.63 450.60,414.63" fill="none" stroke="#3048a6" stroke-width="0.95"/>
<rect x="359.60" y="356.44" width="2.0" height="2.0" fill="#d4a8d8" fill-opacity="0.6"/>
<rect x="374.60" y="356.44" width="2.0" height="2.0" fill="#d4a8d8" fill-opacity="0.6"/>
<rect x="389.60" y="356.43" width="2.0" height="2.0" fill="#d4a8d8" fill-opacity="0.6"/>
<rect x="404.60" y="356.38" width="2.0" height="2.0" fill="#d4a8d8" fill-opacity="0.6"/>
<rect x="415.10" y="356.17" width="2.0" height="2.0" fill="#d4a8d8" fill-opacity="0.6"/>
<rect x="419.60" y="355.96" width="2.0" height="2.0" fill="#d4a8d8" fill-opacity="0.6"/>
<rect x="430.10" y="355.21" width="2.0" height="2.0" fill="#d4a8d8" fill-opacity="0.6"/>
<rect x="434.60" y="354.92" width="2.0" height="2.0" fill="#d4a8d8" fill-opacity="0.6"/>
<rect x="449.60" y="354.50" width="2.0" height="2.0" fill="#d4a8d8" fill-opacity="0.6"/>
<rect x="359.50" y="348.99" width="2.2" height="2.2" fill="#9a2428"/>
<rect x="374.50" y="348.99" width="2.2" height="2.2" fill="#9a2428"/>
<rect x="389.50" y="349.04" width="2.2" height="2.2" fill="#9a2428"/>
<rect x="404.50" y="349.44" width="2.2" height="2.2" fill="#9a2428"/>
<rect x="415.00" y="351.01" width="2.2" height="2.2" fill="#9a2428"/>
<rect x="419.50" y="352.76" width="2.2" height="2.2" fill="#9a2428"/>
<rect x="430.00" y="363.11" width="2.2" height="2.2" fill="#9a2428"/>
<rect x="434.50" y="387.08" width="2.2" height="2.2" fill="#9a2428"/>
<rect x="449.50" y="398.20" width="2.2" height="2.2" fill="#9a2428"/>
<rect x="359.50" y="348.99" width="2.2" height="2.2" fill="#2e6a44"/>
<rect x="374.50" y="348.99" width="2.2" height="2.2" fill="#2e6a44"/>
<rect x="389.50" y="349.04" width="2.2" height="2.2" fill="#2e6a44"/>
<rect x="404.50" y="349.46" width="2.2" height="2.2" fill="#2e6a44"/>
<rect x="415.00" y="351.12" width="2.2" height="2.2" fill="#2e6a44"/>
<rect x="419.50" y="352.96" width="2.2" height="2.2" fill="#2e6a44"/>
<rect x="430.00" y="346.98" width="2.2" height="2.2" fill="#2e6a44"/>
<rect x="434.50" y="384.41" width="2.2" height="2.2" fill="#2e6a44"/>
<rect x="449.50" y="399.09" width="2.2" height="2.2" fill="#2e6a44"/>
<rect x="359.50" y="353.00" width="2.2" height="2.2" fill="#b8b050"/>
<rect x="374.50" y="353.00" width="2.2" height="2.2" fill="#b8b050"/>
<rect x="389.50" y="353.08" width="2.2" height="2.2" fill="#b8b050"/>
<rect x="404.50" y="354.24" width="2.2" height="2.2" fill="#b8b050"/>
<rect x="415.00" y="360.68" width="2.2" height="2.2" fill="#b8b050"/>
<rect x="419.50" y="368.13" width="2.2" height="2.2" fill="#b8b050"/>
<rect x="430.00" y="388.42" width="2.2" height="2.2" fill="#b8b050"/>
<rect x="434.50" y="404.08" width="2.2" height="2.2" fill="#b8b050"/>
<rect x="449.50" y="413.09" width="2.2" height="2.2" fill="#b8b050"/>
<rect x="359.50" y="353.01" width="2.2" height="2.2" fill="#c86a30"/>
<rect x="374.50" y="353.08" width="2.2" height="2.2" fill="#c86a30"/>
<rect x="389.50" y="353.85" width="2.2" height="2.2" fill="#c86a30"/>
<rect x="404.50" y="360.53" width="2.2" height="2.2" fill="#c86a30"/>
<rect x="415.00" y="378.21" width="2.2" height="2.2" fill="#c86a30"/>
<rect x="419.50" y="397.78" width="2.2" height="2.2" fill="#c86a30"/>
<rect x="430.00" y="406.29" width="2.2" height="2.2" fill="#c86a30"/>
<rect x="434.50" y="409.80" width="2.2" height="2.2" fill="#c86a30"/>
<rect x="449.50" y="413.39" width="2.2" height="2.2" fill="#c86a30"/>
<rect x="359.50" y="352.23" width="2.2" height="2.2" fill="#1e2c7a"/>
<rect x="374.50" y="352.70" width="2.2" height="2.2" fill="#1e2c7a"/>
<rect x="389.50" y="358.37" width="2.2" height="2.2" fill="#1e2c7a"/>
<rect x="404.50" y="389.04" width="2.2" height="2.2" fill="#1e2c7a"/>
<rect x="415.00" y="399.11" width="2.2" height="2.2" fill="#1e2c7a"/>
<rect x="419.50" y="410.65" width="2.2" height="2.2" fill="#1e2c7a"/>
<rect x="430.00" y="413.06" width="2.2" height="2.2" fill="#1e2c7a"/>
<rect x="434.50" y="413.32" width="2.2" height="2.2" fill="#1e2c7a"/>
<rect x="449.50" y="413.53" width="2.2" height="2.2" fill="#1e2c7a"/>
<rect x="463.4" y="233.20" width="2.4" height="2.4" fill="#7a3038"/>
<text x="472.00" y="236.60" font-size="6.3" stroke="#111" stroke-width="0.15" fill="#111">PSMA ADC</text>
<rect x="463.4" y="243.30" width="2.4" height="2.4" fill="#242c5c"/>
<text x="472.00" y="246.70" font-size="6.3" stroke="#111" stroke-width="0.15" fill="#111">MMAE</text>
<rect x="463.4" y="252.90" width="2.4" height="2.4" fill="#c8b4dc"/>
<text x="472.00" y="256.30" font-size="6.3" stroke="#111" stroke-width="0.15" fill="#111">PSMA mAb</text>
<rect x="463.4" y="262.70" width="2.4" height="2.4" fill="#3a8a74"/>
<text x="472.00" y="266.10" font-size="6.3" stroke="#111" stroke-width="0.15" fill="#111">control ADC</text>
<rect x="463.4" y="272.50" width="2.4" height="2.4" fill="#c86c30"/>
<text x="472.00" y="275.90" font-size="6.3" stroke="#111" stroke-width="0.15" fill="#111">docetaxel</text>
<rect x="463.4" y="282.70" width="2.4" height="2.4" fill="#a8b048"/>
<text x="472.00" y="286.10" font-size="6.3" stroke="#111" stroke-width="0.15" fill="#111">paclitaxel</text>
<text x="14.00" y="209.40" font-size="12" stroke="#000" stroke-width="0.6" font-weight="bold">C</text>
<text x="121.90" y="467.90" font-size="12" stroke="#000" stroke-width="0.6" font-weight="bold">D</text>
<line x1="167.10" y1="463.60" x2="167.10" y2="596.50" stroke="#707070" stroke-width="1.1"/>
<line x1="167.10" y1="596.00" x2="365.10" y2="596.00" stroke="#707070" stroke-width="1.1"/>
<line x1="163.60" y1="596.00" x2="167.10" y2="596.00" stroke="#707070" stroke-width="1.1"/>
<text x="160.90" y="598.90" font-size="8.2" text-anchor="end" fill="#111">0</text>
<line x1="163.60" y1="562.90" x2="167.10" y2="562.90" stroke="#707070" stroke-width="1.1"/>
<text x="160.90" y="565.80" font-size="8.2" text-anchor="end" fill="#111">30</text>
<line x1="163.60" y1="529.80" x2="167.10" y2="529.80" stroke="#707070" stroke-width="1.1"/>
<text x="160.90" y="532.70" font-size="8.2" text-anchor="end" fill="#111">60</text>
<line x1="163.60" y1="496.70" x2="167.10" y2="496.70" stroke="#707070" stroke-width="1.1"/>
<text x="160.90" y="499.60" font-size="8.2" text-anchor="end" fill="#111">90</text>
<line x1="163.60" y1="463.60" x2="167.10" y2="463.60" stroke="#707070" stroke-width="1.1"/>
<text x="160.90" y="466.50" font-size="8.2" text-anchor="end" fill="#111">120</text>
<line x1="167.10" y1="596.00" x2="167.10" y2="599.50" stroke="#707070" stroke-width="1.1"/>
<rect x="162.50" y="605.20" width="4.00" height="0.95" fill="#222"/>
<text x="166.90" y="608.80" font-size="8.4" fill="#111">3</text>
<line x1="216.10" y1="596.00" x2="216.10" y2="599.50" stroke="#707070" stroke-width="1.1"/>
<rect x="211.50" y="605.20" width="4.00" height="0.95" fill="#222"/>
<text x="215.90" y="608.80" font-size="8.4" fill="#111">2</text>
<line x1="265.10" y1="596.00" x2="265.10" y2="599.50" stroke="#707070" stroke-width="1.1"/>
<rect x="260.50" y="605.20" width="4.00" height="0.95" fill="#222"/>
<text x="264.90" y="608.80" font-size="8.4" fill="#111">1</text>
<line x1="314.10" y1="596.00" x2="314.10" y2="599.50" stroke="#707070" stroke-width="1.1"/>
<text x="314.40" y="608.80" font-size="8.4" text-anchor="middle" fill="#111">0</text>
<line x1="363.10" y1="596.00" x2="363.10" y2="599.50" stroke="#707070" stroke-width="1.1"/>
<text x="363.40" y="608.80" font-size="8.4" text-anchor="middle" fill="#111">1</text>
<text transform="translate(142.80,562.20) rotate(-90)" font-size="8.7" font-weight="bold" textLength="69.0" lengthAdjust="spacingAndGlyphs">% Cells survived</text>
<text x="226.60" y="625.30" font-size="8.0" font-weight="bold" textLength="74.7" lengthAdjust="spacingAndGlyphs">Log conc. (nmol/L)</text>
<polyline points="206.30,481.50 208.14,482.90 209.97,484.39 211.81,485.98 213.65,487.67 215.49,489.47 217.32,491.38 219.16,493.40 221.00,495.52 222.84,497.75 224.67,500.09 226.51,502.53 228.35,505.06 230.19,507.68 232.02,510.38 233.86,513.16 235.70,516.01 237.54,518.90 239.38,521.84 241.21,524.80 243.05,527.79 244.89,530.77 246.72,533.74 248.56,536.70 250.40,539.61 252.24,542.48 254.07,545.28 255.91,548.02 257.75,550.68 259.59,553.25 261.42,555.73 263.26,558.11 265.10,560.39 266.94,562.56 268.77,564.62 270.61,566.57 272.45,568.42 274.29,570.16 276.12,571.79 277.96,573.33 279.80,574.76 281.64,576.10 283.48,577.34 285.31,578.50 287.15,579.58 288.99,580.57 290.82,581.49 292.66,582.34 294.50,583.13 296.34,583.85 298.17,584.52 300.01,585.13 301.85,585.70 303.69,586.21 305.52,586.69 307.36,587.12 309.20,587.52 311.04,587.88 312.88,588.22 314.71,588.52 316.55,588.80 318.39,589.06 320.23,589.29 322.06,589.50 323.90,589.70 325.74,589.88 327.57,590.04 329.41,590.19 331.25,590.32 333.09,590.44 334.92,590.56 336.76,590.66 338.60,590.75 340.44,590.83 342.27,590.91 344.11,590.98 345.95,591.05 347.79,591.10 349.62,591.16 351.46,591.21 353.30,591.25" fill="none" stroke="#2a3f9f" stroke-width="1.6"/>
<polyline points="206.30,482.36 208.14,484.04 209.97,485.83 211.81,487.73 213.65,489.75 215.49,491.89 217.32,494.14 219.16,496.50 221.00,498.97 222.84,501.55 224.67,504.23 226.51,507.00 228.35,509.85 230.19,512.78 232.02,515.77 233.86,518.82 235.70,521.90 237.54,525.01 239.38,528.12 241.21,531.24 243.05,534.33 244.89,537.39 246.72,540.41 248.56,543.36 250.40,546.25 252.24,549.06 254.07,551.77 255.91,554.39 257.75,556.91 259.59,559.32 261.42,561.61 263.26,563.80 265.10,565.86 266.94,567.81 268.77,569.65 270.61,571.38 272.45,572.99 274.29,574.50 276.12,575.91 277.96,577.22 279.80,578.43 281.64,579.56 283.48,580.60 285.31,581.57 287.15,582.46 288.99,583.27 290.82,584.03 292.66,584.72 294.50,585.36 296.34,585.94 298.17,586.47 300.01,586.96 301.85,587.41 303.69,587.82 305.52,588.20 307.36,588.54 309.20,588.85 311.04,589.13 312.88,589.39 314.71,589.63 316.55,589.85 318.39,590.04 320.23,590.22 322.06,590.39 323.90,590.54 325.74,590.67 327.57,590.79 329.41,590.91 331.25,591.01 333.09,591.10 334.92,591.19 336.76,591.26 338.60,591.33 340.44,591.40 342.27,591.45 344.11,591.51 345.95,591.55 347.79,591.60 349.62,591.64 351.46,591.67 353.30,591.71" fill="none" stroke="#b050c0" stroke-width="1.6"/>
<polyline points="206.30,480.27 208.14,480.76 209.97,481.30 211.81,481.88 213.65,482.51 215.49,483.19 217.32,483.91 219.16,484.70 221.00,485.54 222.84,486.44 224.67,487.41 226.51,488.45 228.35,489.55 230.19,490.73 232.02,491.99 233.86,493.32 235.70,494.73 237.54,496.23 239.38,497.81 241.21,499.46 243.05,501.21 244.89,503.03 246.72,504.93 248.56,506.91 250.40,508.97 252.24,511.09 254.07,513.28 255.91,515.53 257.75,517.83 259.59,520.17 261.42,522.56 263.26,524.97 265.10,527.40 266.94,529.84 268.77,532.28 270.61,534.72 272.45,537.13 274.29,539.52 276.12,541.88 277.96,544.19 279.80,546.45 281.64,548.66 283.48,550.80 285.31,552.87 287.15,554.87 288.99,556.79 290.82,558.63 292.66,560.39 294.50,562.07 296.34,563.67 298.17,565.18 300.01,566.61 301.85,567.97 303.69,569.24 305.52,570.44 307.36,571.56 309.20,572.61 311.04,573.60 312.88,574.52 314.71,575.37 316.55,576.17 318.39,576.91 320.23,577.60 322.06,578.24 323.90,578.83 325.74,579.38 327.57,579.89 329.41,580.35 331.25,580.79 333.09,581.19 334.92,581.56 336.76,581.90 338.60,582.21 340.44,582.50 342.27,582.76 344.11,583.01 345.95,583.23 347.79,583.44 349.62,583.63 351.46,583.80 353.30,583.96" fill="none" stroke="#e0282c" stroke-width="1.6"/>
<line x1="206.30" y1="495.60" x2="206.30" y2="471.33" stroke="#c898b0" stroke-width="0.8"/>
<line x1="204.10" y1="495.60" x2="208.50" y2="495.60" stroke="#c898b0" stroke-width="0.8"/>
<line x1="204.10" y1="471.33" x2="208.50" y2="471.33" stroke="#c898b0" stroke-width="0.8"/>
<line x1="221.00" y1="513.25" x2="221.00" y2="499.35" stroke="#c898b0" stroke-width="0.8"/>
<line x1="218.80" y1="513.25" x2="223.20" y2="513.25" stroke="#c898b0" stroke-width="0.8"/>
<line x1="218.80" y1="499.35" x2="223.20" y2="499.35" stroke="#c898b0" stroke-width="0.8"/>
<line x1="221.00" y1="494.50" x2="221.00" y2="479.05" stroke="#c898b0" stroke-width="0.8"/>
<line x1="218.80" y1="494.50" x2="223.20" y2="494.50" stroke="#c898b0" stroke-width="0.8"/>
<line x1="218.80" y1="479.05" x2="223.20" y2="479.05" stroke="#c898b0" stroke-width="0.8"/>
<line x1="255.30" y1="509.39" x2="255.30" y2="488.10" stroke="#c07090" stroke-width="0.8"/>
<line x1="253.10" y1="509.39" x2="257.50" y2="509.39" stroke="#c07090" stroke-width="0.8"/>
<line x1="253.10" y1="488.10" x2="257.50" y2="488.10" stroke="#c07090" stroke-width="0.8"/>
<line x1="255.30" y1="554.07" x2="255.30" y2="538.63" stroke="#c898b0" stroke-width="0.8"/>
<line x1="253.10" y1="554.07" x2="257.50" y2="554.07" stroke="#c898b0" stroke-width="0.8"/>
<line x1="253.10" y1="538.63" x2="257.50" y2="538.63" stroke="#c898b0" stroke-width="0.8"/>
<line x1="270.00" y1="587.73" x2="270.00" y2="574.60" stroke="#a0a0d0" stroke-width="0.8"/>
<line x1="267.80" y1="587.73" x2="272.20" y2="587.73" stroke="#a0a0d0" stroke-width="0.8"/>
<line x1="267.80" y1="574.60" x2="272.20" y2="574.60" stroke="#a0a0d0" stroke-width="0.8"/>
<line x1="304.30" y1="573.38" x2="304.30" y2="567.31" stroke="#d08080" stroke-width="0.8"/>
<line x1="302.10" y1="573.38" x2="306.50" y2="573.38" stroke="#d08080" stroke-width="0.8"/>
<line x1="302.10" y1="567.31" x2="306.50" y2="567.31" stroke="#d08080" stroke-width="0.8"/>
<line x1="319.00" y1="590.81" x2="319.00" y2="584.31" stroke="#a0a0d0" stroke-width="0.8"/>
<line x1="316.80" y1="590.81" x2="321.20" y2="590.81" stroke="#a0a0d0" stroke-width="0.8"/>
<line x1="316.80" y1="584.31" x2="321.20" y2="584.31" stroke="#a0a0d0" stroke-width="0.8"/>
<line x1="353.30" y1="587.73" x2="353.30" y2="581.66" stroke="#c07090" stroke-width="0.8"/>
<line x1="351.10" y1="587.73" x2="355.50" y2="587.73" stroke="#c07090" stroke-width="0.8"/>
<line x1="351.10" y1="581.66" x2="355.50" y2="581.66" stroke="#c07090" stroke-width="0.8"/>
<line x1="270.00" y1="553.52" x2="270.00" y2="548.01" stroke="#d08080" stroke-width="0.8"/>
<line x1="267.80" y1="553.52" x2="272.20" y2="553.52" stroke="#d08080" stroke-width="0.8"/>
<line x1="267.80" y1="548.01" x2="272.20" y2="548.01" stroke="#d08080" stroke-width="0.8"/>
<path d="M206.30,480.36 L208.30,483.96 L204.30,483.96 Z" fill="#c050b0"/>
<path d="M221.00,502.65 L223.00,506.25 L219.00,506.25 Z" fill="#c050b0"/>
<path d="M255.30,547.66 L257.30,551.26 L253.30,551.26 Z" fill="#c050b0"/>
<path d="M319.00,588.92 L321.00,592.52 L317.00,592.52 Z" fill="#c050b0"/>
<path d="M353.30,588.48 L355.30,592.08 L351.30,592.08 Z" fill="#c050b0"/>
<rect x="204.60" y="484.19" width="3.4" height="3.4" fill="#2a3f9f"/>
<rect x="219.30" y="488.71" width="3.4" height="3.4" fill="#2a3f9f"/>
<rect x="253.60" y="541.34" width="3.4" height="3.4" fill="#2a3f9f"/>
<rect x="268.30" y="577.53" width="3.4" height="3.4" fill="#2a3f9f"/>
<rect x="302.60" y="585.58" width="3.4" height="3.4" fill="#2a3f9f"/>
<rect x="317.30" y="586.03" width="3.4" height="3.4" fill="#2a3f9f"/>
<rect x="351.60" y="585.47" width="3.4" height="3.4" fill="#2a3f9f"/>
<path d="M204.30,480.21 L208.30,480.21 L206.30,483.81 Z" fill="#d82020"/>
<path d="M219.00,484.29 L223.00,484.29 L221.00,487.89 Z" fill="#d82020"/>
<path d="M253.30,496.98 L257.30,496.98 L255.30,500.58 Z" fill="#d82020"/>
<path d="M268.00,549.16 L272.00,549.16 L270.00,552.76 Z" fill="#d82020"/>
<path d="M302.30,568.69 L306.30,568.69 L304.30,572.29 Z" fill="#d82020"/>
<path d="M317.00,576.64 L321.00,576.64 L319.00,580.24 Z" fill="#d82020"/>
<path d="M351.30,582.93 L355.30,582.93 L353.30,586.53 Z" fill="#d82020"/>
<rect x="311" y="471.5" width="3.4" height="3.4" fill="#3a4aa0"/>
<path d="M313,488 L315,491.5 L311,491.5 Z" fill="#c060b0"/>
<path d="M311,505 L315,505 L313,508.5 Z" fill="#d02020"/>
<text x="321.20" y="476.60" font-size="8.6" fill="#111" textLength="44.6" lengthAdjust="spacingAndGlyphs">PSMA ADC</text>
<text x="321.20" y="493.90" font-size="8.6" fill="#111" textLength="68.2" lengthAdjust="spacingAndGlyphs">PSMA ADC+ZJ24</text>
<text x="321.20" y="510.10" font-size="8.6" fill="#111" textLength="67.6" lengthAdjust="spacingAndGlyphs">PSMA ADC+J591</text>
<rect x="0.00" y="0.00" width="520.00" height="1.00" fill="#7a7a7a"/>
<rect x="0.00" y="0.00" width="1.00" height="644.00" fill="#7a7a7a"/>
<rect x="518.00" y="0.00" width="2.00" height="644.00" fill="#b0b0b0"/>
<rect x="0.00" y="643.00" width="520.00" height="1.00" fill="#7a7a80"/>
<rect x="0.00" y="642.00" width="520.00" height="1.00" fill="#c8c8c8"/>
</svg></body></html>
